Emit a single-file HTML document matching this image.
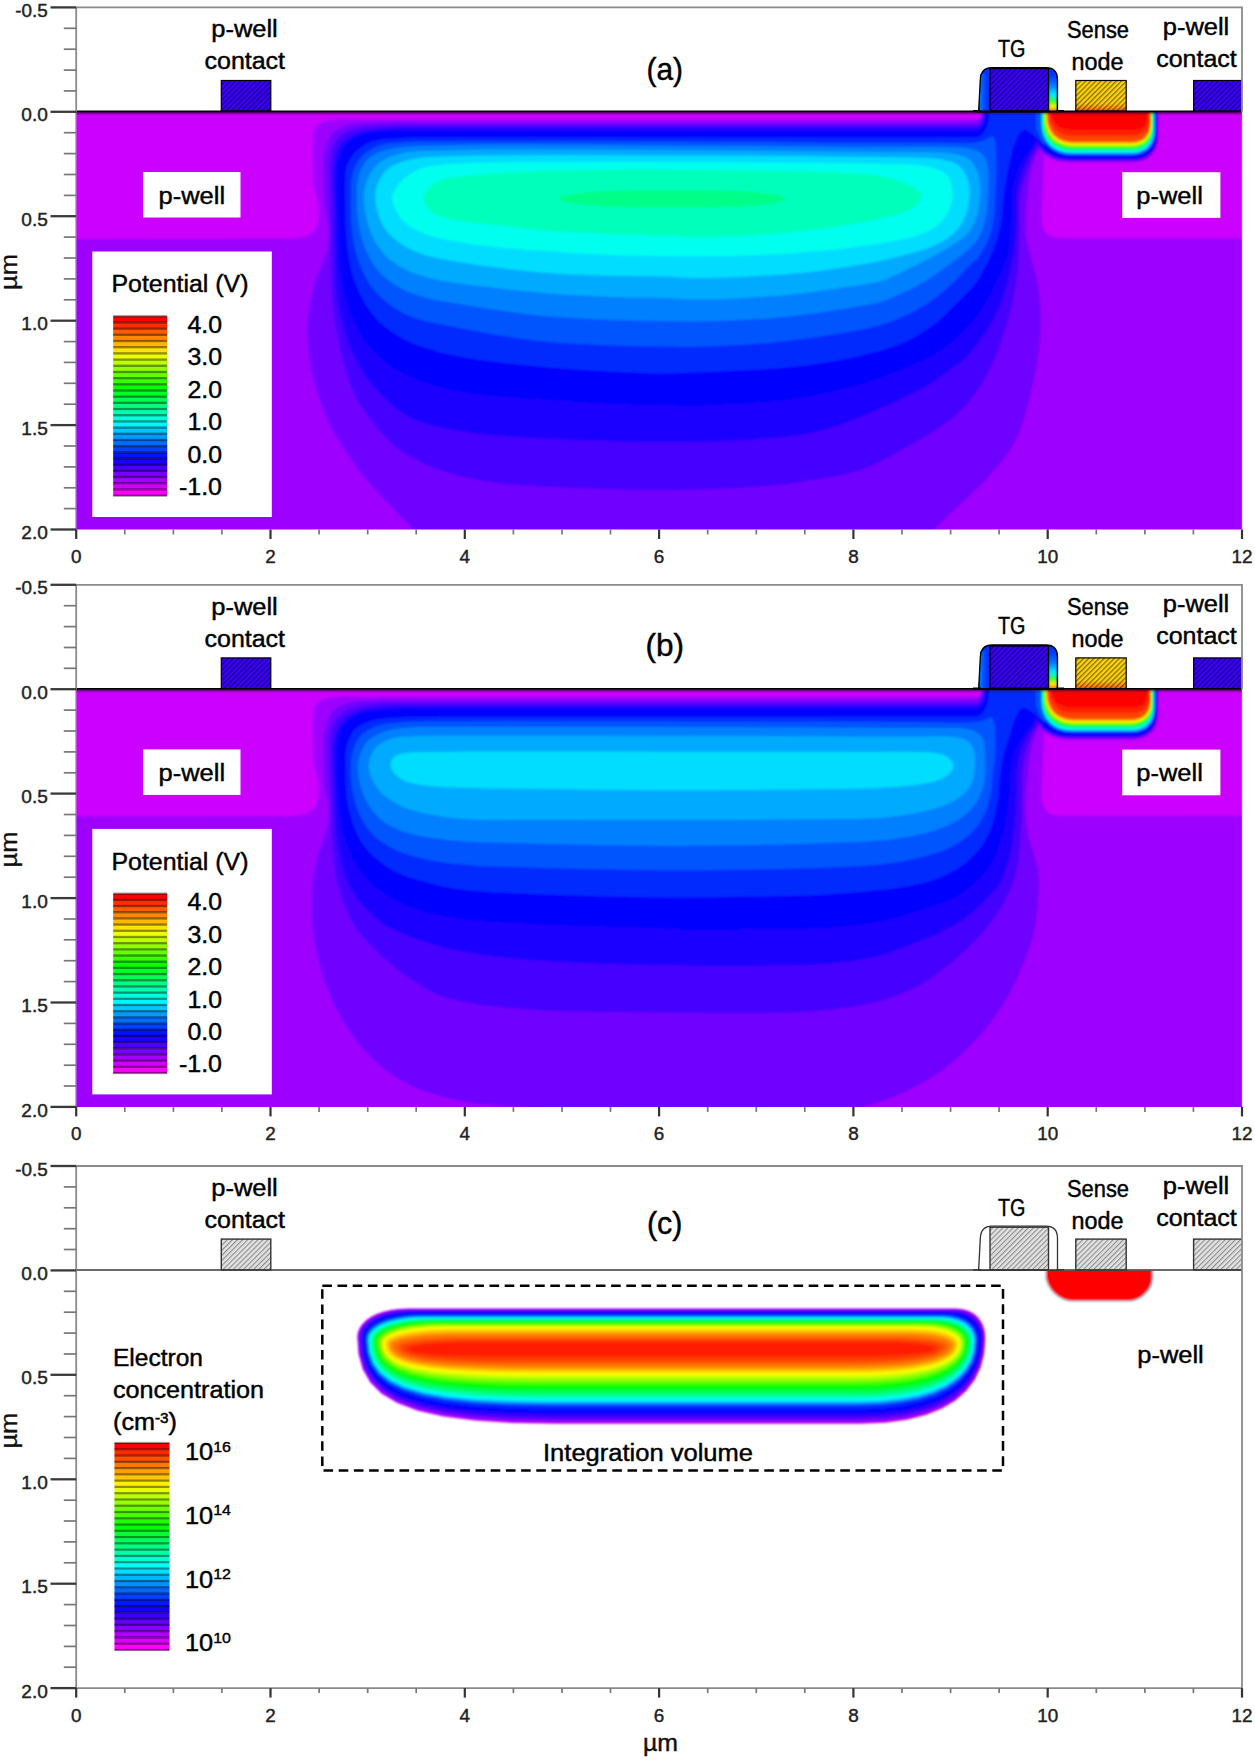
<!DOCTYPE html>
<html><head><meta charset="utf-8"><title>Figure</title>
<style>html,body{margin:0;padding:0;background:#fff}svg{display:block}</style></head>
<body>
<svg width="1255" height="1761" viewBox="0 0 1255 1761" font-family="Liberation Sans, sans-serif"><defs>
<pattern id="h1" width="3.6" height="3.6" patternUnits="userSpaceOnUse" patternTransform="rotate(-45)"><rect width="3.6" height="1.25" fill="#000" fill-opacity="0.5"/></pattern>
<pattern id="h2" width="3.6" height="3.6" patternUnits="userSpaceOnUse" patternTransform="rotate(-45)"><rect width="3.6" height="1.1" fill="#555" fill-opacity="0.62"/></pattern>
<filter id="bl" x="-2%" y="-2%" width="104%" height="104%"><feGaussianBlur stdDeviation="1.0"/></filter>
<clipPath id="cpa"><rect x="76.2" y="111.8" width="1165.8" height="417.7"/></clipPath><clipPath id="cpa2"><rect x="76.2" y="0" width="1165.8" height="529.5"/></clipPath>
<clipPath id="cpb"><rect x="76.2" y="689.2" width="1165.8" height="417.7"/></clipPath><clipPath id="cpb2"><rect x="76.2" y="577" width="1165.8" height="529.9"/></clipPath>
<clipPath id="cpc"><rect x="76.2" y="1270.4" width="1165.8" height="418"/></clipPath><clipPath id="cpc2"><rect x="76.2" y="1160" width="1165.8" height="529"/></clipPath>
</defs>
<g clip-path="url(#cpa)"><g filter="url(#bl)">
<rect x="50" y="103.8" width="1220" height="450" fill="#9D00FF"/>
<path d="M50.0,103.8L990.0,103.8L990.0,119.3L340.0,119.3L326.0,121.0L317.0,125.0L313.5,131.0L313.0,150.0L313.5,185.0L314.2,188.0L315.0,191.1L315.7,194.2L316.4,197.2L317.0,200.0L317.4,202.1L317.8,204.1L318.1,206.0L318.4,207.9L318.5,210.0L318.6,212.7L318.6,215.6L318.4,218.6L318.1,221.5L317.5,224.0L316.9,225.8L316.1,227.6L315.2,229.2L314.2,230.7L313.0,232.0L311.5,233.3L309.8,234.4L308.0,235.4L306.0,236.3L304.0,237.0L301.4,237.6L298.7,237.9L295.8,238.1L292.9,238.3L290.0,238.5L50.0,239.0Z" fill="#CC00FF" />
<path d="M1270.0,103.8L1270.0,238.5L1062.0,238.0L1059.5,237.7L1057.0,237.5L1054.4,237.3L1052.1,236.8L1050.0,236.0L1048.4,235.0L1046.9,233.7L1045.6,232.3L1044.5,230.7L1043.5,229.0L1042.6,226.7L1042.1,224.0L1041.8,221.2L1041.6,218.2L1041.5,215.0L1041.4,210.5L1041.6,205.5L1041.9,200.3L1042.2,195.1L1042.5,190.0L1042.7,184.9L1042.9,179.7L1043.1,174.5L1043.3,169.6L1043.5,165.0L1043.6,161.8L1043.7,158.7L1043.8,155.8L1043.9,152.9L1044.0,150.0L1040.0,103.8Z" fill="#CC00FF" />
<path d="M440.0,122.5L429.4,122.5L418.4,122.4L407.5,122.3L396.8,122.3L386.9,122.4L378.0,122.6L372.6,122.8L367.6,122.9L362.9,123.0L358.5,123.3L354.2,123.9L350.2,124.7L347.0,125.6L343.9,126.6L341.0,127.7L338.3,129.0L335.7,130.6L333.5,132.5L331.5,134.8L329.8,137.5L328.3,140.4L327.0,143.5L325.9,146.7L325.0,150.0L324.3,153.8L323.9,157.8L323.8,162.0L323.9,166.3L324.0,170.6L324.0,175.0L324.0,180.0L324.1,185.2L324.2,190.5L324.4,195.8L324.6,201.0L325.0,206.0L325.5,210.2L326.2,214.3L326.9,218.3L327.6,222.3L328.2,226.2L328.5,230.0L328.6,233.5L328.5,236.9L328.3,240.3L328.0,243.6L327.6,246.9L327.0,250.0L326.4,252.7L325.6,255.3L324.7,257.9L323.8,260.3L322.9,262.7L322.0,265.0L321.3,266.7L320.5,268.3L319.8,269.8L319.0,271.4L318.2,273.1L317.5,275.0L316.4,278.5L315.2,282.5L314.0,286.8L312.9,291.2L311.9,295.7L311.0,300.0L310.2,304.1L309.4,308.3L308.8,312.5L308.2,316.6L307.8,320.8L307.5,325.0L307.4,329.2L307.5,333.3L307.6,337.5L307.9,341.7L308.3,345.8L308.7,350.0L309.1,354.2L309.6,358.4L310.2,362.5L310.9,366.7L311.6,370.9L312.5,375.0L313.5,379.2L314.6,383.4L315.9,387.5L317.2,391.7L318.6,395.9L320.0,400.0L321.5,404.2L323.0,408.4L324.6,412.6L326.3,416.8L328.1,420.9L330.0,425.0L332.2,429.2L334.6,433.4L337.1,437.6L339.7,441.7L342.3,445.9L345.0,450.0L347.7,454.2L350.5,458.4L353.4,462.6L356.3,466.8L359.3,470.9L362.5,475.0L366.0,479.2L369.6,483.4L373.3,487.5L377.1,491.6L381.0,495.8L385.0,500.0L389.4,504.7L394.1,509.5L398.8,514.4L403.5,519.1L408.1,523.7L412.5,528.0L415.5,531.3L417.9,534.6L420.2,537.7L423.0,540.7L426.7,543.4L432.0,546.0L482.5,554.6L568.9,559.8L673.3,561.5L777.7,559.7L864.3,554.6L915.0,546.0L920.4,543.4L924.2,540.7L927.0,537.7L929.4,534.6L931.9,531.3L935.0,528.0L939.7,523.7L944.7,519.1L949.8,514.3L955.0,509.5L960.1,504.7L965.0,500.0L969.4,495.8L973.7,491.6L977.9,487.5L982.1,483.4L986.1,479.2L990.0,475.0L993.6,470.9L997.2,466.8L1000.7,462.7L1004.0,458.5L1007.1,454.3L1010.0,450.0L1012.4,446.0L1014.6,442.0L1016.6,438.0L1018.5,433.9L1020.3,429.6L1022.0,425.0L1024.0,419.2L1025.8,413.0L1027.5,406.5L1029.1,400.0L1030.6,393.4L1032.0,387.0L1033.4,380.8L1034.7,374.7L1036.0,368.5L1037.2,362.4L1038.2,356.2L1039.0,350.0L1039.6,343.6L1040.1,337.1L1040.4,330.6L1040.6,324.1L1040.6,317.9L1040.5,312.0L1040.3,307.5L1040.0,303.3L1039.7,299.2L1039.2,295.1L1038.7,291.1L1038.0,287.0L1037.2,282.8L1036.2,278.5L1035.2,274.3L1034.1,270.1L1033.0,266.0L1032.0,262.0L1031.1,258.5L1030.2,255.1L1029.3,251.8L1028.4,248.5L1027.6,245.2L1027.0,242.0L1026.6,239.1L1026.2,236.4L1025.9,233.6L1025.7,230.9L1025.6,228.0L1025.5,225.0L1025.5,221.1L1025.7,217.0L1025.9,212.8L1026.3,208.5L1026.6,204.2L1027.0,200.0L1027.4,195.8L1027.8,191.5L1028.2,187.2L1028.7,183.0L1029.3,178.9L1030.0,175.0L1030.7,171.8L1031.5,168.6L1032.3,165.5L1033.2,162.5L1034.1,159.7L1035.0,157.0L1035.8,155.0L1036.7,153.2L1037.6,151.5L1038.5,149.7L1039.3,147.9L1040.0,146.0L1040.7,143.5L1041.3,141.0L1041.8,138.3L1042.3,135.5L1042.7,132.8L1043.0,130.0L1043.3,127.0L1043.5,124.0L1043.6,121.0L1043.7,117.9L1043.9,114.8L1044.0,111.8L1044.0,103.8L982.0,103.8L982.0,111.8L981.8,114.8L981.1,117.4L980.1,119.6L978.7,121.2L977.0,122.2L975.0,122.5L440.0,122.5Z" fill="#7000FF" />
<path d="M1031.5,103.8L1031.5,125.5L1032.1,133.7L1034.1,141.0L1037.2,147.3L1041.4,152.6L1046.7,156.8L1053.0,159.9L1060.3,161.9L1068.5,162.5L1132.5,162.5L1138.2,162.0L1143.4,160.7L1147.8,158.5L1151.5,155.5L1154.5,151.8L1156.7,147.4L1158.0,142.2L1158.5,136.5L1158.5,103.8Z" fill="#9D00FF" />
<path d="M1032.0,103.8L1032.0,124.5L1032.6,132.6L1034.5,139.9L1037.6,146.2L1041.8,151.5L1047.1,155.7L1053.4,158.8L1060.7,160.7L1068.8,161.3L1132.4,161.3L1138.0,160.9L1143.1,159.5L1147.4,157.4L1151.1,154.5L1154.0,150.8L1156.1,146.5L1157.5,141.4L1157.9,135.8L1157.9,103.8Z" fill="#7000FF" />
<path d="M440.0,125.3L429.4,125.3L418.3,125.3L407.3,125.2L396.7,125.3L386.8,125.5L378.0,126.0L372.9,126.4L368.2,126.8L363.8,127.3L359.6,127.9L355.7,128.8L352.0,130.0L349.1,131.2L346.2,132.6L343.6,134.1L341.1,135.8L338.9,137.8L337.0,140.0L335.3,142.7L333.9,145.9L332.7,149.2L331.9,152.8L331.1,156.4L330.5,160.0L330.0,164.0L329.8,168.2L329.9,172.4L330.0,176.7L330.1,180.9L330.2,185.0L330.2,188.5L330.3,191.8L330.4,195.0L330.4,198.3L330.5,201.9L330.6,206.0L330.7,213.8L330.7,222.9L330.8,232.7L330.8,242.8L330.9,252.7L331.1,262.0L331.3,269.9L331.4,277.6L331.6,285.3L331.9,292.7L332.2,299.8L332.8,306.6L333.4,311.7L334.1,316.6L334.8,321.2L335.6,325.8L336.5,330.2L337.3,334.5L338.0,338.1L338.7,341.5L339.4,344.9L340.1,348.2L340.9,351.6L341.7,355.0L342.6,358.8L343.6,362.6L344.5,366.5L345.6,370.4L346.7,374.2L348.0,378.0L349.3,381.7L350.7,385.4L352.2,389.1L353.8,392.7L355.6,396.3L357.5,400.0L359.9,404.2L362.6,408.4L365.5,412.6L368.5,416.8L371.7,420.9L375.0,425.0L378.7,429.4L382.5,433.7L386.5,438.0L390.7,442.2L395.2,446.2L400.0,450.0L405.8,453.9L412.1,457.6L418.7,461.1L425.6,464.3L432.7,467.2L440.0,470.0L448.4,472.8L457.2,475.2L466.3,477.4L475.6,479.3L485.2,481.0L495.0,482.5L506.7,484.0L518.8,485.0L531.3,485.8L544.0,486.4L557.0,486.9L570.0,487.5L584.5,488.1L599.4,488.7L614.5,489.2L629.7,489.5L644.9,489.8L660.0,489.8L675.3,489.7L691.0,489.4L706.7,489.0L722.0,488.5L736.5,487.8L750.0,487.0L759.1,486.4L767.6,485.7L775.7,485.0L783.6,484.2L791.6,483.2L800.0,482.0L809.8,480.6L819.9,479.0L830.2,477.3L840.4,475.3L850.4,472.9L860.0,470.0L868.8,466.6L877.4,462.7L885.9,458.5L894.1,454.0L902.1,449.5L910.0,445.0L917.2,441.0L924.3,436.8L931.4,432.7L938.1,428.5L944.3,424.2L950.0,420.0L953.9,416.7L957.5,413.5L960.9,410.2L964.0,406.9L967.0,403.5L970.0,400.0L972.8,396.5L975.5,392.9L978.0,389.3L980.4,385.5L982.8,381.8L985.0,378.0L987.1,374.3L989.0,370.4L990.9,366.6L992.7,362.7L994.4,358.8L996.0,355.0L997.5,351.4L998.8,347.7L1000.1,344.1L1001.4,340.4L1002.6,336.8L1003.8,333.1L1005.0,329.4L1006.2,325.7L1007.4,322.0L1008.5,318.3L1009.5,314.5L1010.5,310.8L1011.4,307.1L1012.2,303.3L1013.0,299.5L1013.7,295.8L1014.4,292.1L1015.0,288.5L1015.6,285.3L1016.1,282.2L1016.6,279.2L1017.0,276.1L1017.4,273.1L1017.8,270.0L1018.1,266.9L1018.3,263.7L1018.5,260.6L1018.6,257.4L1018.8,254.2L1018.9,250.8L1019.1,246.7L1019.2,242.6L1019.3,238.3L1019.4,233.9L1019.5,229.5L1019.6,225.0L1019.6,220.0L1019.5,214.8L1019.4,209.5L1019.4,204.3L1019.6,199.4L1020.0,195.0L1020.5,192.2L1021.1,189.5L1021.8,187.0L1022.5,184.7L1023.3,182.3L1024.0,180.0L1024.6,177.9L1025.3,175.9L1025.9,173.9L1026.6,171.9L1027.3,170.0L1028.0,168.0L1028.8,166.0L1029.6,164.0L1030.4,161.9L1031.2,159.9L1032.1,158.0L1033.0,156.0L1034.0,154.2L1035.1,152.4L1036.2,150.6L1037.3,148.8L1038.2,147.0L1039.0,145.0L1039.6,142.7L1040.1,140.3L1040.4,137.8L1040.6,135.2L1040.8,132.6L1041.0,130.0L1041.2,127.1L1041.4,124.1L1041.6,121.0L1041.7,117.9L1041.8,114.9L1042.0,111.8L1042.0,103.8L983.0,103.8L983.0,111.8L982.8,115.6L982.1,118.9L981.1,121.6L979.7,123.6L978.0,124.9L976.0,125.3L440.0,125.3Z" fill="#4400FF" />
<path d="M1032.5,103.8L1032.5,123.6L1033.1,131.7L1035.0,138.9L1038.1,145.2L1042.3,150.4L1047.5,154.6L1053.8,157.7L1061.0,159.6L1069.1,160.2L1132.3,160.2L1137.8,159.8L1142.7,158.5L1147.0,156.4L1150.6,153.5L1153.5,149.9L1155.6,145.6L1156.9,140.7L1157.3,135.2L1157.3,103.8Z" fill="#4400FF" />
<path d="M440.0,128.0L430.6,128.1L421.0,128.1L411.4,128.1L402.0,128.2L393.1,128.4L385.0,129.0L379.5,129.5L374.2,130.0L369.2,130.6L364.5,131.4L360.1,132.5L356.0,134.0L352.8,135.5L349.7,137.2L346.9,139.1L344.3,141.2L342.0,143.5L340.0,146.0L338.4,148.7L337.2,151.8L336.3,155.0L335.6,158.3L335.0,161.7L334.5,165.0L334.1,168.3L333.9,171.6L333.9,174.9L333.9,178.3L334.0,181.6L334.0,185.0L334.0,188.4L334.1,191.7L334.2,195.0L334.3,198.4L334.4,202.0L334.5,206.0L334.6,212.5L334.6,219.7L334.7,227.4L334.7,235.3L334.8,243.1L335.0,250.8L335.2,258.4L335.4,266.1L335.7,273.8L336.1,281.3L336.6,288.6L337.3,295.4L338.0,300.4L338.8,305.2L339.6,309.8L340.6,314.3L341.7,318.8L342.8,323.3L344.1,328.0L345.4,332.8L346.9,337.6L348.4,342.3L350.0,346.8L351.8,351.2L353.5,354.9L355.2,358.5L357.0,362.0L358.9,365.4L360.9,368.7L363.0,372.0L365.2,375.3L367.4,378.4L369.8,381.6L372.3,384.7L375.0,387.8L378.0,391.0L382.3,395.5L387.1,400.2L392.2,404.9L397.7,409.5L403.6,413.8L410.0,417.5L418.5,421.2L427.7,424.2L437.5,426.7L447.9,428.8L458.8,430.7L470.0,432.5L485.2,434.5L501.6,436.0L518.7,437.1L536.1,438.0L553.3,438.7L570.0,439.5L585.2,440.2L600.2,440.8L615.0,441.3L629.8,441.7L644.8,441.9L660.0,442.0L676.7,441.9L693.9,441.7L711.3,441.4L728.4,440.8L744.8,440.0L760.0,439.0L770.9,438.1L781.2,437.2L791.1,436.1L800.8,434.8L810.3,433.2L820.0,431.0L830.2,428.1L840.5,424.6L850.9,420.7L860.8,416.7L870.1,412.8L878.5,409.3L883.6,407.1L888.2,405.1L892.5,403.1L896.7,401.1L900.8,399.1L905.0,397.0L909.2,394.9L913.4,392.8L917.5,390.7L921.6,388.5L925.6,386.3L929.5,384.0L933.1,381.8L936.6,379.5L940.0,377.2L943.4,374.8L946.7,372.4L950.0,370.0L953.2,367.6L956.3,365.2L959.5,362.7L962.5,360.2L965.4,357.6L968.1,355.0L970.4,352.6L972.6,350.1L974.6,347.6L976.6,345.1L978.5,342.5L980.4,339.8L982.4,336.9L984.3,334.0L986.2,331.0L988.1,328.0L989.9,324.9L991.6,321.9L993.2,319.0L994.8,316.1L996.3,313.2L997.8,310.2L999.2,307.2L1000.5,304.1L1001.8,300.7L1003.0,297.2L1004.1,293.7L1005.2,290.1L1006.2,286.5L1007.2,282.9L1008.1,279.4L1009.0,276.0L1009.8,272.5L1010.6,269.0L1011.3,265.5L1012.0,262.0L1012.7,258.3L1013.4,254.6L1014.0,250.9L1014.6,247.2L1015.1,243.4L1015.5,239.6L1015.9,235.5L1016.1,231.4L1016.3,227.2L1016.5,223.1L1016.6,219.0L1016.7,215.0L1016.8,211.5L1016.7,208.1L1016.7,204.7L1016.7,201.4L1016.8,198.1L1017.0,195.0L1017.3,192.3L1017.8,189.8L1018.2,187.2L1018.8,184.8L1019.4,182.4L1020.0,180.0L1020.6,177.9L1021.2,175.9L1021.9,173.9L1022.6,171.9L1023.3,170.0L1024.0,168.0L1024.8,166.0L1025.5,164.0L1026.3,161.9L1027.2,159.9L1028.0,157.9L1029.0,156.0L1030.1,154.1L1031.3,152.4L1032.6,150.6L1033.9,148.8L1035.0,147.0L1036.0,145.0L1036.8,142.7L1037.4,140.3L1037.9,137.8L1038.3,135.2L1038.7,132.6L1039.0,130.0L1039.3,127.1L1039.5,124.1L1039.6,121.0L1039.8,117.9L1039.9,114.9L1040.0,111.8L1040.0,103.8L984.0,103.8L984.0,111.8L983.7,116.4L983.0,120.3L981.8,123.5L980.2,126.0L978.3,127.5L976.0,128.0L440.0,128.0Z" fill="#1A00FF" />
<path d="M1033.0,103.8L1033.0,122.9L1033.6,130.9L1035.5,138.1L1038.6,144.3L1042.7,149.5L1047.9,153.6L1054.1,156.7L1061.3,158.6L1069.3,159.2L1132.2,159.2L1137.6,158.8L1142.4,157.5L1146.6,155.5L1150.1,152.6L1153.0,149.1L1155.0,144.9L1156.3,140.1L1156.7,134.7L1156.7,103.8Z" fill="#1A00FF" />
<path d="M440.0,130.9L431.3,130.9L422.4,130.9L413.5,130.9L404.8,130.9L396.6,131.0L389.0,131.4L383.8,131.7L378.8,132.0L374.0,132.4L369.5,132.9L365.3,133.7L361.4,134.8L358.5,135.9L355.9,137.1L353.4,138.5L351.0,140.1L348.9,141.8L346.9,143.7L345.1,145.8L343.6,148.0L342.2,150.5L341.0,153.0L339.9,155.6L339.0,158.2L338.3,160.8L337.8,163.5L337.5,166.3L337.3,169.1L337.1,172.0L337.0,175.0L336.9,178.8L336.9,182.7L336.9,186.8L337.1,191.1L337.2,195.4L337.3,200.0L337.4,206.1L337.5,212.5L337.7,219.3L337.8,226.1L338.1,232.9L338.4,239.6L338.8,246.2L339.2,252.9L339.6,259.6L340.2,266.2L340.8,272.6L341.7,278.7L342.6,283.7L343.5,288.4L344.5,293.0L345.7,297.5L346.9,302.1L348.4,306.6L350.1,311.4L351.9,316.2L353.8,321.0L356.0,325.7L358.2,330.2L360.7,334.5L363.1,338.3L365.7,341.9L368.4,345.3L371.3,348.7L374.3,351.9L377.4,355.0L380.8,358.1L384.3,361.2L388.0,364.1L391.9,366.9L395.9,369.5L400.0,372.0L404.7,374.4L409.6,376.6L414.7,378.7L419.8,380.6L425.0,382.3L430.0,384.0L434.5,385.4L439.0,386.7L443.4,387.9L447.9,389.0L452.6,390.0L457.5,391.0L464.0,392.1L470.9,393.2L478.1,394.1L485.4,395.0L492.8,395.8L500.0,396.5L507.2,397.1L514.4,397.7L521.6,398.2L528.9,398.6L536.3,399.0L544.0,399.5L552.9,400.1L562.1,400.7L571.5,401.3L580.9,401.9L590.5,402.5L600.0,403.0L610.0,403.4L620.3,403.9L630.6,404.2L640.8,404.5L650.7,404.8L660.0,405.0L667.0,405.2L673.6,405.3L680.0,405.4L686.4,405.5L693.0,405.5L700.0,405.4L709.4,405.1L719.5,404.6L729.9,404.1L740.3,403.4L750.5,402.7L760.0,402.0L767.5,401.4L774.7,400.9L781.6,400.3L788.5,399.6L795.2,398.8L802.0,397.8L808.5,396.7L814.8,395.4L821.1,394.1L827.4,392.6L833.7,391.1L840.0,389.5L846.5,387.9L853.1,386.2L859.7,384.4L866.2,382.5L872.5,380.6L878.5,378.7L883.2,377.0L887.7,375.3L892.1,373.5L896.3,371.7L900.6,369.9L905.0,368.0L909.8,366.0L914.8,363.8L919.8,361.7L924.7,359.5L929.3,357.2L933.5,355.0L936.4,353.3L939.2,351.6L941.7,349.9L944.2,348.1L946.6,346.2L949.2,344.2L952.2,341.7L955.3,339.0L958.3,336.2L961.3,333.3L964.2,330.4L967.0,327.5L969.5,324.8L971.8,322.0L974.1,319.3L976.3,316.5L978.4,313.6L980.4,310.8L982.2,308.1L984.0,305.3L985.7,302.5L987.3,299.7L988.9,296.8L990.4,294.0L991.8,291.3L993.2,288.5L994.5,285.8L995.7,283.0L997.0,280.2L998.3,277.3L999.8,274.1L1001.4,270.8L1003.0,267.4L1004.5,264.0L1005.9,260.5L1007.0,257.0L1007.9,253.3L1008.7,249.5L1009.2,245.7L1009.7,241.8L1010.1,237.9L1010.5,234.0L1010.8,230.0L1011.1,225.9L1011.2,221.8L1011.4,217.8L1011.5,213.8L1011.6,210.0L1011.7,206.8L1011.7,203.7L1011.6,200.7L1011.7,197.7L1011.8,194.8L1012.0,192.0L1012.3,189.5L1012.8,187.1L1013.3,184.8L1013.8,182.5L1014.4,180.2L1015.0,178.0L1015.6,176.1L1016.2,174.2L1016.8,172.4L1017.5,170.6L1018.2,168.8L1019.0,167.0L1019.8,165.1L1020.7,163.3L1021.7,161.4L1022.7,159.6L1023.7,157.8L1024.8,156.0L1026.1,154.2L1027.5,152.4L1029.0,150.7L1030.5,148.9L1031.9,147.0L1033.0,145.0L1034.0,142.7L1034.8,140.3L1035.5,137.8L1036.1,135.3L1036.6,132.6L1037.0,130.0L1037.4,127.1L1037.6,124.1L1037.7,121.0L1037.8,117.9L1037.9,114.9L1038.0,111.8L1038.0,103.8L985.0,103.8L985.0,111.8L984.7,117.2L983.9,121.8L982.5,125.6L980.7,128.5L978.5,130.3L976.0,130.9L440.0,130.9Z" fill="#0000FF" />
<path d="M1033.5,103.8L1033.5,122.2L1034.1,130.2L1036.0,137.2L1039.0,143.4L1043.1,148.6L1048.3,152.7L1054.5,155.7L1061.5,157.6L1069.5,158.2L1132.0,158.2L1137.3,157.8L1142.0,156.5L1146.1,154.5L1149.6,151.8L1152.3,148.3L1154.3,144.2L1155.6,139.5L1156.0,134.2L1156.0,103.8Z" fill="#0000FF" />
<path d="M440.0,137.6L433.3,137.6L426.5,137.6L419.8,137.6L413.1,137.6L406.6,137.8L400.4,138.1L395.4,138.4L390.4,138.7L385.6,139.0L381.0,139.6L376.6,140.4L372.5,141.5L369.3,142.7L366.2,144.1L363.3,145.7L360.6,147.5L358.1,149.4L355.8,151.5L353.9,153.6L352.1,155.8L350.5,158.2L349.1,160.7L347.9,163.3L346.9,166.0L346.1,169.1L345.6,172.5L345.3,175.9L345.2,179.4L345.1,182.8L345.0,186.0L344.9,188.4L344.9,190.6L344.9,192.8L345.0,195.0L345.0,197.3L345.1,200.0L345.2,204.8L345.3,210.2L345.4,216.1L345.5,222.1L345.8,228.2L346.2,234.0L346.7,239.7L347.2,245.4L347.9,251.1L348.7,256.7L349.6,262.2L350.7,267.5L351.8,272.0L353.1,276.4L354.5,280.7L356.0,284.9L357.7,289.1L359.6,293.2L361.7,297.5L364.0,301.7L366.4,305.9L369.1,310.0L372.0,313.9L375.2,317.7L379.1,321.7L383.5,325.5L388.1,329.2L393.0,332.7L398.0,336.0L403.1,338.9L408.4,341.5L413.9,343.9L419.6,346.0L425.4,347.9L431.1,349.6L436.6,351.2L441.4,352.5L446.1,353.7L450.7,354.7L455.4,355.7L460.1,356.6L465.0,357.5L470.6,358.5L476.2,359.4L482.0,360.2L487.9,361.0L493.9,361.7L500.0,362.5L507.0,363.3L514.1,364.1L521.3,364.9L528.7,365.6L536.3,366.3L544.0,367.0L552.9,367.8L562.1,368.5L571.5,369.2L580.9,369.8L590.5,370.4L600.0,371.0L610.0,371.5L620.3,372.1L630.6,372.6L640.8,373.0L650.7,373.3L660.0,373.4L667.0,373.4L673.6,373.3L680.0,373.1L686.4,372.8L693.0,372.6L700.0,372.3L709.4,371.9L719.5,371.5L729.9,371.1L740.3,370.6L750.5,370.1L760.0,369.5L767.5,369.0L774.6,368.5L781.6,368.0L788.4,367.4L795.2,366.8L802.0,366.0L808.4,365.2L814.8,364.3L821.1,363.3L827.4,362.3L833.6,361.2L840.0,360.0L846.8,358.7L853.7,357.2L860.7,355.7L867.5,354.1L874.0,352.5L880.0,350.9L884.1,349.7L888.0,348.5L891.6,347.3L895.2,346.0L898.7,344.6L902.3,343.1L906.1,341.3L909.9,339.4L913.7,337.4L917.4,335.3L921.1,333.1L924.6,330.9L927.8,328.8L930.9,326.7L933.9,324.5L936.8,322.2L939.7,319.9L942.5,317.5L945.2,315.0L947.8,312.5L950.4,309.9L953.0,307.3L955.5,304.6L958.1,301.9L960.9,299.1L963.8,296.3L966.7,293.5L969.6,290.5L972.3,287.4L975.0,284.0L978.0,279.7L980.9,275.0L983.6,270.1L986.3,265.0L988.8,259.9L991.0,255.0L992.9,250.5L994.6,245.9L996.2,241.4L997.7,236.9L998.9,232.4L1000.0,228.0L1000.8,224.0L1001.3,220.1L1001.7,216.2L1002.0,212.3L1002.3,208.6L1002.7,205.0L1003.0,202.2L1003.3,199.4L1003.6,196.7L1003.8,194.1L1004.2,191.6L1004.5,189.0L1004.9,186.6L1005.3,184.3L1005.7,182.0L1006.1,179.7L1006.6,177.3L1007.0,175.0L1007.5,172.5L1007.9,170.0L1008.4,167.5L1008.9,165.0L1009.4,162.5L1010.0,160.0L1010.6,157.6L1011.2,155.2L1011.8,152.9L1012.5,150.5L1013.2,148.2L1014.0,146.0L1014.7,143.9L1015.5,141.8L1016.3,139.8L1017.1,137.8L1018.0,136.0L1019.0,134.5L1019.8,133.5L1020.5,132.5L1021.4,131.6L1022.2,130.9L1023.1,130.3L1024.0,130.0L1024.9,130.0L1025.9,130.3L1027.0,130.7L1028.0,131.3L1029.0,131.9L1030.0,132.5L1031.0,133.2L1032.0,134.0L1033.0,134.8L1033.9,135.7L1034.9,136.6L1036.0,137.5L1037.3,138.6L1038.6,140.0L1040.1,141.4L1041.4,142.5L1042.8,143.3L1044.0,143.5L1045.2,143.0L1046.3,142.0L1047.4,140.5L1048.4,138.8L1049.2,136.9L1050.0,135.0L1050.8,131.9L1051.3,128.2L1051.5,124.2L1051.6,120.0L1051.8,115.8L1052.0,111.8L1052.0,103.8L989.0,103.8L989.0,111.8L988.5,119.1L987.2,125.4L985.1,130.5L982.4,134.4L979.0,136.8L975.0,137.6L440.0,137.6Z" fill="#002AFF" />
<path d="M433.6,141.5L428.5,141.5L424.1,141.5L420.1,141.6L416.0,141.7L411.5,142.0L405.9,142.3L400.1,142.6L394.1,143.0L388.3,143.6L382.9,144.6L378.0,146.0L374.5,147.5L371.1,149.2L368.0,151.2L365.1,153.4L362.5,155.7L360.2,158.2L358.3,160.7L356.8,163.3L355.4,166.1L354.2,169.0L353.3,172.0L352.4,175.0L351.7,178.1L351.3,181.3L351.0,184.5L350.9,187.9L350.8,191.3L350.7,195.0L350.6,200.1L350.6,205.6L350.7,211.4L350.9,217.2L351.3,223.0L351.8,228.5L352.4,233.5L353.1,238.5L353.9,243.4L354.9,248.2L356.1,252.9L357.4,257.5L358.8,261.8L360.4,266.1L362.2,270.2L364.1,274.3L366.2,278.2L368.5,282.0L371.0,285.7L373.7,289.2L376.6,292.7L379.6,296.0L382.9,299.1L386.4,302.1L390.4,305.1L394.6,308.0L399.1,310.7L403.8,313.2L408.9,315.5L414.2,317.7L421.8,320.2L430.2,322.3L439.1,324.1L448.1,325.8L456.9,327.4L465.0,328.9L471.2,330.2L477.0,331.3L482.6,332.4L488.3,333.5L494.0,334.5L500.0,335.5L507.0,336.6L514.1,337.7L521.3,338.8L528.7,339.8L536.3,340.7L544.0,341.5L552.9,342.3L562.1,343.0L571.4,343.6L580.9,344.1L590.5,344.6L600.0,345.0L610.0,345.4L620.3,345.7L630.6,346.0L640.8,346.3L650.7,346.4L660.0,346.6L667.0,346.7L673.6,346.8L680.0,346.9L686.4,347.0L693.0,346.9L700.0,346.8L709.4,346.5L719.5,346.1L729.9,345.5L740.4,344.9L750.5,344.2L760.0,343.5L767.5,342.9L774.6,342.2L781.6,341.4L788.4,340.7L795.2,339.8L802.0,339.0L808.4,338.2L814.8,337.3L821.1,336.5L827.3,335.6L833.6,334.6L840.0,333.5L846.8,332.3L853.7,331.1L860.7,329.8L867.5,328.4L874.0,326.9L880.0,325.3L884.1,324.0L888.0,322.7L891.6,321.4L895.2,320.0L898.7,318.5L902.3,316.9L906.1,315.2L909.9,313.3L913.7,311.4L917.5,309.3L921.1,307.3L924.6,305.2L927.6,303.3L930.5,301.3L933.4,299.2L936.1,297.2L938.8,295.1L941.4,293.0L943.8,291.0L946.1,289.1L948.4,287.1L950.6,285.1L952.8,283.1L955.0,281.0L957.1,278.9L959.1,276.7L961.0,274.6L963.0,272.4L965.0,270.2L967.0,268.0L969.2,265.8L971.5,263.7L973.7,261.6L976.0,259.5L978.1,257.3L980.0,255.0L981.6,252.7L983.1,250.3L984.5,247.8L985.7,245.3L986.9,242.7L988.0,240.0L989.2,236.9L990.2,233.7L991.2,230.4L992.1,227.0L992.8,223.5L993.5,220.0L994.1,216.0L994.5,211.9L994.8,207.7L995.1,203.5L995.3,199.2L995.5,195.0L995.7,190.8L995.9,186.5L996.1,182.2L996.2,178.0L996.3,173.9L996.3,170.0L996.3,166.9L996.3,163.8L996.3,160.9L996.2,158.0L996.1,155.2L996.0,152.6L995.9,150.6L995.8,148.5L995.7,146.6L995.6,144.8L995.3,143.1L995.0,141.5L994.7,140.4L994.4,139.4L994.1,138.4L993.7,137.5L993.3,136.8L992.7,136.4L991.9,136.3L991.1,136.6L990.1,137.0L989.1,137.6L988.0,138.2L987.0,138.7L986.0,139.2L984.9,139.7L983.9,140.2L982.8,140.6L981.6,141.1L980.4,141.5L978.8,141.9L977.0,142.3L975.2,142.6L973.3,142.9L971.2,143.1L969.0,143.3L965.1,143.5L960.7,143.4L956.0,143.3L950.9,143.1L945.6,142.9L940.0,142.8L931.6,142.7L922.8,142.7L913.4,142.7L903.2,142.7L892.1,142.6L880.0,142.6L856.0,142.5L828.4,142.4L798.1,142.2L766.0,142.1L733.0,141.9L700.0,141.8L656.4,141.7L607.2,141.5L556.6,141.4L509.1,141.4L468.8,141.4L440.0,141.5Z" fill="#0055FF" />
<path d="M428.9,145.8L419.2,146.1L410.5,146.5L402.7,147.0L395.6,147.9L389.0,149.3L384.9,150.4L381.2,151.6L377.7,152.9L374.6,154.4L371.7,156.1L369.0,158.2L366.7,160.5L364.7,163.1L363.0,165.9L361.4,168.9L360.1,171.9L359.0,175.0L358.1,178.1L357.6,181.3L357.2,184.6L357.0,188.0L356.9,191.4L356.8,195.0L356.8,199.4L356.8,204.0L357.0,208.8L357.4,213.5L357.9,218.3L358.5,222.9L359.3,227.3L360.1,231.7L361.2,236.0L362.3,240.3L363.7,244.5L365.2,248.5L366.8,252.3L368.6,256.0L370.5,259.6L372.6,263.1L374.9,266.5L377.4,269.7L380.2,272.9L383.3,275.9L386.6,278.8L390.1,281.6L393.7,284.1L397.5,286.5L401.7,288.8L406.1,290.9L410.7,292.8L415.4,294.5L420.3,296.1L425.4,297.6L431.6,299.2L438.1,300.5L444.9,301.7L451.7,302.8L458.4,303.8L465.0,304.9L470.9,305.9L476.7,306.9L482.4,307.8L488.1,308.7L494.0,309.6L500.0,310.5L507.0,311.5L514.1,312.5L521.3,313.4L528.7,314.4L536.3,315.2L544.0,316.0L552.9,316.8L562.1,317.5L571.4,318.1L580.9,318.6L590.5,319.1L600.0,319.5L610.0,319.9L620.3,320.2L630.6,320.5L640.8,320.7L650.7,320.8L660.0,321.0L667.0,321.1L673.6,321.2L680.0,321.3L686.4,321.4L693.0,321.4L700.0,321.3L709.4,321.1L719.5,320.9L729.9,320.5L740.3,320.1L750.5,319.6L760.0,319.0L767.5,318.5L774.6,317.9L781.6,317.2L788.4,316.5L795.2,315.8L802.0,315.0L808.4,314.2L814.8,313.4L821.1,312.5L827.3,311.5L833.6,310.5L840.0,309.5L846.8,308.4L853.7,307.3L860.7,306.1L867.6,304.8L874.0,303.5L880.0,301.9L884.1,300.6L888.0,299.2L891.6,297.8L895.2,296.2L898.7,294.6L902.3,293.0L906.1,291.2L909.9,289.4L913.7,287.5L917.5,285.5L921.1,283.5L924.6,281.5L927.6,279.6L930.5,277.7L933.4,275.7L936.1,273.8L938.8,271.9L941.4,270.0L943.6,268.5L945.7,267.0L947.8,265.5L949.9,264.1L951.9,262.6L954.0,261.0L956.3,259.3L958.6,257.5L961.0,255.7L963.3,253.9L965.5,252.0L967.7,250.0L969.8,248.0L971.8,246.0L973.8,243.9L975.7,241.7L977.4,239.4L979.0,237.0L980.5,234.1L981.7,231.0L982.8,227.8L983.8,224.5L984.7,221.2L985.4,218.0L986.0,215.0L986.4,212.0L986.8,208.9L987.0,205.9L987.3,202.9L987.5,200.0L987.7,197.3L988.0,194.6L988.2,192.0L988.4,189.4L988.5,186.7L988.5,183.9L988.5,180.6L988.4,177.1L988.3,173.5L988.1,170.0L987.7,166.7L987.0,163.8L986.4,161.8L985.7,159.9L984.8,158.1L983.9,156.5L982.8,155.0L981.5,153.7L979.9,152.5L978.0,151.5L975.9,150.6L973.7,149.9L971.4,149.3L969.0,148.7L965.9,148.1L962.6,147.7L959.2,147.4L955.5,147.3L951.4,147.2L947.0,147.0L938.3,146.8L928.6,146.7L917.8,146.8L906.1,146.9L893.5,147.0L880.0,147.0L855.4,146.9L827.7,146.7L797.5,146.4L765.7,146.2L732.9,146.0L700.0,145.8L657.1,145.5L609.4,145.1L560.4,144.7L513.5,144.5L472.3,144.7L440.0,145.4Z" fill="#0080FF" />
<path d="M431.2,150.7L423.8,151.0L417.2,151.3L411.4,151.7L405.9,152.5L400.4,153.7L396.1,154.9L392.0,156.2L388.0,157.8L384.4,159.5L381.0,161.5L378.0,163.8L375.6,166.2L373.4,168.8L371.4,171.7L369.7,174.7L368.3,177.6L367.0,180.5L366.1,182.9L365.4,185.2L364.9,187.5L364.5,189.9L364.2,192.4L364.0,195.0L363.9,198.4L364.1,202.1L364.4,205.9L364.9,209.7L365.5,213.6L366.3,217.3L367.2,221.1L368.2,224.9L369.4,228.7L370.8,232.5L372.3,236.1L374.0,239.6L375.8,242.9L377.8,246.0L380.0,249.1L382.3,252.1L384.8,254.9L387.5,257.5L390.6,260.1L393.9,262.6L397.4,264.9L401.0,267.0L404.8,269.0L408.7,270.9L413.0,272.8L417.6,274.5L422.3,276.0L427.1,277.4L431.8,278.6L436.6,279.8L441.3,280.8L445.9,281.6L450.6,282.3L455.3,282.9L460.1,283.5L465.0,284.2L470.6,285.0L476.2,285.7L482.0,286.4L487.9,287.1L493.9,287.8L500.0,288.5L507.0,289.3L514.1,290.1L521.3,290.9L528.7,291.6L536.3,292.3L544.0,293.0L552.9,293.7L562.1,294.4L571.4,295.0L580.9,295.5L590.5,296.1L600.0,296.5L610.0,296.9L620.3,297.1L630.6,297.4L640.8,297.5L650.7,297.7L660.0,298.0L667.0,298.3L673.6,298.6L680.0,299.0L686.4,299.3L693.0,299.5L700.0,299.6L709.4,299.5L719.5,299.2L729.9,298.7L740.3,298.2L750.5,297.6L760.0,297.0L767.5,296.5L774.6,295.9L781.6,295.4L788.4,294.7L795.2,294.0L802.0,293.3L808.4,292.5L814.8,291.7L821.1,290.8L827.3,289.9L833.6,289.0L840.0,288.0L846.8,287.0L853.7,286.1L860.7,285.1L867.6,284.0L874.1,282.7L880.0,281.2L884.2,279.8L888.0,278.4L891.6,276.8L895.2,275.1L898.7,273.4L902.3,271.7L906.0,269.9L909.8,268.1L913.5,266.3L917.3,264.4L921.0,262.5L924.6,260.6L928.1,258.8L931.6,256.9L935.1,255.1L938.5,253.2L941.8,251.3L945.0,249.5L947.7,247.9L950.3,246.4L952.9,244.9L955.3,243.3L957.7,241.7L960.0,240.0L962.1,238.3L964.1,236.6L966.0,234.9L967.8,233.0L969.5,231.1L971.0,229.0L972.4,226.6L973.7,224.0L974.8,221.3L975.8,218.5L976.7,215.7L977.5,213.0L978.2,210.3L978.7,207.6L979.1,204.8L979.5,202.1L979.8,199.5L980.0,197.0L980.2,195.1L980.3,193.3L980.4,191.5L980.4,189.7L980.3,187.9L980.2,186.0L979.9,183.5L979.6,180.9L979.2,178.2L978.6,175.5L977.9,172.9L977.0,170.5L976.0,168.4L974.9,166.3L973.7,164.3L972.3,162.5L970.8,160.8L969.0,159.3L966.8,157.9L964.3,156.7L961.6,155.8L958.7,155.0L955.6,154.3L952.5,153.7L948.4,153.1L944.0,152.6L939.4,152.4L934.7,152.2L929.7,152.1L924.6,152.0L918.1,151.9L911.6,151.8L904.8,151.9L897.5,152.0L889.3,152.0L880.0,152.0L857.4,151.8L830.2,151.5L799.6,151.2L766.9,150.8L733.3,150.5L700.0,150.3L656.8,150.0L608.4,149.7L558.7,149.5L511.5,149.4L470.7,149.7L440.0,150.4Z" fill="#00AAFF" />
<path d="M433.5,156.8L428.2,157.1L423.7,157.4L419.6,157.8L415.7,158.4L411.5,159.3L407.4,160.3L403.4,161.4L399.4,162.7L395.6,164.2L392.1,165.9L389.0,168.0L386.5,170.2L384.2,172.8L382.1,175.5L380.3,178.4L378.8,181.3L377.5,184.0L376.7,186.2L376.1,188.3L375.7,190.5L375.4,192.6L375.3,194.8L375.2,197.0L375.2,199.4L375.4,201.8L375.7,204.2L376.1,206.7L376.7,209.2L377.4,211.7L378.4,214.8L379.6,218.1L381.0,221.4L382.6,224.7L384.4,227.8L386.4,230.7L388.7,233.5L391.2,236.1L394.0,238.6L396.9,240.9L399.9,243.1L403.0,245.2L406.4,247.2L409.8,249.1L413.4,250.8L417.2,252.3L421.2,253.8L425.4,255.2L431.3,256.9L437.8,258.3L444.6,259.6L451.5,260.8L458.4,261.9L465.0,263.0L470.9,264.0L476.7,264.9L482.4,265.7L488.1,266.5L494.0,267.2L500.0,268.0L507.0,268.9L514.1,269.7L521.3,270.5L528.7,271.3L536.3,272.0L544.0,272.7L552.9,273.3L562.1,273.9L571.4,274.4L580.9,274.8L590.5,275.2L600.0,275.5L610.0,275.8L620.3,275.9L630.6,276.1L640.8,276.2L650.7,276.3L660.0,276.5L667.0,276.7L673.6,277.1L680.0,277.4L686.4,277.7L693.0,277.9L700.0,278.0L709.4,277.9L719.5,277.7L729.9,277.4L740.3,277.0L750.5,276.5L760.0,276.0L767.5,275.6L774.6,275.1L781.6,274.7L788.4,274.1L795.2,273.6L802.0,272.9L808.4,272.2L814.8,271.5L821.1,270.7L827.3,269.8L833.6,268.9L840.0,268.0L846.7,267.0L853.6,265.8L860.5,264.7L867.3,263.5L873.9,262.2L880.0,261.0L884.5,260.0L888.8,259.1L892.9,258.1L896.9,257.1L900.9,256.1L905.0,255.0L909.2,253.9L913.4,252.7L917.7,251.5L921.8,250.2L925.8,248.9L929.5,247.5L932.4,246.4L935.1,245.2L937.7,244.0L940.2,242.8L942.6,241.5L945.0,240.0L947.4,238.4L949.7,236.8L951.9,235.0L954.1,233.1L956.1,231.1L958.0,229.0L959.8,226.6L961.4,224.1L962.9,221.4L964.3,218.6L965.5,215.8L966.5,213.0L967.3,210.3L968.0,207.6L968.5,204.9L968.9,202.1L969.2,199.5L969.4,197.0L969.5,195.1L969.5,193.2L969.5,191.4L969.4,189.6L969.2,187.8L969.0,186.0L968.7,184.1L968.4,182.3L967.9,180.4L967.4,178.5L966.8,176.7L966.0,175.0L965.0,173.2L963.9,171.4L962.7,169.6L961.3,167.9L959.7,166.4L958.0,165.0L955.7,163.6L953.1,162.5L950.3,161.5L947.3,160.7L944.2,159.9L941.0,159.3L936.9,158.7L932.5,158.3L927.9,158.0L923.1,157.9L918.3,157.8L913.5,157.6L908.4,157.4L903.6,157.3L898.6,157.2L893.3,157.2L887.2,157.1L880.0,157.0L858.7,156.7L831.8,156.4L801.0,156.1L767.7,155.8L733.6,155.6L700.0,155.5L656.4,155.4L607.2,155.2L556.6,155.1L509.1,155.2L468.8,155.7L440.0,156.5Z" fill="#00DDFF" />
<path d="M463.3,163.3L457.6,163.5L452.7,163.8L448.3,164.1L444.2,164.5L440.0,165.0L436.8,165.4L433.8,165.7L431.0,166.1L428.2,166.5L425.5,167.2L422.7,168.0L419.8,169.1L416.8,170.4L413.9,171.9L411.1,173.5L408.5,175.2L406.0,177.0L403.9,178.8L401.9,180.8L400.0,182.9L398.3,185.0L396.8,187.0L395.5,189.0L394.6,190.4L393.9,191.7L393.2,193.0L392.6,194.3L392.2,195.6L392.0,197.0L392.0,198.5L392.2,199.9L392.5,201.5L393.0,203.0L393.5,204.6L394.2,206.2L395.2,208.5L396.4,211.0L397.8,213.6L399.3,216.1L401.1,218.5L403.0,220.7L405.4,222.9L408.0,225.0L410.9,226.9L413.8,228.7L416.8,230.3L419.8,231.8L422.5,233.0L425.1,234.1L427.8,235.0L430.6,235.8L433.5,236.6L436.6,237.4L440.8,238.5L445.4,239.4L450.1,240.4L455.0,241.3L460.0,242.2L465.0,243.0L470.6,243.9L476.2,244.7L482.0,245.4L487.9,246.2L493.9,246.8L500.0,247.5L507.0,248.2L514.1,248.8L521.3,249.4L528.7,249.9L536.3,250.5L544.0,251.0L552.9,251.6L562.1,252.3L571.5,252.9L580.9,253.5L590.5,254.0L600.0,254.5L610.0,254.9L620.3,255.2L630.6,255.5L640.8,255.7L650.7,255.8L660.0,256.0L667.0,256.1L673.6,256.2L680.0,256.3L686.4,256.3L693.0,256.3L700.0,256.3L709.4,256.2L719.5,256.1L729.9,255.9L740.3,255.6L750.5,255.3L760.0,255.0L767.5,254.7L774.6,254.3L781.6,253.9L788.4,253.5L795.2,253.0L802.0,252.5L808.4,252.0L814.8,251.5L821.1,250.9L827.3,250.3L833.6,249.7L840.0,249.0L846.8,248.2L853.9,247.3L861.0,246.3L867.9,245.3L874.3,244.4L880.0,243.5L883.2,243.0L886.0,242.5L888.7,242.1L891.2,241.6L893.9,241.1L896.7,240.5L900.3,239.8L904.0,239.0L907.8,238.2L911.7,237.3L915.4,236.2L919.0,235.0L922.4,233.7L925.8,232.3L929.1,230.8L932.3,229.1L935.3,227.2L938.0,225.1L940.3,222.9L942.5,220.4L944.5,217.7L946.3,215.0L947.9,212.2L949.2,209.5L950.2,207.1L951.0,204.7L951.7,202.2L952.2,199.8L952.5,197.4L952.7,195.0L952.7,192.9L952.6,190.8L952.3,188.8L952.0,186.7L951.5,184.8L951.0,183.0L950.5,181.5L950.1,180.1L949.5,178.7L948.9,177.4L948.1,176.2L947.0,175.0L945.0,173.4L942.5,171.8L939.7,170.4L936.5,169.1L933.3,168.0L930.0,167.0L925.8,166.1L921.1,165.4L916.3,165.0L911.4,164.7L906.6,164.5L902.0,164.3L898.4,164.1L895.3,164.0L892.2,163.9L888.8,163.9L884.9,163.9L880.0,163.8L860.3,163.5L833.7,163.1L802.2,162.8L768.1,162.4L733.3,162.2L700.0,162.0L660.8,161.9L617.4,161.8L573.3,161.9L531.7,162.1L496.2,162.4L470.0,163.0Z" fill="#00FFEE" />
<path d="M497.0,173.1L491.3,173.5L485.8,173.9L480.5,174.3L475.3,174.9L470.0,175.5L464.7,176.1L459.3,176.7L454.0,177.3L448.8,178.1L444.1,179.1L440.0,180.5L437.5,181.6L435.2,182.9L433.1,184.3L431.2,185.8L429.5,187.4L428.0,189.0L426.8,190.4L425.7,191.9L424.7,193.4L423.9,195.0L423.4,196.6L423.2,198.3L423.5,200.5L424.4,202.9L425.7,205.3L427.3,207.7L429.1,209.8L431.0,211.7L433.3,213.3L435.9,214.6L438.8,215.8L441.8,216.7L444.8,217.6L447.7,218.4L450.5,219.2L453.2,219.8L455.9,220.3L458.7,220.8L461.7,221.3L465.0,221.8L470.5,222.6L476.5,223.3L483.0,223.9L489.7,224.6L496.4,225.3L503.0,226.0L509.7,226.8L516.3,227.6L523.0,228.4L529.8,229.2L536.8,229.9L544.0,230.6L552.6,231.2L561.5,231.8L570.7,232.3L579.9,232.7L589.3,233.1L598.7,233.5L608.9,233.9L619.4,234.3L629.9,234.7L640.4,235.0L650.5,235.4L660.0,235.7L667.1,236.0L673.7,236.3L680.0,236.5L686.4,236.8L693.0,236.9L700.0,237.0L709.4,236.9L719.5,236.7L729.9,236.5L740.3,236.1L750.5,235.6L760.0,235.0L767.4,234.5L774.5,233.8L781.3,233.1L788.1,232.4L794.9,231.6L802.0,230.8L810.0,229.9L818.2,228.9L826.5,227.9L834.7,226.8L842.6,225.7L850.0,224.5L855.5,223.6L860.7,222.6L865.7,221.6L870.6,220.6L875.3,219.5L880.0,218.5L884.0,217.6L887.9,216.8L891.7,216.0L895.4,215.2L898.9,214.2L902.3,213.0L905.1,211.9L907.8,210.7L910.4,209.5L912.9,208.1L915.0,206.6L916.8,205.0L918.1,203.5L919.3,201.8L920.3,200.1L921.0,198.3L921.4,196.6L921.3,195.0L920.7,193.4L919.6,191.9L918.1,190.5L916.2,189.1L914.2,187.8L912.0,186.5L907.9,184.4L903.0,182.4L897.6,180.6L891.8,178.8L885.8,177.3L880.0,176.0L873.7,174.9L867.4,174.1L860.8,173.6L854.1,173.2L847.2,172.9L840.0,172.5L830.9,172.1L821.5,171.8L811.7,171.5L801.6,171.3L791.0,171.2L780.0,171.0L764.9,170.7L748.9,170.5L732.2,170.2L714.9,170.0L697.5,169.9L680.0,169.8L660.1,169.8L639.2,169.8L617.9,169.8L597.1,170.0L577.6,170.2L560.0,170.5L549.1,170.8L538.9,171.1L529.2,171.4L520.1,171.8L511.4,172.2L503.0,172.7Z" fill="#00FFBB" />
<path d="M559.0,198.5L559.6,197.5L561.2,196.6L563.8,195.7L567.5,194.9L572.1,194.1L577.6,193.3L584.0,192.6L591.3,192.0L599.3,191.5L608.1,191.0L617.6,190.7L627.8,190.4L638.6,190.3L650.0,190.2L700.0,190.2L710.7,190.3L720.9,190.4L730.5,190.7L739.4,191.1L747.6,191.6L755.2,192.1L762.0,192.8L768.0,193.5L773.2,194.3L777.5,195.1L781.0,196.0L783.5,197.0L785.0,198.0L785.5,199.0L785.0,200.0L783.5,200.9L781.0,201.8L777.5,202.6L773.2,203.4L768.0,204.2L762.0,204.9L755.2,205.5L747.6,206.0L739.4,206.5L730.5,206.8L720.9,207.1L710.7,207.2L700.0,207.3L650.0,207.3L638.6,207.2L627.8,207.1L617.6,206.8L608.1,206.4L599.3,205.9L591.3,205.4L584.0,204.7L577.6,204.0L572.1,203.2L567.5,202.4L563.8,201.5L561.2,200.5L559.6,199.5L559.0,198.5Z" fill="#00FF88" />
<path d="M1036.0,103.8L1036.0,128.0L1040.0,138.0L1045.0,146.0L1048.0,103.8Z" fill="#0055FF" />
<path d="M1040.5,103.8L1040.5,124.2L1041.0,131.1L1042.6,137.2L1045.2,142.5L1048.8,146.9L1053.2,150.5L1058.5,153.1L1064.6,154.7L1071.5,155.2L1131.5,155.2L1136.7,154.8L1141.3,153.6L1145.3,151.6L1148.7,148.9L1151.4,145.5L1153.4,141.5L1154.6,136.9L1155.0,131.7L1155.0,103.8Z" fill="#0060FF" />
<path d="M1041.2,103.8L1041.2,123.1L1041.7,129.8L1043.3,135.8L1045.9,141.1L1049.4,145.4L1053.7,148.9L1059.0,151.5L1065.0,153.1L1071.7,153.6L1131.3,153.6L1136.4,153.2L1140.9,152.0L1144.8,150.1L1148.1,147.4L1150.8,144.1L1152.7,140.2L1153.9,135.7L1154.3,130.6L1154.3,103.8Z" fill="#00BBFF" />
<path d="M1041.9,103.8L1041.9,122.4L1042.4,129.0L1044.0,134.9L1046.5,140.1L1049.9,144.4L1054.2,147.8L1059.4,150.3L1065.3,151.9L1071.9,152.4L1131.1,152.4L1136.1,152.0L1140.5,150.8L1144.3,149.0L1147.6,146.4L1150.2,143.1L1152.0,139.3L1153.2,134.9L1153.6,129.9L1153.6,103.8Z" fill="#00FFDD" />
<path d="M1042.7,103.8L1042.7,120.5L1043.2,127.0L1044.7,132.8L1047.2,137.9L1050.6,142.1L1054.8,145.5L1059.9,148.0L1065.7,149.5L1072.2,150.0L1130.9,150.0L1135.8,149.6L1140.1,148.5L1143.9,146.6L1147.0,144.1L1149.5,141.0L1151.4,137.2L1152.5,132.9L1152.9,128.0L1152.9,103.8Z" fill="#00FF66" />
<path d="M1043.5,103.8L1043.5,119.3L1044.0,125.7L1045.5,131.4L1047.9,136.4L1051.3,140.5L1055.4,143.9L1060.4,146.3L1066.1,147.8L1072.5,148.3L1130.8,148.3L1135.6,147.9L1139.8,146.8L1143.5,145.0L1146.5,142.5L1149.0,139.5L1150.8,135.8L1151.9,131.6L1152.3,126.8L1152.3,103.8Z" fill="#33FF00" />
<path d="M1044.7,103.8L1044.7,118.1L1045.2,124.4L1046.7,130.0L1049.1,134.9L1052.3,139.0L1056.4,142.2L1061.3,144.6L1066.9,146.1L1073.2,146.6L1130.6,146.6L1135.2,146.2L1139.4,145.1L1143.0,143.4L1146.0,141.0L1148.4,138.0L1150.1,134.4L1151.2,130.2L1151.6,125.6L1151.6,103.8Z" fill="#AAFF00" />
<path d="M1045.7,103.8L1045.7,117.0L1046.2,123.2L1047.6,128.7L1050.0,133.5L1053.2,137.5L1057.2,140.7L1062.0,143.1L1067.5,144.5L1073.7,145.0L1130.5,145.0L1135.0,144.6L1139.1,143.6L1142.6,141.9L1145.5,139.5L1147.9,136.6L1149.6,133.1L1150.6,129.0L1151.0,124.5L1151.0,103.8Z" fill="#FFEE00" />
<path d="M1046.4,103.8L1046.4,116.1L1046.9,122.2L1048.3,127.6L1050.6,132.3L1053.8,136.2L1057.7,139.4L1062.4,141.7L1067.8,143.1L1073.9,143.6L1130.7,143.6L1135.1,143.2L1139.1,142.2L1142.5,140.5L1145.4,138.2L1147.6,135.4L1149.3,132.0L1150.3,128.0L1150.7,123.6L1150.7,103.8Z" fill="#FFAA00" />
<path d="M1047.0,103.8L1047.0,115.4L1047.5,121.4L1048.9,126.7L1051.1,131.3L1054.2,135.2L1058.1,138.3L1062.7,140.5L1068.0,141.9L1074.0,142.4L1131.0,142.4L1135.3,142.1L1139.1,141.1L1142.5,139.4L1145.3,137.2L1147.5,134.4L1149.2,131.0L1150.2,127.2L1150.5,122.9L1150.5,103.8Z" fill="#FF7700" />
<path d="M1047.5,103.8L1047.5,115.3L1048.0,121.0L1049.3,126.2L1051.5,130.6L1054.5,134.3L1058.2,137.3L1062.6,139.5L1067.8,140.8L1073.5,141.3L1131.2,141.3L1135.4,141.0L1139.1,140.0L1142.4,138.4L1145.1,136.2L1147.3,133.5L1148.9,130.2L1149.9,126.5L1150.2,122.3L1150.2,103.8Z" fill="#FF4400" />
<path d="M1049.0,103.8L1049.0,111.7L1049.4,117.0L1050.7,121.7L1052.7,125.8L1055.4,129.3L1058.9,132.0L1063.0,134.0L1067.7,135.3L1073.0,135.7L1132.0,135.7L1135.8,135.4L1139.1,134.5L1142.0,133.1L1144.5,131.2L1146.4,128.7L1147.8,125.8L1148.7,122.5L1149.0,118.7L1149.0,103.8Z" fill="#FF2200" />
<path d="M1051.0,103.8L1051.0,110.0L1051.4,114.4L1052.4,118.4L1054.1,121.8L1056.3,124.7L1059.2,126.9L1062.6,128.6L1066.6,129.6L1071.0,130.0L1133.5,130.0L1136.6,129.8L1139.3,129.0L1141.7,127.9L1143.8,126.3L1145.4,124.2L1146.5,121.8L1147.3,119.1L1147.5,116.0L1147.5,103.8Z" fill="#FF0000" />
<rect x="50" y="110.6" width="1220" height="3.2" fill="#2a0030" fill-opacity="0.8"/>
</g></g>
<rect x="221.3" y="80.5" width="49.5" height="30.7" fill="#3A00FF"/>
<rect x="221.3" y="80.5" width="49.5" height="30.7" fill="url(#h1)" stroke="#000" stroke-width="1.2"/>
<g clip-path="url(#cpa2)">
<rect x="1193.6" y="80.5" width="56.4" height="30.7" fill="#3A00FF"/>
<rect x="1193.6" y="80.5" width="56.4" height="30.7" fill="url(#h1)" stroke="#000" stroke-width="1.2"/>
</g>
<linearGradient id="gya" x1="0" x2="0" y1="0" y2="1"><stop offset="0" stop-color="#FFD800"/><stop offset="0.75" stop-color="#FFD000"/><stop offset="0.9" stop-color="#FF9000"/><stop offset="1" stop-color="#FF5000"/></linearGradient>
<rect x="1075.8" y="80.5" width="50.4" height="30.7" fill="url(#gya)"/>
<rect x="1075.8" y="80.5" width="50.4" height="30.7" fill="url(#h1)" stroke="#000" stroke-width="1.2"/>
<linearGradient id="gl0" x1="0" x2="1" y1="0" y2="0"><stop offset="0" stop-color="#0077FF"/><stop offset="0.5" stop-color="#0044FF"/><stop offset="1" stop-color="#0022FF"/></linearGradient>
<linearGradient id="gr0" x1="0" x2="0" y1="0" y2="1"><stop offset="0" stop-color="#0033FF"/><stop offset="0.3" stop-color="#0077FF"/><stop offset="0.55" stop-color="#00EEFF"/><stop offset="0.72" stop-color="#33FF33"/><stop offset="0.86" stop-color="#FFEE00"/><stop offset="1" stop-color="#FF6600"/></linearGradient>
<path d="M978.6,111.8 L980.3,80.0 Q980.8,67.6 992,67.6 L1046,67.6 Q1057.5,67.6 1057.5,80.0 L1057.5,111.8 Z" fill="#0033FF"/>
<rect x="980" y="74.0" width="10" height="37.8" fill="url(#gl0)"/>
<g filter="url(#bl)"><rect x="1048.5" y="74.0" width="8.5" height="37.8" fill="url(#gr0)"/></g>
<path d="M978.6,111.8 L980.3,80.0 Q980.8,67.6 992,67.6 L1046,67.6 Q1057.5,67.6 1057.5,80.0 L1057.5,111.8 Z" fill="none" stroke="#000" stroke-width="1.3"/>
<path d="M973,111.2 L981,111.2 M1056,111.2 L1064,111.2" stroke="#000" stroke-width="2.2"/>
<rect x="990.0" y="68.6" width="58.5" height="42.2" fill="#3A00FF"/>
<rect x="990.0" y="68.6" width="58.5" height="42.2" fill="url(#h1)" stroke="#000" stroke-width="1.2"/>
<line x1="76.2" y1="111.4" x2="1242.0" y2="111.4" stroke="#000" stroke-width="1.8"/>
<path d="M76.2,7.4 L1242.0,7.4 L1242.0,111.8" fill="none" stroke="#8a8a8a" stroke-width="1.8"/>
<line x1="76.2" y1="7.4" x2="76.2" y2="111.8" stroke="#8a8a8a" stroke-width="1.8"/>
<line x1="1242.3" y1="111.8" x2="1242.3" y2="529.5" stroke="#c8d8c8" stroke-width="0.9"/>
<line x1="75.8" y1="111.8" x2="75.8" y2="529.5" stroke="#8a8a8a" stroke-width="0.9"/>
<line x1="50.5" y1="7.4" x2="76.2" y2="7.4" stroke="#3a3a3a" stroke-width="2.3"/>
<text x="47.8" y="17.0" font-size="18.0" text-anchor="end" fill="#222" textLength="32.5" lengthAdjust="spacingAndGlyphs" stroke="#222" stroke-width="0.40" >-0.5</text>
<line x1="63.8" y1="28.3" x2="76.2" y2="28.3" stroke="#777" stroke-width="1.7"/>
<line x1="63.8" y1="49.2" x2="76.2" y2="49.2" stroke="#777" stroke-width="1.7"/>
<line x1="63.8" y1="70.1" x2="76.2" y2="70.1" stroke="#777" stroke-width="1.7"/>
<line x1="63.8" y1="90.9" x2="76.2" y2="90.9" stroke="#777" stroke-width="1.7"/>
<line x1="50.5" y1="111.8" x2="76.2" y2="111.8" stroke="#3a3a3a" stroke-width="2.3"/>
<text x="47.8" y="121.4" font-size="18.0" text-anchor="end" fill="#222" textLength="26.5" lengthAdjust="spacingAndGlyphs" stroke="#222" stroke-width="0.40" >0.0</text>
<line x1="63.8" y1="132.7" x2="76.2" y2="132.7" stroke="#777" stroke-width="1.7"/>
<line x1="63.8" y1="153.6" x2="76.2" y2="153.6" stroke="#777" stroke-width="1.7"/>
<line x1="63.8" y1="174.5" x2="76.2" y2="174.5" stroke="#777" stroke-width="1.7"/>
<line x1="63.8" y1="195.4" x2="76.2" y2="195.4" stroke="#777" stroke-width="1.7"/>
<line x1="50.5" y1="216.2" x2="76.2" y2="216.2" stroke="#3a3a3a" stroke-width="2.3"/>
<text x="47.8" y="225.8" font-size="18.0" text-anchor="end" fill="#222" textLength="26.5" lengthAdjust="spacingAndGlyphs" stroke="#222" stroke-width="0.40" >0.5</text>
<line x1="63.8" y1="237.1" x2="76.2" y2="237.1" stroke="#777" stroke-width="1.7"/>
<line x1="63.8" y1="258.0" x2="76.2" y2="258.0" stroke="#777" stroke-width="1.7"/>
<line x1="63.8" y1="278.9" x2="76.2" y2="278.9" stroke="#777" stroke-width="1.7"/>
<line x1="63.8" y1="299.8" x2="76.2" y2="299.8" stroke="#777" stroke-width="1.7"/>
<line x1="50.5" y1="320.7" x2="76.2" y2="320.7" stroke="#3a3a3a" stroke-width="2.3"/>
<text x="47.8" y="330.3" font-size="18.0" text-anchor="end" fill="#222" textLength="26.5" lengthAdjust="spacingAndGlyphs" stroke="#222" stroke-width="0.40" >1.0</text>
<line x1="63.8" y1="341.6" x2="76.2" y2="341.6" stroke="#777" stroke-width="1.7"/>
<line x1="63.8" y1="362.4" x2="76.2" y2="362.4" stroke="#777" stroke-width="1.7"/>
<line x1="63.8" y1="383.3" x2="76.2" y2="383.3" stroke="#777" stroke-width="1.7"/>
<line x1="63.8" y1="404.2" x2="76.2" y2="404.2" stroke="#777" stroke-width="1.7"/>
<line x1="50.5" y1="425.1" x2="76.2" y2="425.1" stroke="#3a3a3a" stroke-width="2.3"/>
<text x="47.8" y="434.7" font-size="18.0" text-anchor="end" fill="#222" textLength="26.5" lengthAdjust="spacingAndGlyphs" stroke="#222" stroke-width="0.40" >1.5</text>
<line x1="63.8" y1="446.0" x2="76.2" y2="446.0" stroke="#777" stroke-width="1.7"/>
<line x1="63.8" y1="466.9" x2="76.2" y2="466.9" stroke="#777" stroke-width="1.7"/>
<line x1="63.8" y1="487.8" x2="76.2" y2="487.8" stroke="#777" stroke-width="1.7"/>
<line x1="63.8" y1="508.6" x2="76.2" y2="508.6" stroke="#777" stroke-width="1.7"/>
<line x1="50.5" y1="529.5" x2="76.2" y2="529.5" stroke="#3a3a3a" stroke-width="2.3"/>
<text x="47.8" y="539.1" font-size="18.0" text-anchor="end" fill="#222" textLength="26.5" lengthAdjust="spacingAndGlyphs" stroke="#222" stroke-width="0.40" >2.0</text>
<line x1="76.2" y1="529.5" x2="76.2" y2="539.0" stroke="#333" stroke-width="2.2"/>
<text x="76.2" y="563.0" font-size="18.0" text-anchor="middle" fill="#222" textLength="10.5" lengthAdjust="spacingAndGlyphs" stroke="#222" stroke-width="0.40" >0</text>
<line x1="124.8" y1="529.5" x2="124.8" y2="534.5" stroke="#777" stroke-width="1.7"/>
<line x1="173.4" y1="529.5" x2="173.4" y2="534.5" stroke="#777" stroke-width="1.7"/>
<line x1="221.9" y1="529.5" x2="221.9" y2="534.5" stroke="#777" stroke-width="1.7"/>
<line x1="270.5" y1="529.5" x2="270.5" y2="539.0" stroke="#333" stroke-width="2.2"/>
<text x="270.5" y="563.0" font-size="18.0" text-anchor="middle" fill="#222" textLength="10.5" lengthAdjust="spacingAndGlyphs" stroke="#222" stroke-width="0.40" >2</text>
<line x1="319.1" y1="529.5" x2="319.1" y2="534.5" stroke="#777" stroke-width="1.7"/>
<line x1="367.7" y1="529.5" x2="367.7" y2="534.5" stroke="#777" stroke-width="1.7"/>
<line x1="416.2" y1="529.5" x2="416.2" y2="534.5" stroke="#777" stroke-width="1.7"/>
<line x1="464.8" y1="529.5" x2="464.8" y2="539.0" stroke="#333" stroke-width="2.2"/>
<text x="464.8" y="563.0" font-size="18.0" text-anchor="middle" fill="#222" textLength="10.5" lengthAdjust="spacingAndGlyphs" stroke="#222" stroke-width="0.40" >4</text>
<line x1="513.4" y1="529.5" x2="513.4" y2="534.5" stroke="#777" stroke-width="1.7"/>
<line x1="562.0" y1="529.5" x2="562.0" y2="534.5" stroke="#777" stroke-width="1.7"/>
<line x1="610.5" y1="529.5" x2="610.5" y2="534.5" stroke="#777" stroke-width="1.7"/>
<line x1="659.1" y1="529.5" x2="659.1" y2="539.0" stroke="#333" stroke-width="2.2"/>
<text x="659.1" y="563.0" font-size="18.0" text-anchor="middle" fill="#222" textLength="10.5" lengthAdjust="spacingAndGlyphs" stroke="#222" stroke-width="0.40" >6</text>
<line x1="707.7" y1="529.5" x2="707.7" y2="534.5" stroke="#777" stroke-width="1.7"/>
<line x1="756.3" y1="529.5" x2="756.3" y2="534.5" stroke="#777" stroke-width="1.7"/>
<line x1="804.8" y1="529.5" x2="804.8" y2="534.5" stroke="#777" stroke-width="1.7"/>
<line x1="853.4" y1="529.5" x2="853.4" y2="539.0" stroke="#333" stroke-width="2.2"/>
<text x="853.4" y="563.0" font-size="18.0" text-anchor="middle" fill="#222" textLength="10.5" lengthAdjust="spacingAndGlyphs" stroke="#222" stroke-width="0.40" >8</text>
<line x1="902.0" y1="529.5" x2="902.0" y2="534.5" stroke="#777" stroke-width="1.7"/>
<line x1="950.6" y1="529.5" x2="950.6" y2="534.5" stroke="#777" stroke-width="1.7"/>
<line x1="999.1" y1="529.5" x2="999.1" y2="534.5" stroke="#777" stroke-width="1.7"/>
<line x1="1047.7" y1="529.5" x2="1047.7" y2="539.0" stroke="#333" stroke-width="2.2"/>
<text x="1047.7" y="563.0" font-size="18.0" text-anchor="middle" fill="#222" textLength="21.0" lengthAdjust="spacingAndGlyphs" stroke="#222" stroke-width="0.40" >10</text>
<line x1="1096.3" y1="529.5" x2="1096.3" y2="534.5" stroke="#777" stroke-width="1.7"/>
<line x1="1144.9" y1="529.5" x2="1144.9" y2="534.5" stroke="#777" stroke-width="1.7"/>
<line x1="1193.4" y1="529.5" x2="1193.4" y2="534.5" stroke="#777" stroke-width="1.7"/>
<line x1="1242.0" y1="529.5" x2="1242.0" y2="539.0" stroke="#333" stroke-width="2.2"/>
<text x="1242.0" y="563.0" font-size="18.0" text-anchor="middle" fill="#222" textLength="21.0" lengthAdjust="spacingAndGlyphs" stroke="#222" stroke-width="0.40" >12</text>
<text transform="translate(17.2,272.0) rotate(-90)" font-size="23.5" text-anchor="middle" textLength="36" lengthAdjust="spacingAndGlyphs" fill="#111" stroke="#111" stroke-width="0.3">µm</text>
<text x="244.5" y="37.2" font-size="23.0" text-anchor="middle" fill="#000" textLength="66.5" lengthAdjust="spacingAndGlyphs" stroke="#000" stroke-width="0.42" >p-well</text>
<text x="244.8" y="69.2" font-size="23.0" text-anchor="middle" fill="#000" textLength="80.5" lengthAdjust="spacingAndGlyphs" stroke="#000" stroke-width="0.42" >contact</text>
<text x="664.7" y="80.0" font-size="30.5" text-anchor="middle" fill="#000" textLength="36.5" lengthAdjust="spacingAndGlyphs" stroke="#000" stroke-width="0.42" >(a)</text>
<text x="1011.7" y="57.0" font-size="23.0" text-anchor="middle" fill="#000" textLength="27.5" lengthAdjust="spacingAndGlyphs" stroke="#000" stroke-width="0.42" >TG</text>
<text x="1098.0" y="37.6" font-size="23.0" text-anchor="middle" fill="#000" textLength="62.0" lengthAdjust="spacingAndGlyphs" stroke="#000" stroke-width="0.42" >Sense</text>
<text x="1097.5" y="69.8" font-size="23.0" text-anchor="middle" fill="#000" textLength="52.0" lengthAdjust="spacingAndGlyphs" stroke="#000" stroke-width="0.42" >node</text>
<text x="1196.0" y="34.5" font-size="23.0" text-anchor="middle" fill="#000" textLength="66.5" lengthAdjust="spacingAndGlyphs" stroke="#000" stroke-width="0.42" >p-well</text>
<text x="1196.5" y="66.5" font-size="23.0" text-anchor="middle" fill="#000" textLength="80.5" lengthAdjust="spacingAndGlyphs" stroke="#000" stroke-width="0.42" >contact</text>
<rect x="143" y="172.0" width="97.5" height="45.5" fill="#fff"/>
<text x="191.8" y="203.8" font-size="23.0" text-anchor="middle" fill="#000" textLength="66.5" lengthAdjust="spacingAndGlyphs" stroke="#000" stroke-width="0.42" >p-well</text>
<rect x="1122.2" y="172.2" width="98.2" height="45.7" fill="#fff"/>
<text x="1169.6" y="203.6" font-size="23.0" text-anchor="middle" fill="#000" textLength="66.5" lengthAdjust="spacingAndGlyphs" stroke="#000" stroke-width="0.42" >p-well</text>
<rect x="92.3" y="251.5" width="179.5" height="265.5" fill="#fff"/>
<text x="180.0" y="292.3" font-size="23.0" text-anchor="middle" fill="#000" textLength="137.0" lengthAdjust="spacingAndGlyphs" stroke="#000" stroke-width="0.42" >Potential (V)</text>
<rect x="113.2" y="316.30" width="54" height="6.48" fill="hsl(0.0,100%,50%)"/>
<rect x="113.2" y="322.48" width="54" height="6.48" fill="hsl(10.7,100%,50%)"/>
<rect x="113.2" y="328.67" width="54" height="6.48" fill="hsl(21.4,100%,50%)"/>
<rect x="113.2" y="334.85" width="54" height="6.48" fill="hsl(32.1,100%,50%)"/>
<rect x="113.2" y="341.03" width="54" height="6.48" fill="hsl(42.9,100%,50%)"/>
<rect x="113.2" y="347.21" width="54" height="6.48" fill="hsl(53.6,100%,50%)"/>
<rect x="113.2" y="353.40" width="54" height="6.48" fill="hsl(64.3,100%,50%)"/>
<rect x="113.2" y="359.58" width="54" height="6.48" fill="hsl(75.0,100%,50%)"/>
<rect x="113.2" y="365.76" width="54" height="6.48" fill="hsl(85.7,100%,50%)"/>
<rect x="113.2" y="371.94" width="54" height="6.48" fill="hsl(96.4,100%,50%)"/>
<rect x="113.2" y="378.13" width="54" height="6.48" fill="hsl(107.1,100%,50%)"/>
<rect x="113.2" y="384.31" width="54" height="6.48" fill="hsl(117.9,100%,50%)"/>
<rect x="113.2" y="390.49" width="54" height="6.48" fill="hsl(128.6,100%,50%)"/>
<rect x="113.2" y="396.68" width="54" height="6.48" fill="hsl(139.3,100%,50%)"/>
<rect x="113.2" y="402.86" width="54" height="6.48" fill="hsl(150.0,100%,50%)"/>
<rect x="113.2" y="409.04" width="54" height="6.48" fill="hsl(160.7,100%,50%)"/>
<rect x="113.2" y="415.22" width="54" height="6.48" fill="hsl(171.4,100%,50%)"/>
<rect x="113.2" y="421.41" width="54" height="6.48" fill="hsl(182.1,100%,50%)"/>
<rect x="113.2" y="427.59" width="54" height="6.48" fill="hsl(192.9,100%,50%)"/>
<rect x="113.2" y="433.77" width="54" height="6.48" fill="hsl(203.6,100%,50%)"/>
<rect x="113.2" y="439.96" width="54" height="6.48" fill="hsl(214.3,100%,50%)"/>
<rect x="113.2" y="446.14" width="54" height="6.48" fill="hsl(225.0,100%,50%)"/>
<rect x="113.2" y="452.32" width="54" height="6.48" fill="hsl(235.7,100%,50%)"/>
<rect x="113.2" y="458.50" width="54" height="6.48" fill="hsl(246.4,100%,50%)"/>
<rect x="113.2" y="464.69" width="54" height="6.48" fill="hsl(257.1,100%,50%)"/>
<rect x="113.2" y="470.87" width="54" height="6.48" fill="hsl(267.9,100%,50%)"/>
<rect x="113.2" y="477.05" width="54" height="6.48" fill="hsl(278.6,100%,50%)"/>
<rect x="113.2" y="483.23" width="54" height="6.48" fill="hsl(289.3,100%,50%)"/>
<rect x="113.2" y="489.42" width="54" height="6.48" fill="hsl(300.0,100%,50%)"/>
<rect x="113.2" y="315.15" width="54" height="2.3" fill="#000" fill-opacity="0.42"/>
<rect x="113.2" y="321.33" width="54" height="2.3" fill="#000" fill-opacity="0.42"/>
<rect x="113.2" y="327.52" width="54" height="2.3" fill="#000" fill-opacity="0.42"/>
<rect x="113.2" y="333.70" width="54" height="2.3" fill="#000" fill-opacity="0.42"/>
<rect x="113.2" y="339.88" width="54" height="2.3" fill="#000" fill-opacity="0.42"/>
<rect x="113.2" y="346.06" width="54" height="2.3" fill="#000" fill-opacity="0.42"/>
<rect x="113.2" y="352.25" width="54" height="2.3" fill="#000" fill-opacity="0.42"/>
<rect x="113.2" y="358.43" width="54" height="2.3" fill="#000" fill-opacity="0.42"/>
<rect x="113.2" y="364.61" width="54" height="2.3" fill="#000" fill-opacity="0.42"/>
<rect x="113.2" y="370.79" width="54" height="2.3" fill="#000" fill-opacity="0.42"/>
<rect x="113.2" y="376.98" width="54" height="2.3" fill="#000" fill-opacity="0.42"/>
<rect x="113.2" y="383.16" width="54" height="2.3" fill="#000" fill-opacity="0.42"/>
<rect x="113.2" y="389.34" width="54" height="2.3" fill="#000" fill-opacity="0.42"/>
<rect x="113.2" y="395.53" width="54" height="2.3" fill="#000" fill-opacity="0.42"/>
<rect x="113.2" y="401.71" width="54" height="2.3" fill="#000" fill-opacity="0.42"/>
<rect x="113.2" y="407.89" width="54" height="2.3" fill="#000" fill-opacity="0.42"/>
<rect x="113.2" y="414.07" width="54" height="2.3" fill="#000" fill-opacity="0.42"/>
<rect x="113.2" y="420.26" width="54" height="2.3" fill="#000" fill-opacity="0.42"/>
<rect x="113.2" y="426.44" width="54" height="2.3" fill="#000" fill-opacity="0.42"/>
<rect x="113.2" y="432.62" width="54" height="2.3" fill="#000" fill-opacity="0.42"/>
<rect x="113.2" y="438.81" width="54" height="2.3" fill="#000" fill-opacity="0.42"/>
<rect x="113.2" y="444.99" width="54" height="2.3" fill="#000" fill-opacity="0.42"/>
<rect x="113.2" y="451.17" width="54" height="2.3" fill="#000" fill-opacity="0.42"/>
<rect x="113.2" y="457.35" width="54" height="2.3" fill="#000" fill-opacity="0.42"/>
<rect x="113.2" y="463.54" width="54" height="2.3" fill="#000" fill-opacity="0.42"/>
<rect x="113.2" y="469.72" width="54" height="2.3" fill="#000" fill-opacity="0.42"/>
<rect x="113.2" y="475.90" width="54" height="2.3" fill="#000" fill-opacity="0.42"/>
<rect x="113.2" y="482.08" width="54" height="2.3" fill="#000" fill-opacity="0.42"/>
<rect x="113.2" y="488.27" width="54" height="2.3" fill="#000" fill-opacity="0.42"/>
<rect x="113.2" y="494.45" width="54" height="2.3" fill="#000" fill-opacity="0.42"/>
<text x="222.0" y="333.0" font-size="23.0" text-anchor="end" fill="#000" textLength="34.5" lengthAdjust="spacingAndGlyphs" stroke="#000" stroke-width="0.42" >4.0</text>
<text x="222.0" y="365.4" font-size="23.0" text-anchor="end" fill="#000" textLength="34.5" lengthAdjust="spacingAndGlyphs" stroke="#000" stroke-width="0.42" >3.0</text>
<text x="222.0" y="397.8" font-size="23.0" text-anchor="end" fill="#000" textLength="34.5" lengthAdjust="spacingAndGlyphs" stroke="#000" stroke-width="0.42" >2.0</text>
<text x="222.0" y="430.2" font-size="23.0" text-anchor="end" fill="#000" textLength="34.5" lengthAdjust="spacingAndGlyphs" stroke="#000" stroke-width="0.42" >1.0</text>
<text x="222.0" y="462.6" font-size="23.0" text-anchor="end" fill="#000" textLength="34.5" lengthAdjust="spacingAndGlyphs" stroke="#000" stroke-width="0.42" >0.0</text>
<text x="222.0" y="495.0" font-size="23.0" text-anchor="end" fill="#000" textLength="43.0" lengthAdjust="spacingAndGlyphs" stroke="#000" stroke-width="0.42" >-1.0</text>
<g clip-path="url(#cpb)"><g filter="url(#bl)">
<rect x="50" y="681.2" width="1220" height="450" fill="#9D00FF"/>
<path d="M50.0,681.2L990.0,681.2L990.0,696.7L340.0,696.7L326.0,698.4L317.0,702.4L313.5,708.4L313.0,727.4L313.5,762.4L314.2,765.4L315.0,768.5L315.7,771.6L316.4,774.6L317.0,777.4L317.4,779.5L317.8,781.5L318.1,783.4L318.4,785.3L318.5,787.4L318.6,790.1L318.6,793.0L318.4,796.0L318.1,798.9L317.5,801.4L316.9,803.2L316.1,805.0L315.2,806.6L314.2,808.1L313.0,809.4L311.5,810.7L309.8,811.8L308.0,812.8L306.0,813.7L304.0,814.4L301.4,815.0L298.7,815.3L295.8,815.5L292.9,815.7L290.0,815.9L50.0,816.4Z" fill="#CC00FF" />
<path d="M1270.0,681.2L1270.0,815.9L1062.0,815.4L1059.5,815.1L1057.0,814.9L1054.4,814.7L1052.1,814.2L1050.0,813.4L1048.4,812.4L1046.9,811.1L1045.6,809.7L1044.5,808.1L1043.5,806.4L1042.6,804.1L1042.1,801.4L1041.8,798.6L1041.6,795.6L1041.5,792.4L1041.4,787.9L1041.6,782.9L1041.9,777.7L1042.2,772.5L1042.5,767.4L1042.7,762.3L1042.9,757.1L1043.1,751.9L1043.3,747.0L1043.5,742.4L1043.6,739.2L1043.7,736.1L1043.8,733.2L1043.9,730.3L1044.0,727.4L1040.0,681.2Z" fill="#CC00FF" />
<path d="M440.0,700.1L429.4,700.1L418.4,700.0L407.5,699.9L396.8,699.9L386.9,700.0L378.0,700.2L372.6,700.4L367.6,700.5L362.9,700.7L358.5,701.0L354.2,701.5L350.2,702.4L347.0,703.3L343.9,704.3L341.0,705.4L338.2,706.8L335.7,708.4L333.5,710.4L331.4,712.9L329.7,715.8L328.2,719.0L326.9,722.5L325.9,725.9L325.0,729.4L324.3,733.0L324.0,736.7L323.9,740.5L323.9,744.4L324.0,748.4L324.0,752.4L323.9,757.2L323.9,762.2L323.9,767.3L324.0,772.5L324.2,777.5L324.5,782.4L325.0,786.7L325.8,791.0L326.7,795.2L327.5,799.4L328.1,803.4L328.5,807.4L328.6,810.9L328.5,814.3L328.3,817.7L328.0,821.0L327.5,824.3L327.0,827.4L326.4,830.1L325.7,832.6L325.0,835.1L324.1,837.6L323.3,840.0L322.5,842.4L321.8,844.6L321.0,846.7L320.2,848.7L319.4,850.8L318.7,853.0L318.0,855.4L317.1,858.7L316.3,862.2L315.5,865.9L314.7,869.7L314.1,873.5L313.5,877.4L313.0,881.7L312.6,886.2L312.4,890.8L312.2,895.4L312.1,899.9L312.0,904.4L312.0,908.6L312.0,912.8L312.1,916.9L312.3,921.0L312.6,925.2L313.0,929.4L313.6,934.0L314.2,938.6L315.0,943.3L315.9,948.0L316.9,952.7L318.0,957.4L319.2,962.4L320.6,967.4L322.0,972.5L323.6,977.5L325.2,982.5L327.0,987.4L328.9,992.2L330.9,996.9L333.0,1001.6L335.2,1006.3L337.5,1010.8L340.0,1015.4L342.7,1020.0L345.5,1024.6L348.4,1029.2L351.4,1033.7L354.6,1038.1L358.0,1042.4L361.6,1046.8L365.3,1051.1L369.1,1055.4L373.1,1059.6L377.4,1063.6L382.0,1067.4L387.6,1071.6L393.5,1075.6L399.8,1079.4L406.3,1083.0L413.1,1086.4L420.0,1089.4L427.7,1092.3L435.6,1094.8L443.9,1097.1L452.3,1099.0L461.0,1100.8L470.0,1102.4L481.0,1104.0L492.6,1105.2L504.5,1106.2L516.6,1107.0L528.5,1107.7L540.0,1108.4L549.9,1109.1L559.0,1109.6L568.1,1110.1L577.6,1110.6L588.0,1111.0L600.0,1111.4L628.3,1112.1L663.7,1112.8L702.2,1113.4L740.3,1113.8L774.2,1113.8L800.0,1113.4L808.5,1113.1L815.8,1112.7L822.3,1112.3L828.2,1111.7L834.0,1111.1L840.0,1110.4L845.2,1109.7L850.2,1109.1L855.1,1108.3L859.9,1107.4L864.9,1106.3L870.0,1105.0L876.5,1103.0L883.2,1100.7L890.0,1098.1L896.9,1095.4L903.6,1092.4L910.0,1089.4L915.7,1086.5L921.3,1083.6L926.7,1080.5L932.1,1077.3L937.4,1073.8L942.7,1070.0L948.7,1065.3L954.8,1060.3L960.8,1054.9L966.7,1049.3L972.4,1043.6L977.8,1037.8L982.7,1032.2L987.4,1026.5L991.8,1020.6L996.1,1014.7L1000.2,1008.7L1004.0,1002.7L1007.4,997.0L1010.6,991.2L1013.6,985.3L1016.4,979.4L1019.0,973.5L1021.6,967.6L1024.0,961.8L1026.3,956.0L1028.5,950.2L1030.5,944.4L1032.3,938.5L1033.8,932.6L1035.0,926.7L1036.0,920.5L1036.7,914.4L1037.3,908.3L1037.8,902.7L1038.2,897.5L1038.5,894.2L1038.7,891.2L1039.0,888.4L1039.1,885.6L1039.1,882.8L1039.0,880.0L1038.7,877.1L1038.4,874.2L1037.9,871.3L1037.3,868.4L1036.7,865.4L1036.0,862.4L1035.1,859.0L1034.1,855.5L1033.0,852.0L1032.0,848.5L1030.9,845.0L1030.0,841.7L1029.3,838.9L1028.6,836.2L1028.0,833.5L1027.4,830.9L1026.8,828.2L1026.4,825.4L1026.0,822.3L1025.7,819.1L1025.5,815.9L1025.3,812.6L1025.2,809.3L1025.2,805.9L1025.3,802.1L1025.5,798.3L1025.8,794.4L1026.2,790.4L1026.6,786.4L1027.0,782.4L1027.4,777.9L1027.8,773.2L1028.2,768.5L1028.7,763.9L1029.3,759.3L1030.0,755.0L1030.7,751.4L1031.4,747.9L1032.3,744.4L1033.1,741.1L1034.1,738.0L1035.0,735.0L1035.8,732.9L1036.7,731.0L1037.6,729.1L1038.5,727.3L1039.3,725.4L1040.0,723.4L1040.7,720.9L1041.3,718.3L1041.8,715.7L1042.3,712.9L1042.6,710.2L1043.0,707.4L1043.3,704.4L1043.5,701.4L1043.6,698.4L1043.7,695.3L1043.9,692.2L1044.0,689.2L1044.0,681.2L982.0,681.2L982.0,689.2L981.8,692.3L981.1,694.9L980.1,697.1L978.7,698.7L977.0,699.7L975.0,700.1L440.0,700.1Z" fill="#7000FF" />
<path d="M1031.5,681.2L1031.5,702.9L1032.1,711.1L1034.1,718.4L1037.2,724.7L1041.4,730.0L1046.7,734.2L1053.0,737.3L1060.3,739.3L1068.5,739.9L1132.5,739.9L1138.2,739.4L1143.4,738.1L1147.8,735.9L1151.5,732.9L1154.5,729.2L1156.7,724.8L1158.0,719.6L1158.5,713.9L1158.5,681.2Z" fill="#9D00FF" />
<path d="M1032.0,681.2L1032.0,701.9L1032.6,710.0L1034.5,717.3L1037.6,723.6L1041.8,728.9L1047.1,733.1L1053.4,736.2L1060.7,738.1L1068.8,738.7L1132.4,738.7L1138.0,738.3L1143.1,736.9L1147.4,734.8L1151.1,731.9L1154.0,728.2L1156.1,723.9L1157.5,718.8L1157.9,713.2L1157.9,681.2Z" fill="#7000FF" />
<path d="M440.0,703.4L429.4,703.4L418.3,703.4L407.3,703.3L396.7,703.3L386.8,703.6L378.0,704.1L372.9,704.5L368.2,705.0L363.8,705.5L359.6,706.2L355.7,707.2L352.0,708.4L349.1,709.6L346.3,711.0L343.6,712.6L341.2,714.3L339.0,716.2L337.0,718.4L335.2,721.0L333.8,724.0L332.5,727.2L331.5,730.5L330.7,733.9L330.0,737.4L329.5,741.4L329.2,745.5L329.2,749.8L329.3,754.1L329.5,758.3L329.6,762.4L329.7,765.8L329.8,768.9L330.0,772.1L330.2,775.2L330.3,778.6L330.5,782.4L330.7,788.7L330.8,795.6L331.0,803.0L331.2,810.7L331.4,818.3L331.7,825.8L332.0,833.3L332.4,840.9L332.8,848.5L333.3,856.0L334.0,863.4L335.0,870.4L336.1,876.4L337.4,882.2L338.8,887.8L340.4,893.3L342.1,898.7L344.0,903.9L345.8,908.5L347.8,913.0L349.8,917.3L352.1,921.6L354.6,925.8L357.4,930.0L361.1,934.9L365.4,939.9L369.9,944.7L374.7,949.5L379.5,954.1L384.2,958.4L388.4,962.1L392.6,965.6L396.9,969.0L401.2,972.2L405.5,975.3L410.0,978.4L414.5,981.4L419.0,984.4L423.6,987.3L428.3,990.1L433.2,992.6L438.4,994.9L444.6,997.1L451.2,999.0L457.9,1000.5L465.0,1001.9L472.4,1003.2L480.0,1004.4L489.9,1005.8L500.3,1007.0L511.1,1008.1L522.3,1008.9L534.2,1009.7L546.7,1010.4L565.3,1011.2L585.7,1011.6L607.2,1011.9L628.9,1012.1L650.1,1012.2L670.0,1012.4L686.0,1012.6L701.7,1012.8L717.0,1012.9L731.9,1013.0L746.2,1013.0L760.0,1012.9L770.8,1012.7L781.1,1012.5L791.0,1012.3L800.8,1011.9L810.4,1011.4L820.0,1010.6L829.1,1009.7L838.0,1008.7L846.9,1007.6L855.6,1006.2L864.2,1004.6L872.6,1002.7L880.3,1000.7L887.9,998.4L895.3,995.9L902.5,993.2L909.6,990.2L916.4,986.9L922.7,983.4L928.8,979.6L934.7,975.5L940.5,971.2L946.0,966.8L951.5,962.4L956.6,958.1L961.6,953.7L966.5,949.2L971.2,944.6L975.7,940.0L980.0,935.4L983.8,931.1L987.4,926.8L990.9,922.4L994.2,918.0L997.2,913.6L1000.0,909.4L1002.0,906.0L1003.9,902.7L1005.6,899.5L1007.1,896.2L1008.6,892.9L1010.0,889.4L1011.5,885.7L1012.9,881.9L1014.2,878.0L1015.3,874.0L1016.4,869.9L1017.4,865.6L1018.4,860.1L1019.1,854.2L1019.7,848.1L1020.2,841.9L1020.6,835.8L1021.0,829.8L1021.3,824.3L1021.5,818.8L1021.7,813.3L1021.8,807.9L1021.9,802.6L1022.0,797.4L1022.1,792.7L1022.0,788.0L1022.0,783.4L1022.0,778.8L1022.2,774.4L1022.5,770.0L1023.0,766.0L1023.6,762.1L1024.3,758.2L1025.1,754.4L1026.0,750.8L1027.0,747.4L1027.9,744.8L1028.8,742.4L1029.8,740.0L1030.9,737.8L1031.9,735.6L1033.0,733.4L1034.0,731.5L1035.1,729.7L1036.2,728.0L1037.3,726.2L1038.2,724.4L1039.0,722.4L1039.6,720.1L1040.1,717.7L1040.4,715.2L1040.6,712.6L1040.8,710.0L1041.0,707.4L1041.2,704.5L1041.4,701.5L1041.6,698.4L1041.7,695.3L1041.8,692.3L1042.0,689.2L1042.0,681.2L983.0,681.2L983.0,689.2L982.8,693.2L982.1,696.7L981.1,699.5L979.7,701.6L978.0,702.9L976.0,703.4L440.0,703.4Z" fill="#4400FF" />
<path d="M1032.5,681.2L1032.5,701.0L1033.1,709.1L1035.0,716.3L1038.1,722.6L1042.3,727.8L1047.5,732.0L1053.8,735.1L1061.0,737.0L1069.1,737.6L1132.3,737.6L1137.8,737.2L1142.7,735.9L1147.0,733.8L1150.6,730.9L1153.5,727.3L1155.6,723.0L1156.9,718.1L1157.3,712.6L1157.3,681.2Z" fill="#4400FF" />
<path d="M440.0,706.2L430.6,706.3L421.0,706.3L411.4,706.3L402.0,706.3L393.1,706.6L385.0,707.2L379.5,707.7L374.2,708.3L369.2,708.9L364.5,709.8L360.1,710.9L356.0,712.4L352.8,713.9L349.8,715.6L346.9,717.6L344.3,719.7L342.0,721.9L340.0,724.4L338.4,727.0L337.1,729.9L336.1,732.9L335.2,736.1L334.6,739.2L334.0,742.4L333.6,745.6L333.4,749.0L333.3,752.3L333.4,755.7L333.4,759.0L333.5,762.4L333.6,765.7L333.7,768.9L333.8,772.1L334.0,775.4L334.2,778.8L334.3,782.4L334.4,787.3L334.5,792.5L334.5,798.0L334.6,803.5L334.7,809.1L335.0,814.6L335.3,820.2L335.7,825.7L336.2,831.3L336.8,836.9L337.5,842.5L338.4,848.1L339.5,853.8L340.7,859.6L342.0,865.4L343.5,871.1L345.3,876.5L347.3,881.6L349.3,885.7L351.5,889.6L353.8,893.4L356.3,896.9L359.0,900.4L361.8,903.9L364.9,907.5L368.2,911.1L371.7,914.6L375.3,917.9L379.1,921.0L383.0,923.9L387.2,926.5L391.5,928.7L396.1,930.8L400.7,932.7L405.4,934.6L410.0,936.4L414.6,938.2L419.1,939.9L423.7,941.6L428.4,943.2L433.3,944.7L438.4,946.1L444.7,947.7L451.3,949.2L458.0,950.6L465.1,952.0L472.4,953.2L480.0,954.4L490.0,955.8L500.3,957.0L511.1,958.2L522.4,959.2L534.2,960.1L546.7,961.0L565.3,962.1L585.7,962.9L607.2,963.7L628.9,964.2L650.1,964.7L670.0,965.1L686.0,965.3L701.7,965.5L717.0,965.6L731.9,965.6L746.2,965.5L760.0,965.4L770.8,965.3L781.1,965.3L791.0,965.2L800.8,965.0L810.4,964.7L820.0,964.1L829.0,963.4L838.0,962.6L846.9,961.7L855.6,960.5L864.2,959.1L872.6,957.4L880.4,955.4L888.1,953.0L895.7,950.3L903.0,947.6L910.0,944.9L916.4,942.4L920.8,940.7L924.8,939.1L928.7,937.6L932.4,936.0L936.1,934.3L940.0,932.4L944.4,930.2L948.8,927.9L953.2,925.5L957.6,922.9L961.9,920.2L966.0,917.4L970.0,914.3L973.9,911.1L977.7,907.6L981.4,904.1L984.8,900.7L988.0,897.4L990.3,894.9L992.5,892.6L994.5,890.3L996.4,887.9L998.3,885.3L1000.0,882.4L1002.1,878.3L1004.0,873.8L1005.8,869.0L1007.5,864.0L1009.0,858.8L1010.3,853.7L1011.5,847.9L1012.5,841.9L1013.3,835.7L1013.9,829.5L1014.5,823.5L1015.0,817.8L1015.4,813.3L1015.7,809.0L1016.0,804.7L1016.2,800.6L1016.3,796.5L1016.5,792.4L1016.6,788.6L1016.6,784.8L1016.5,781.1L1016.5,777.4L1016.7,773.7L1017.0,770.0L1017.5,766.2L1018.2,762.2L1019.0,758.3L1019.9,754.5L1020.9,750.8L1022.0,747.4L1023.0,744.8L1024.1,742.4L1025.3,740.0L1026.5,737.8L1027.8,735.6L1029.0,733.4L1030.2,731.5L1031.4,729.7L1032.7,728.0L1033.9,726.2L1035.1,724.4L1036.0,722.4L1036.8,720.1L1037.4,717.7L1037.9,715.2L1038.3,712.6L1038.7,710.0L1039.0,707.4L1039.3,704.5L1039.5,701.5L1039.6,698.4L1039.8,695.3L1039.9,692.3L1040.0,689.2L1040.0,681.2L984.0,681.2L984.0,689.2L983.7,694.0L983.0,698.1L981.8,701.5L980.2,704.1L978.3,705.6L976.0,706.2L440.0,706.2Z" fill="#1A00FF" />
<path d="M1033.0,681.2L1033.0,700.3L1033.6,708.3L1035.5,715.5L1038.6,721.7L1042.7,726.9L1047.9,731.0L1054.1,734.1L1061.3,736.0L1069.3,736.6L1132.2,736.6L1137.6,736.2L1142.4,734.9L1146.6,732.9L1150.1,730.0L1153.0,726.5L1155.0,722.3L1156.3,717.5L1156.7,712.1L1156.7,681.2Z" fill="#1A00FF" />
<path d="M440.0,709.0L431.4,709.1L422.5,709.2L413.6,709.3L405.0,709.4L396.8,709.7L389.2,710.1L384.0,710.4L379.0,710.7L374.2,711.0L369.7,711.5L365.4,712.3L361.4,713.4L358.3,714.6L355.4,715.9L352.6,717.3L350.1,719.0L347.8,720.9L345.7,722.9L344.0,725.1L342.5,727.5L341.3,730.2L340.2,732.9L339.3,735.7L338.5,738.5L337.8,741.5L337.4,744.6L337.1,747.8L337.0,751.0L336.9,754.2L336.8,757.4L336.7,760.7L336.7,763.9L336.8,767.2L336.9,770.5L337.1,773.9L337.2,777.4L337.3,781.5L337.4,785.8L337.6,790.1L337.8,794.5L338.0,799.0L338.4,803.4L338.9,808.0L339.4,812.7L340.1,817.4L340.8,822.1L341.7,826.8L342.8,831.4L344.1,836.1L345.5,840.9L347.0,845.7L348.8,850.3L350.7,854.9L352.9,859.2L355.2,863.3L357.8,867.2L360.5,871.0L363.4,874.7L366.4,878.2L369.6,881.6L372.9,884.8L376.4,887.8L380.0,890.6L383.8,893.3L387.8,895.8L392.0,898.3L397.0,900.9L402.4,903.4L407.9,905.7L413.7,907.9L419.5,909.9L425.4,911.7L431.6,913.4L437.7,914.9L444.0,916.2L450.6,917.3L457.5,918.4L465.0,919.4L476.7,920.7L489.4,921.6L502.9,922.4L517.1,923.1L531.8,923.7L546.7,924.4L567.0,925.2L589.8,925.9L613.3,926.6L635.7,927.2L655.2,927.8L670.0,928.4L674.2,928.7L677.5,928.9L680.3,929.2L683.1,929.4L686.2,929.6L690.0,929.8L699.3,929.9L710.4,929.8L722.7,929.6L735.5,929.4L748.2,929.1L760.0,928.9L770.3,928.8L780.5,928.7L790.5,928.7L800.5,928.6L810.3,928.3L820.0,927.9L829.0,927.4L838.0,926.8L846.9,926.1L855.6,925.3L864.2,924.2L872.6,922.9L880.2,921.4L887.7,919.7L895.0,917.8L902.2,915.7L909.3,913.6L916.4,911.4L923.2,909.3L930.1,907.1L936.9,904.9L943.4,902.6L949.5,900.1L955.0,897.4L958.7,895.3L962.1,893.0L965.3,890.7L968.3,888.4L971.1,885.9L974.0,883.4L976.7,881.0L979.4,878.5L982.0,876.0L984.4,873.4L986.8,870.5L989.0,867.4L991.4,863.3L993.7,858.9L995.7,854.3L997.6,849.4L999.4,844.4L1001.0,839.4L1002.6,833.9L1004.0,828.1L1005.2,822.3L1006.3,816.4L1007.2,810.7L1008.0,805.4L1008.5,801.2L1009.0,797.2L1009.3,793.2L1009.6,789.4L1009.8,785.8L1010.0,782.4L1010.1,780.1L1010.1,778.1L1010.1,776.1L1010.2,774.2L1010.3,772.2L1010.5,770.0L1010.9,766.8L1011.5,763.4L1012.1,759.8L1012.9,756.2L1013.8,752.7L1015.0,749.4L1016.3,746.5L1017.9,743.7L1019.6,741.0L1021.4,738.4L1023.1,735.8L1024.8,733.4L1026.2,731.5L1027.7,729.7L1029.2,727.9L1030.6,726.2L1031.9,724.4L1033.0,722.4L1034.0,720.1L1034.8,717.7L1035.5,715.2L1036.1,712.7L1036.6,710.0L1037.0,707.4L1037.4,704.5L1037.6,701.5L1037.7,698.4L1037.8,695.3L1037.9,692.3L1038.0,689.2L1038.0,681.2L985.0,681.2L985.0,689.2L984.7,694.8L983.9,699.6L982.5,703.6L980.7,706.5L978.5,708.4L976.0,709.0L440.0,709.0Z" fill="#0000FF" />
<path d="M1033.5,681.2L1033.5,699.6L1034.1,707.6L1036.0,714.6L1039.0,720.8L1043.1,726.0L1048.3,730.1L1054.5,733.1L1061.5,735.0L1069.5,735.6L1132.0,735.6L1137.3,735.2L1142.0,733.9L1146.1,731.9L1149.6,729.2L1152.3,725.7L1154.3,721.6L1155.6,716.9L1156.0,711.6L1156.0,681.2Z" fill="#0000FF" />
<path d="M440.0,716.8L433.3,716.9L426.6,716.9L419.8,716.9L413.1,716.9L406.6,717.1L400.4,717.4L395.2,717.7L390.1,718.0L385.0,718.4L380.2,718.9L375.7,719.6L371.4,720.7L368.2,721.8L365.1,723.0L362.1,724.3L359.4,725.9L356.9,727.6L354.7,729.6L352.8,731.8L351.2,734.2L349.9,736.8L348.7,739.6L347.7,742.4L346.8,745.2L346.1,748.1L345.7,751.1L345.5,754.1L345.3,757.2L345.3,760.2L345.2,763.1L345.2,765.5L345.2,767.9L345.3,770.2L345.4,772.5L345.5,774.9L345.6,777.4L345.7,780.6L345.8,783.9L345.9,787.3L346.1,790.8L346.4,794.3L346.8,797.9L347.5,802.1L348.3,806.3L349.2,810.7L350.3,815.1L351.5,819.4L352.9,823.5L354.4,827.4L356.0,831.4L357.7,835.2L359.6,838.9L361.7,842.5L364.0,845.9L366.4,849.0L369.0,852.0L371.7,854.9L374.6,857.6L377.7,860.1L380.8,862.6L384.1,865.0L387.6,867.2L391.2,869.3L395.0,871.2L398.9,873.1L403.0,874.9L408.2,876.9L413.7,878.8L419.4,880.5L425.3,882.1L431.0,883.6L436.6,884.9L441.3,886.0L445.7,886.9L450.0,887.7L454.5,888.5L459.4,889.2L465.0,889.9L476.0,891.0L488.5,891.9L502.1,892.7L516.6,893.4L531.6,894.0L546.7,894.6L567.0,895.3L589.8,895.9L613.3,896.5L635.7,896.9L655.2,897.2L670.0,897.4L674.2,897.4L677.5,897.5L680.3,897.5L683.1,897.5L686.2,897.4L690.0,897.4L699.3,897.3L710.4,897.2L722.7,897.0L735.5,896.8L748.2,896.6L760.0,896.4L770.3,896.2L780.3,896.1L790.3,895.9L800.2,895.7L810.1,895.3L820.0,894.9L830.2,894.3L840.8,893.6L851.3,892.8L861.5,891.9L871.2,891.0L880.0,890.1L885.6,889.5L890.8,888.9L895.6,888.3L900.4,887.6L905.1,886.8L909.9,885.9L915.0,884.8L920.1,883.7L925.2,882.4L930.2,881.0L935.1,879.4L939.8,877.6L944.1,875.8L948.3,873.8L952.4,871.6L956.3,869.4L960.1,866.9L963.7,864.4L966.9,861.9L969.9,859.3L972.7,856.6L975.5,853.7L978.0,850.8L980.4,847.7L982.6,844.6L984.6,841.4L986.4,838.1L988.2,834.6L989.7,831.1L991.2,827.4L992.7,823.1L993.9,818.5L995.1,813.8L996.1,809.1L996.9,804.4L997.7,799.9L998.3,796.0L998.7,792.1L999.0,788.2L999.3,784.5L999.6,780.9L1000.0,777.4L1000.3,774.7L1000.6,772.1L1000.9,769.6L1001.2,767.2L1001.6,764.8L1002.0,762.4L1002.4,760.2L1002.9,758.0L1003.4,755.8L1003.9,753.6L1004.4,751.5L1005.0,749.4L1005.6,747.4L1006.3,745.4L1006.9,743.4L1007.6,741.4L1008.3,739.4L1009.0,737.4L1009.7,735.3L1010.3,733.1L1010.9,730.9L1011.6,728.7L1012.3,726.5L1013.0,724.4L1013.7,722.4L1014.5,720.3L1015.3,718.2L1016.2,716.3L1017.0,714.5L1018.0,712.9L1018.8,711.8L1019.5,710.7L1020.3,709.7L1021.2,708.9L1022.1,708.3L1023.0,707.9L1023.9,707.8L1024.9,708.0L1025.9,708.4L1027.0,708.8L1028.0,709.4L1029.0,709.9L1030.2,710.6L1031.3,711.3L1032.5,712.2L1033.6,713.1L1034.8,714.0L1036.0,714.9L1037.3,716.0L1038.7,717.4L1040.1,718.7L1041.5,719.9L1042.8,720.7L1044.0,720.9L1045.2,720.4L1046.3,719.4L1047.4,717.9L1048.4,716.2L1049.2,714.3L1050.0,712.4L1050.8,709.3L1051.3,705.6L1051.5,701.6L1051.6,697.4L1051.8,693.2L1052.0,689.2L1052.0,681.2L989.0,681.2L989.0,689.2L988.5,697.0L987.2,703.7L985.1,709.2L982.4,713.3L979.0,715.9L975.0,716.8L440.0,716.8Z" fill="#002AFF" />
<path d="M433.6,721.3L428.5,721.3L424.2,721.3L420.2,721.4L416.1,721.5L411.6,721.8L406.0,722.1L400.2,722.4L394.2,722.9L388.4,723.5L382.9,724.4L378.0,725.7L374.5,727.0L371.2,728.5L368.0,730.2L365.1,732.0L362.5,734.1L360.2,736.3L358.4,738.6L356.8,741.0L355.5,743.6L354.3,746.3L353.3,749.1L352.5,751.9L351.8,754.8L351.3,757.7L351.0,760.7L350.9,763.7L350.8,766.8L350.8,770.0L350.9,773.6L351.0,777.3L351.3,781.0L351.7,784.8L352.2,788.6L352.9,792.3L353.7,796.1L354.6,799.9L355.6,803.7L356.8,807.4L358.1,811.1L359.6,814.6L361.2,818.0L363.0,821.3L365.0,824.6L367.1,827.7L369.4,830.8L371.9,833.6L374.7,836.4L377.8,839.0L381.0,841.5L384.5,843.8L388.1,846.0L392.0,848.1L396.9,850.4L402.2,852.5L407.8,854.4L413.6,856.2L419.5,857.8L425.4,859.2L431.6,860.5L437.8,861.6L444.0,862.6L450.6,863.4L457.5,864.1L465.0,864.8L476.7,865.7L489.4,866.3L503.0,866.8L517.1,867.2L531.8,867.5L546.7,867.9L565.8,868.4L585.8,868.9L606.6,869.4L627.8,869.8L649.0,870.1L670.0,870.2L691.6,870.2L713.7,870.0L735.9,869.8L757.7,869.4L778.7,869.0L798.4,868.4L813.4,867.9L828.0,867.5L842.1,867.0L855.5,866.3L868.2,865.5L880.0,864.4L887.9,863.5L895.3,862.5L902.3,861.4L909.0,860.1L915.4,858.8L921.8,857.2L927.2,855.7L932.5,854.2L937.6,852.5L942.5,850.7L947.2,848.7L951.7,846.5L955.5,844.4L959.2,842.2L962.7,839.9L966.0,837.5L969.1,834.9L972.0,832.2L974.4,829.7L976.7,827.0L978.7,824.3L980.6,821.4L982.4,818.5L984.0,815.4L985.5,812.1L986.8,808.5L987.9,804.9L988.9,801.2L989.8,797.6L990.6,793.9L991.2,790.3L991.7,786.6L992.1,782.9L992.4,779.3L992.6,775.8L993.0,772.4L993.4,769.8L993.7,767.2L994.1,764.8L994.4,762.4L994.8,759.9L995.0,757.4L995.2,754.7L995.4,751.9L995.5,749.2L995.5,746.4L995.5,743.6L995.5,740.8L995.4,737.9L995.4,734.9L995.2,731.9L995.0,729.0L994.7,726.3L994.3,724.0L994.0,722.6L993.6,721.2L993.2,719.9L992.8,718.8L992.2,717.9L991.6,717.4L991.0,717.3L990.3,717.5L989.5,717.8L988.7,718.2L987.9,718.6L987.1,719.0L986.1,719.4L985.0,719.8L984.0,720.2L982.8,720.6L981.6,721.0L980.4,721.3L978.8,721.6L977.0,721.8L975.2,722.0L973.3,722.2L971.3,722.3L969.2,722.4L966.1,722.5L962.8,722.5L959.3,722.5L955.6,722.5L951.5,722.4L947.0,722.4L938.3,722.3L928.5,722.2L917.8,722.1L906.1,722.0L893.5,721.9L880.0,721.8L855.4,721.7L827.7,721.6L797.5,721.5L765.7,721.5L732.9,721.4L700.0,721.4L656.4,721.3L607.2,721.2L556.6,721.2L509.0,721.1L468.7,721.2L440.0,721.3Z" fill="#0055FF" />
<path d="M433.6,726.8L428.3,726.9L423.9,726.9L419.8,727.0L415.9,727.1L411.6,727.4L407.3,727.7L403.1,728.0L398.9,728.4L394.8,728.9L390.8,729.7L387.0,730.7L383.5,731.9L380.0,733.3L376.6,734.9L373.4,736.6L370.5,738.6L368.0,740.8L366.0,743.0L364.3,745.6L362.8,748.2L361.5,751.0L360.4,753.7L359.5,756.4L358.9,758.7L358.4,760.9L358.2,763.1L358.0,765.4L358.0,767.7L358.0,770.0L358.1,772.7L358.4,775.4L358.8,778.2L359.3,781.0L359.9,783.8L360.7,786.7L361.8,790.0L363.0,793.5L364.4,797.0L366.0,800.4L367.7,803.7L369.6,806.8L371.5,809.5L373.5,812.1L375.7,814.6L378.0,817.0L380.4,819.2L383.0,821.3L386.0,823.4L389.2,825.2L392.5,827.0L396.0,828.6L399.5,830.0L403.0,831.4L406.5,832.6L410.1,833.7L413.7,834.6L417.4,835.4L421.3,836.1L425.4,836.9L431.2,837.9L437.2,838.7L443.6,839.5L450.3,840.2L457.4,840.8L465.0,841.4L476.7,842.1L489.4,842.6L503.0,843.0L517.1,843.3L531.8,843.6L546.7,843.9L565.8,844.3L585.8,844.8L606.6,845.2L627.8,845.6L649.0,845.8L670.0,845.9L691.6,845.8L713.7,845.6L735.9,845.3L757.7,844.9L778.6,844.4L798.4,843.9L813.5,843.5L828.5,843.0L842.9,842.6L856.5,842.0L868.9,841.3L880.0,840.5L885.8,839.9L891.1,839.4L895.9,838.8L900.5,838.1L905.1,837.3L909.9,836.4L915.0,835.4L920.1,834.2L925.2,833.0L930.3,831.7L935.2,830.2L939.8,828.6L943.7,827.1L947.5,825.5L951.2,823.7L954.8,821.9L958.1,819.9L961.3,817.8L964.1,815.7L966.7,813.4L969.2,811.0L971.5,808.6L973.7,806.0L975.6,803.4L977.2,801.0L978.6,798.4L979.9,795.8L981.0,793.2L981.9,790.5L982.8,787.9L983.5,785.3L984.0,782.7L984.4,780.0L984.8,777.3L985.0,774.8L985.2,772.4L985.3,770.6L985.4,768.9L985.4,767.3L985.4,765.7L985.3,764.1L985.3,762.4L985.3,760.7L985.3,759.0L985.2,757.2L985.2,755.5L985.1,753.7L984.9,751.9L984.7,749.7L984.5,747.3L984.3,744.9L983.9,742.6L983.4,740.4L982.6,738.5L981.8,737.1L980.8,735.9L979.8,734.7L978.6,733.7L977.4,732.8L976.0,731.9L974.3,731.0L972.5,730.3L970.5,729.8L968.4,729.3L966.1,728.9L963.7,728.5L959.8,728.1L955.6,727.9L951.1,727.8L946.2,727.9L941.1,727.9L935.8,727.9L928.0,727.8L919.8,727.8L911.1,727.9L901.7,727.9L891.4,727.9L880.0,727.9L856.3,727.8L828.8,727.7L798.5,727.6L766.2,727.4L733.1,727.3L700.0,727.2L656.4,727.1L607.2,726.9L556.6,726.8L509.0,726.7L468.7,726.7L440.0,726.8Z" fill="#0080FF" />
<path d="M433.6,735.8L428.2,735.9L423.7,735.9L419.6,736.0L415.7,736.1L411.6,736.3L408.0,736.5L404.5,736.6L401.1,736.8L397.8,737.2L394.6,737.7L391.5,738.5L388.6,739.5L385.7,740.8L382.9,742.2L380.3,743.8L377.9,745.5L375.9,747.4L374.3,749.3L373.0,751.4L371.8,753.7L370.9,756.0L370.1,758.3L369.5,760.4L369.2,762.0L368.9,763.6L368.9,765.2L368.9,766.8L369.0,768.4L369.2,770.0L369.5,771.8L370.0,773.7L370.6,775.6L371.3,777.4L372.1,779.3L373.0,781.2L374.2,783.4L375.7,785.7L377.2,788.0L379.0,790.3L380.9,792.4L383.0,794.5L385.8,796.8L388.9,799.1L392.3,801.2L395.8,803.3L399.4,805.1L403.0,806.8L406.5,808.3L410.0,809.5L413.6,810.6L417.3,811.6L421.2,812.6L425.4,813.5L431.2,814.7L437.2,815.8L443.6,816.8L450.3,817.7L457.4,818.5L465.0,819.1L476.7,819.7L489.4,820.0L503.0,820.0L517.1,819.8L531.8,819.7L546.7,819.7L565.8,819.8L585.8,819.9L606.6,820.0L627.8,820.1L649.0,820.1L670.0,820.1L691.6,820.1L713.7,820.0L735.8,819.9L757.7,819.8L778.6,819.6L798.4,819.4L813.5,819.3L828.2,819.2L842.4,819.1L855.9,818.9L868.5,818.5L880.0,817.8L886.9,817.2L893.2,816.6L899.1,815.9L904.8,815.0L910.3,814.1L915.9,813.0L921.2,811.9L926.4,810.7L931.5,809.4L936.5,808.0L941.3,806.4L945.7,804.7L949.1,803.2L952.5,801.5L955.6,799.8L958.6,797.9L961.3,796.0L963.7,793.9L965.5,792.1L967.1,790.2L968.6,788.2L969.9,786.2L971.0,784.1L972.0,782.0L972.7,780.1L973.3,778.1L973.8,776.1L974.1,774.1L974.4,772.0L974.6,770.0L974.8,767.9L975.0,765.8L975.0,763.6L975.0,761.5L975.0,759.4L974.8,757.4L974.6,755.6L974.4,753.9L974.1,752.1L973.7,750.5L973.2,748.9L972.6,747.4L971.9,746.1L971.2,744.9L970.3,743.7L969.3,742.7L968.2,741.7L967.0,740.8L965.1,739.8L963.0,739.0L960.6,738.3L958.0,737.8L955.3,737.3L952.5,736.9L948.5,736.5L944.1,736.3L939.5,736.3L934.7,736.3L929.7,736.4L924.6,736.4L918.1,736.4L911.6,736.4L904.8,736.4L897.5,736.4L889.3,736.4L880.0,736.4L857.4,736.4L830.2,736.3L799.6,736.2L766.9,736.1L733.3,736.1L700.0,736.0L656.4,735.9L607.2,735.8L556.6,735.7L509.0,735.7L468.7,735.7L440.0,735.8Z" fill="#00AAFF" />
<path d="M432.3,752.0L425.6,752.0L419.8,752.0L414.8,752.2L410.2,752.5L406.0,753.0L403.7,753.4L401.5,753.8L399.6,754.2L397.8,754.8L396.2,755.5L394.8,756.4L393.8,757.3L392.8,758.4L392.0,759.6L391.4,760.9L390.9,762.1L390.6,763.4L390.5,764.6L390.6,765.9L390.9,767.1L391.3,768.4L391.8,769.7L392.5,770.9L393.7,772.5L395.1,774.2L396.8,775.8L398.7,777.3L400.8,778.7L403.0,780.0L406.1,781.4L409.5,782.5L413.2,783.4L417.1,784.2L421.2,784.9L425.4,785.6L431.2,786.3L437.2,786.8L443.6,787.1L450.3,787.4L457.4,787.6L465.0,787.8L476.7,788.1L489.4,788.4L503.0,788.6L517.1,788.7L531.8,788.8L546.7,789.0L565.8,789.3L585.8,789.5L606.6,789.8L627.8,790.0L649.0,790.2L670.0,790.3L691.6,790.3L713.7,790.2L735.8,790.1L757.7,789.9L778.6,789.6L798.4,789.4L813.4,789.2L828.2,789.1L842.4,788.9L855.9,788.7L868.5,788.4L880.0,787.9L886.9,787.5L893.3,787.2L899.3,786.7L905.0,786.2L910.5,785.6L915.9,784.9L920.3,784.2L924.6,783.5L928.8,782.7L932.8,781.9L936.5,780.8L939.8,779.6L942.0,778.6L944.1,777.5L946.0,776.3L947.7,775.1L949.2,773.8L950.5,772.4L951.4,771.3L952.2,770.2L952.8,769.0L953.3,767.8L953.6,766.6L953.6,765.4L953.2,763.9L952.4,762.2L951.3,760.6L949.9,759.0L948.5,757.6L947.0,756.4L945.4,755.5L943.8,754.7L941.9,754.2L940.0,753.8L938.0,753.4L935.8,753.0L932.6,752.6L929.1,752.3L925.4,752.1L921.6,752.0L917.6,752.0L913.5,751.9L908.6,751.8L903.8,751.8L898.8,751.8L893.4,751.8L887.2,751.9L880.0,751.9L858.7,751.9L831.8,751.8L801.0,751.8L767.7,751.8L733.6,751.7L700.0,751.7L656.6,751.7L607.8,751.6L557.7,751.5L510.4,751.5L469.8,751.6L440.0,751.9Z" fill="#00DDFF" />
<path d="M1036.0,681.2L1036.0,705.4L1040.0,715.4L1045.0,723.4L1048.0,681.2Z" fill="#0055FF" />
<path d="M1040.5,681.2L1040.5,701.6L1041.0,708.5L1042.6,714.6L1045.2,719.9L1048.8,724.3L1053.2,727.9L1058.5,730.5L1064.6,732.1L1071.5,732.6L1131.5,732.6L1136.7,732.2L1141.3,731.0L1145.3,729.0L1148.7,726.3L1151.4,722.9L1153.4,718.9L1154.6,714.3L1155.0,709.1L1155.0,681.2Z" fill="#0060FF" />
<path d="M1041.2,681.2L1041.2,700.5L1041.7,707.2L1043.3,713.2L1045.9,718.5L1049.4,722.8L1053.7,726.3L1059.0,728.9L1065.0,730.5L1071.7,731.0L1131.3,731.0L1136.4,730.6L1140.9,729.4L1144.8,727.5L1148.1,724.8L1150.8,721.5L1152.7,717.6L1153.9,713.1L1154.3,708.0L1154.3,681.2Z" fill="#00BBFF" />
<path d="M1041.9,681.2L1041.9,699.8L1042.4,706.4L1044.0,712.3L1046.5,717.5L1049.9,721.8L1054.2,725.2L1059.4,727.7L1065.3,729.3L1071.9,729.8L1131.1,729.8L1136.1,729.4L1140.5,728.2L1144.3,726.4L1147.6,723.8L1150.2,720.5L1152.0,716.7L1153.2,712.3L1153.6,707.3L1153.6,681.2Z" fill="#00FFDD" />
<path d="M1042.7,681.2L1042.7,697.9L1043.2,704.4L1044.7,710.2L1047.2,715.3L1050.6,719.5L1054.8,722.9L1059.9,725.4L1065.7,726.9L1072.2,727.4L1130.9,727.4L1135.8,727.0L1140.1,725.9L1143.9,724.0L1147.0,721.5L1149.5,718.4L1151.4,714.6L1152.5,710.3L1152.9,705.4L1152.9,681.2Z" fill="#00FF66" />
<path d="M1043.5,681.2L1043.5,696.7L1044.0,703.1L1045.5,708.8L1047.9,713.8L1051.3,717.9L1055.4,721.3L1060.4,723.7L1066.1,725.2L1072.5,725.7L1130.8,725.7L1135.6,725.3L1139.8,724.2L1143.5,722.4L1146.5,719.9L1149.0,716.9L1150.8,713.2L1151.9,709.0L1152.3,704.2L1152.3,681.2Z" fill="#33FF00" />
<path d="M1044.7,681.2L1044.7,695.5L1045.2,701.8L1046.7,707.4L1049.1,712.3L1052.3,716.4L1056.4,719.6L1061.3,722.0L1066.9,723.5L1073.2,724.0L1130.6,724.0L1135.2,723.6L1139.4,722.5L1143.0,720.8L1146.0,718.4L1148.4,715.4L1150.1,711.8L1151.2,707.6L1151.6,703.0L1151.6,681.2Z" fill="#AAFF00" />
<path d="M1045.7,681.2L1045.7,694.4L1046.2,700.6L1047.6,706.1L1050.0,710.9L1053.2,714.9L1057.2,718.1L1062.0,720.5L1067.5,721.9L1073.7,722.4L1130.5,722.4L1135.0,722.0L1139.1,721.0L1142.6,719.3L1145.5,716.9L1147.9,714.0L1149.6,710.5L1150.6,706.4L1151.0,701.9L1151.0,681.2Z" fill="#FFEE00" />
<path d="M1046.4,681.2L1046.4,693.5L1046.9,699.6L1048.3,705.0L1050.6,709.7L1053.8,713.6L1057.7,716.8L1062.4,719.1L1067.8,720.5L1073.9,721.0L1130.7,721.0L1135.1,720.6L1139.1,719.6L1142.5,717.9L1145.4,715.6L1147.6,712.8L1149.3,709.4L1150.3,705.4L1150.7,701.0L1150.7,681.2Z" fill="#FFAA00" />
<path d="M1047.0,681.2L1047.0,692.8L1047.5,698.8L1048.9,704.1L1051.1,708.7L1054.2,712.6L1058.1,715.7L1062.7,717.9L1068.0,719.3L1074.0,719.8L1131.0,719.8L1135.3,719.5L1139.1,718.5L1142.5,716.8L1145.3,714.6L1147.5,711.8L1149.2,708.4L1150.2,704.6L1150.5,700.3L1150.5,681.2Z" fill="#FF7700" />
<path d="M1047.5,681.2L1047.5,692.7L1048.0,698.4L1049.3,703.6L1051.5,708.0L1054.5,711.7L1058.2,714.7L1062.6,716.9L1067.8,718.2L1073.5,718.7L1131.2,718.7L1135.4,718.4L1139.1,717.4L1142.4,715.8L1145.1,713.6L1147.3,710.9L1148.9,707.6L1149.9,703.9L1150.2,699.7L1150.2,681.2Z" fill="#FF4400" />
<path d="M1049.0,681.2L1049.0,689.1L1049.4,694.4L1050.7,699.1L1052.7,703.2L1055.4,706.7L1058.9,709.4L1063.0,711.4L1067.7,712.7L1073.0,713.1L1132.0,713.1L1135.8,712.8L1139.1,711.9L1142.0,710.5L1144.5,708.6L1146.4,706.1L1147.8,703.2L1148.7,699.9L1149.0,696.1L1149.0,681.2Z" fill="#FF2200" />
<path d="M1051.0,681.2L1051.0,687.4L1051.4,691.8L1052.4,695.8L1054.1,699.2L1056.3,702.0L1059.2,704.3L1062.6,706.0L1066.6,707.0L1071.0,707.4L1133.5,707.4L1136.6,707.2L1139.3,706.4L1141.7,705.3L1143.8,703.7L1145.4,701.6L1146.5,699.2L1147.3,696.5L1147.5,693.4L1147.5,681.2Z" fill="#FF0000" />
<rect x="50" y="688.0" width="1220" height="3.2" fill="#2a0030" fill-opacity="0.8"/>
</g></g>
<rect x="221.3" y="657.9" width="49.5" height="30.7" fill="#3A00FF"/>
<rect x="221.3" y="657.9" width="49.5" height="30.7" fill="url(#h1)" stroke="#000" stroke-width="1.2"/>
<g clip-path="url(#cpb2)">
<rect x="1193.6" y="657.9" width="56.4" height="30.7" fill="#3A00FF"/>
<rect x="1193.6" y="657.9" width="56.4" height="30.7" fill="url(#h1)" stroke="#000" stroke-width="1.2"/>
</g>
<linearGradient id="gyb" x1="0" x2="0" y1="0" y2="1"><stop offset="0" stop-color="#FFD800"/><stop offset="0.75" stop-color="#FFD000"/><stop offset="0.9" stop-color="#FF9000"/><stop offset="1" stop-color="#FF5000"/></linearGradient>
<rect x="1075.8" y="657.9" width="50.4" height="30.7" fill="url(#gyb)"/>
<rect x="1075.8" y="657.9" width="50.4" height="30.7" fill="url(#h1)" stroke="#000" stroke-width="1.2"/>
<linearGradient id="gl577" x1="0" x2="1" y1="0" y2="0"><stop offset="0" stop-color="#0077FF"/><stop offset="0.5" stop-color="#0044FF"/><stop offset="1" stop-color="#0022FF"/></linearGradient>
<linearGradient id="gr577" x1="0" x2="0" y1="0" y2="1"><stop offset="0" stop-color="#0033FF"/><stop offset="0.3" stop-color="#0077FF"/><stop offset="0.55" stop-color="#00EEFF"/><stop offset="0.72" stop-color="#33FF33"/><stop offset="0.86" stop-color="#FFEE00"/><stop offset="1" stop-color="#FF6600"/></linearGradient>
<path d="M978.6,689.2 L980.3,657.4 Q980.8,645.0 992,645.0 L1046,645.0 Q1057.5,645.0 1057.5,657.4 L1057.5,689.2 Z" fill="#0033FF"/>
<rect x="980" y="651.4" width="10" height="37.8" fill="url(#gl577)"/>
<g filter="url(#bl)"><rect x="1048.5" y="651.4" width="8.5" height="37.8" fill="url(#gr577)"/></g>
<path d="M978.6,689.2 L980.3,657.4 Q980.8,645.0 992,645.0 L1046,645.0 Q1057.5,645.0 1057.5,657.4 L1057.5,689.2 Z" fill="none" stroke="#000" stroke-width="1.3"/>
<path d="M973,688.6 L981,688.6 M1056,688.6 L1064,688.6" stroke="#000" stroke-width="2.2"/>
<rect x="990.0" y="646.0" width="58.5" height="42.2" fill="#3A00FF"/>
<rect x="990.0" y="646.0" width="58.5" height="42.2" fill="url(#h1)" stroke="#000" stroke-width="1.2"/>
<line x1="76.2" y1="688.8" x2="1242.0" y2="688.8" stroke="#000" stroke-width="1.8"/>
<path d="M76.2,584.8 L1242.0,584.8 L1242.0,689.2" fill="none" stroke="#8a8a8a" stroke-width="1.8"/>
<line x1="76.2" y1="584.8" x2="76.2" y2="689.2" stroke="#8a8a8a" stroke-width="1.8"/>
<line x1="1242.3" y1="689.2" x2="1242.3" y2="1106.9" stroke="#c8d8c8" stroke-width="0.9"/>
<line x1="75.8" y1="689.2" x2="75.8" y2="1106.9" stroke="#8a8a8a" stroke-width="0.9"/>
<line x1="50.5" y1="584.8" x2="76.2" y2="584.8" stroke="#3a3a3a" stroke-width="2.3"/>
<text x="47.8" y="594.4" font-size="18.0" text-anchor="end" fill="#222" textLength="32.5" lengthAdjust="spacingAndGlyphs" stroke="#222" stroke-width="0.40" >-0.5</text>
<line x1="63.8" y1="605.7" x2="76.2" y2="605.7" stroke="#777" stroke-width="1.7"/>
<line x1="63.8" y1="626.6" x2="76.2" y2="626.6" stroke="#777" stroke-width="1.7"/>
<line x1="63.8" y1="647.5" x2="76.2" y2="647.5" stroke="#777" stroke-width="1.7"/>
<line x1="63.8" y1="668.3" x2="76.2" y2="668.3" stroke="#777" stroke-width="1.7"/>
<line x1="50.5" y1="689.2" x2="76.2" y2="689.2" stroke="#3a3a3a" stroke-width="2.3"/>
<text x="47.8" y="698.8" font-size="18.0" text-anchor="end" fill="#222" textLength="26.5" lengthAdjust="spacingAndGlyphs" stroke="#222" stroke-width="0.40" >0.0</text>
<line x1="63.8" y1="710.1" x2="76.2" y2="710.1" stroke="#777" stroke-width="1.7"/>
<line x1="63.8" y1="731.0" x2="76.2" y2="731.0" stroke="#777" stroke-width="1.7"/>
<line x1="63.8" y1="751.9" x2="76.2" y2="751.9" stroke="#777" stroke-width="1.7"/>
<line x1="63.8" y1="772.8" x2="76.2" y2="772.8" stroke="#777" stroke-width="1.7"/>
<line x1="50.5" y1="793.6" x2="76.2" y2="793.6" stroke="#3a3a3a" stroke-width="2.3"/>
<text x="47.8" y="803.2" font-size="18.0" text-anchor="end" fill="#222" textLength="26.5" lengthAdjust="spacingAndGlyphs" stroke="#222" stroke-width="0.40" >0.5</text>
<line x1="63.8" y1="814.5" x2="76.2" y2="814.5" stroke="#777" stroke-width="1.7"/>
<line x1="63.8" y1="835.4" x2="76.2" y2="835.4" stroke="#777" stroke-width="1.7"/>
<line x1="63.8" y1="856.3" x2="76.2" y2="856.3" stroke="#777" stroke-width="1.7"/>
<line x1="63.8" y1="877.2" x2="76.2" y2="877.2" stroke="#777" stroke-width="1.7"/>
<line x1="50.5" y1="898.1" x2="76.2" y2="898.1" stroke="#3a3a3a" stroke-width="2.3"/>
<text x="47.8" y="907.7" font-size="18.0" text-anchor="end" fill="#222" textLength="26.5" lengthAdjust="spacingAndGlyphs" stroke="#222" stroke-width="0.40" >1.0</text>
<line x1="63.8" y1="919.0" x2="76.2" y2="919.0" stroke="#777" stroke-width="1.7"/>
<line x1="63.8" y1="939.8" x2="76.2" y2="939.8" stroke="#777" stroke-width="1.7"/>
<line x1="63.8" y1="960.7" x2="76.2" y2="960.7" stroke="#777" stroke-width="1.7"/>
<line x1="63.8" y1="981.6" x2="76.2" y2="981.6" stroke="#777" stroke-width="1.7"/>
<line x1="50.5" y1="1002.5" x2="76.2" y2="1002.5" stroke="#3a3a3a" stroke-width="2.3"/>
<text x="47.8" y="1012.1" font-size="18.0" text-anchor="end" fill="#222" textLength="26.5" lengthAdjust="spacingAndGlyphs" stroke="#222" stroke-width="0.40" >1.5</text>
<line x1="63.8" y1="1023.4" x2="76.2" y2="1023.4" stroke="#777" stroke-width="1.7"/>
<line x1="63.8" y1="1044.3" x2="76.2" y2="1044.3" stroke="#777" stroke-width="1.7"/>
<line x1="63.8" y1="1065.2" x2="76.2" y2="1065.2" stroke="#777" stroke-width="1.7"/>
<line x1="63.8" y1="1086.0" x2="76.2" y2="1086.0" stroke="#777" stroke-width="1.7"/>
<line x1="50.5" y1="1106.9" x2="76.2" y2="1106.9" stroke="#3a3a3a" stroke-width="2.3"/>
<text x="47.8" y="1116.5" font-size="18.0" text-anchor="end" fill="#222" textLength="26.5" lengthAdjust="spacingAndGlyphs" stroke="#222" stroke-width="0.40" >2.0</text>
<line x1="76.2" y1="1106.9" x2="76.2" y2="1116.4" stroke="#333" stroke-width="2.2"/>
<text x="76.2" y="1140.4" font-size="18.0" text-anchor="middle" fill="#222" textLength="10.5" lengthAdjust="spacingAndGlyphs" stroke="#222" stroke-width="0.40" >0</text>
<line x1="124.8" y1="1106.9" x2="124.8" y2="1111.9" stroke="#777" stroke-width="1.7"/>
<line x1="173.4" y1="1106.9" x2="173.4" y2="1111.9" stroke="#777" stroke-width="1.7"/>
<line x1="221.9" y1="1106.9" x2="221.9" y2="1111.9" stroke="#777" stroke-width="1.7"/>
<line x1="270.5" y1="1106.9" x2="270.5" y2="1116.4" stroke="#333" stroke-width="2.2"/>
<text x="270.5" y="1140.4" font-size="18.0" text-anchor="middle" fill="#222" textLength="10.5" lengthAdjust="spacingAndGlyphs" stroke="#222" stroke-width="0.40" >2</text>
<line x1="319.1" y1="1106.9" x2="319.1" y2="1111.9" stroke="#777" stroke-width="1.7"/>
<line x1="367.7" y1="1106.9" x2="367.7" y2="1111.9" stroke="#777" stroke-width="1.7"/>
<line x1="416.2" y1="1106.9" x2="416.2" y2="1111.9" stroke="#777" stroke-width="1.7"/>
<line x1="464.8" y1="1106.9" x2="464.8" y2="1116.4" stroke="#333" stroke-width="2.2"/>
<text x="464.8" y="1140.4" font-size="18.0" text-anchor="middle" fill="#222" textLength="10.5" lengthAdjust="spacingAndGlyphs" stroke="#222" stroke-width="0.40" >4</text>
<line x1="513.4" y1="1106.9" x2="513.4" y2="1111.9" stroke="#777" stroke-width="1.7"/>
<line x1="562.0" y1="1106.9" x2="562.0" y2="1111.9" stroke="#777" stroke-width="1.7"/>
<line x1="610.5" y1="1106.9" x2="610.5" y2="1111.9" stroke="#777" stroke-width="1.7"/>
<line x1="659.1" y1="1106.9" x2="659.1" y2="1116.4" stroke="#333" stroke-width="2.2"/>
<text x="659.1" y="1140.4" font-size="18.0" text-anchor="middle" fill="#222" textLength="10.5" lengthAdjust="spacingAndGlyphs" stroke="#222" stroke-width="0.40" >6</text>
<line x1="707.7" y1="1106.9" x2="707.7" y2="1111.9" stroke="#777" stroke-width="1.7"/>
<line x1="756.3" y1="1106.9" x2="756.3" y2="1111.9" stroke="#777" stroke-width="1.7"/>
<line x1="804.8" y1="1106.9" x2="804.8" y2="1111.9" stroke="#777" stroke-width="1.7"/>
<line x1="853.4" y1="1106.9" x2="853.4" y2="1116.4" stroke="#333" stroke-width="2.2"/>
<text x="853.4" y="1140.4" font-size="18.0" text-anchor="middle" fill="#222" textLength="10.5" lengthAdjust="spacingAndGlyphs" stroke="#222" stroke-width="0.40" >8</text>
<line x1="902.0" y1="1106.9" x2="902.0" y2="1111.9" stroke="#777" stroke-width="1.7"/>
<line x1="950.6" y1="1106.9" x2="950.6" y2="1111.9" stroke="#777" stroke-width="1.7"/>
<line x1="999.1" y1="1106.9" x2="999.1" y2="1111.9" stroke="#777" stroke-width="1.7"/>
<line x1="1047.7" y1="1106.9" x2="1047.7" y2="1116.4" stroke="#333" stroke-width="2.2"/>
<text x="1047.7" y="1140.4" font-size="18.0" text-anchor="middle" fill="#222" textLength="21.0" lengthAdjust="spacingAndGlyphs" stroke="#222" stroke-width="0.40" >10</text>
<line x1="1096.3" y1="1106.9" x2="1096.3" y2="1111.9" stroke="#777" stroke-width="1.7"/>
<line x1="1144.9" y1="1106.9" x2="1144.9" y2="1111.9" stroke="#777" stroke-width="1.7"/>
<line x1="1193.4" y1="1106.9" x2="1193.4" y2="1111.9" stroke="#777" stroke-width="1.7"/>
<line x1="1242.0" y1="1106.9" x2="1242.0" y2="1116.4" stroke="#333" stroke-width="2.2"/>
<text x="1242.0" y="1140.4" font-size="18.0" text-anchor="middle" fill="#222" textLength="21.0" lengthAdjust="spacingAndGlyphs" stroke="#222" stroke-width="0.40" >12</text>
<text transform="translate(17.2,849.4) rotate(-90)" font-size="23.5" text-anchor="middle" textLength="36" lengthAdjust="spacingAndGlyphs" fill="#111" stroke="#111" stroke-width="0.3">µm</text>
<text x="244.5" y="614.6" font-size="23.0" text-anchor="middle" fill="#000" textLength="66.5" lengthAdjust="spacingAndGlyphs" stroke="#000" stroke-width="0.42" >p-well</text>
<text x="244.8" y="646.6" font-size="23.0" text-anchor="middle" fill="#000" textLength="80.5" lengthAdjust="spacingAndGlyphs" stroke="#000" stroke-width="0.42" >contact</text>
<text x="664.7" y="655.9" font-size="30.5" text-anchor="middle" fill="#000" textLength="38.5" lengthAdjust="spacingAndGlyphs" stroke="#000" stroke-width="0.42" >(b)</text>
<text x="1011.7" y="634.4" font-size="23.0" text-anchor="middle" fill="#000" textLength="27.5" lengthAdjust="spacingAndGlyphs" stroke="#000" stroke-width="0.42" >TG</text>
<text x="1098.0" y="615.0" font-size="23.0" text-anchor="middle" fill="#000" textLength="62.0" lengthAdjust="spacingAndGlyphs" stroke="#000" stroke-width="0.42" >Sense</text>
<text x="1097.5" y="647.2" font-size="23.0" text-anchor="middle" fill="#000" textLength="52.0" lengthAdjust="spacingAndGlyphs" stroke="#000" stroke-width="0.42" >node</text>
<text x="1196.0" y="611.9" font-size="23.0" text-anchor="middle" fill="#000" textLength="66.5" lengthAdjust="spacingAndGlyphs" stroke="#000" stroke-width="0.42" >p-well</text>
<text x="1196.5" y="643.9" font-size="23.0" text-anchor="middle" fill="#000" textLength="80.5" lengthAdjust="spacingAndGlyphs" stroke="#000" stroke-width="0.42" >contact</text>
<rect x="143" y="749.4" width="97.5" height="45.5" fill="#fff"/>
<text x="191.8" y="781.2" font-size="23.0" text-anchor="middle" fill="#000" textLength="66.5" lengthAdjust="spacingAndGlyphs" stroke="#000" stroke-width="0.42" >p-well</text>
<rect x="1122.2" y="749.6" width="98.2" height="45.7" fill="#fff"/>
<text x="1169.6" y="781.0" font-size="23.0" text-anchor="middle" fill="#000" textLength="66.5" lengthAdjust="spacingAndGlyphs" stroke="#000" stroke-width="0.42" >p-well</text>
<rect x="92.3" y="828.9" width="179.5" height="265.5" fill="#fff"/>
<text x="180.0" y="869.7" font-size="23.0" text-anchor="middle" fill="#000" textLength="137.0" lengthAdjust="spacingAndGlyphs" stroke="#000" stroke-width="0.42" >Potential (V)</text>
<rect x="113.2" y="893.70" width="54" height="6.48" fill="hsl(0.0,100%,50%)"/>
<rect x="113.2" y="899.88" width="54" height="6.48" fill="hsl(10.7,100%,50%)"/>
<rect x="113.2" y="906.07" width="54" height="6.48" fill="hsl(21.4,100%,50%)"/>
<rect x="113.2" y="912.25" width="54" height="6.48" fill="hsl(32.1,100%,50%)"/>
<rect x="113.2" y="918.43" width="54" height="6.48" fill="hsl(42.9,100%,50%)"/>
<rect x="113.2" y="924.61" width="54" height="6.48" fill="hsl(53.6,100%,50%)"/>
<rect x="113.2" y="930.80" width="54" height="6.48" fill="hsl(64.3,100%,50%)"/>
<rect x="113.2" y="936.98" width="54" height="6.48" fill="hsl(75.0,100%,50%)"/>
<rect x="113.2" y="943.16" width="54" height="6.48" fill="hsl(85.7,100%,50%)"/>
<rect x="113.2" y="949.34" width="54" height="6.48" fill="hsl(96.4,100%,50%)"/>
<rect x="113.2" y="955.53" width="54" height="6.48" fill="hsl(107.1,100%,50%)"/>
<rect x="113.2" y="961.71" width="54" height="6.48" fill="hsl(117.9,100%,50%)"/>
<rect x="113.2" y="967.89" width="54" height="6.48" fill="hsl(128.6,100%,50%)"/>
<rect x="113.2" y="974.08" width="54" height="6.48" fill="hsl(139.3,100%,50%)"/>
<rect x="113.2" y="980.26" width="54" height="6.48" fill="hsl(150.0,100%,50%)"/>
<rect x="113.2" y="986.44" width="54" height="6.48" fill="hsl(160.7,100%,50%)"/>
<rect x="113.2" y="992.62" width="54" height="6.48" fill="hsl(171.4,100%,50%)"/>
<rect x="113.2" y="998.81" width="54" height="6.48" fill="hsl(182.1,100%,50%)"/>
<rect x="113.2" y="1004.99" width="54" height="6.48" fill="hsl(192.9,100%,50%)"/>
<rect x="113.2" y="1011.17" width="54" height="6.48" fill="hsl(203.6,100%,50%)"/>
<rect x="113.2" y="1017.36" width="54" height="6.48" fill="hsl(214.3,100%,50%)"/>
<rect x="113.2" y="1023.54" width="54" height="6.48" fill="hsl(225.0,100%,50%)"/>
<rect x="113.2" y="1029.72" width="54" height="6.48" fill="hsl(235.7,100%,50%)"/>
<rect x="113.2" y="1035.90" width="54" height="6.48" fill="hsl(246.4,100%,50%)"/>
<rect x="113.2" y="1042.09" width="54" height="6.48" fill="hsl(257.1,100%,50%)"/>
<rect x="113.2" y="1048.27" width="54" height="6.48" fill="hsl(267.9,100%,50%)"/>
<rect x="113.2" y="1054.45" width="54" height="6.48" fill="hsl(278.6,100%,50%)"/>
<rect x="113.2" y="1060.63" width="54" height="6.48" fill="hsl(289.3,100%,50%)"/>
<rect x="113.2" y="1066.82" width="54" height="6.48" fill="hsl(300.0,100%,50%)"/>
<rect x="113.2" y="892.55" width="54" height="2.3" fill="#000" fill-opacity="0.42"/>
<rect x="113.2" y="898.73" width="54" height="2.3" fill="#000" fill-opacity="0.42"/>
<rect x="113.2" y="904.92" width="54" height="2.3" fill="#000" fill-opacity="0.42"/>
<rect x="113.2" y="911.10" width="54" height="2.3" fill="#000" fill-opacity="0.42"/>
<rect x="113.2" y="917.28" width="54" height="2.3" fill="#000" fill-opacity="0.42"/>
<rect x="113.2" y="923.46" width="54" height="2.3" fill="#000" fill-opacity="0.42"/>
<rect x="113.2" y="929.65" width="54" height="2.3" fill="#000" fill-opacity="0.42"/>
<rect x="113.2" y="935.83" width="54" height="2.3" fill="#000" fill-opacity="0.42"/>
<rect x="113.2" y="942.01" width="54" height="2.3" fill="#000" fill-opacity="0.42"/>
<rect x="113.2" y="948.19" width="54" height="2.3" fill="#000" fill-opacity="0.42"/>
<rect x="113.2" y="954.38" width="54" height="2.3" fill="#000" fill-opacity="0.42"/>
<rect x="113.2" y="960.56" width="54" height="2.3" fill="#000" fill-opacity="0.42"/>
<rect x="113.2" y="966.74" width="54" height="2.3" fill="#000" fill-opacity="0.42"/>
<rect x="113.2" y="972.93" width="54" height="2.3" fill="#000" fill-opacity="0.42"/>
<rect x="113.2" y="979.11" width="54" height="2.3" fill="#000" fill-opacity="0.42"/>
<rect x="113.2" y="985.29" width="54" height="2.3" fill="#000" fill-opacity="0.42"/>
<rect x="113.2" y="991.47" width="54" height="2.3" fill="#000" fill-opacity="0.42"/>
<rect x="113.2" y="997.66" width="54" height="2.3" fill="#000" fill-opacity="0.42"/>
<rect x="113.2" y="1003.84" width="54" height="2.3" fill="#000" fill-opacity="0.42"/>
<rect x="113.2" y="1010.02" width="54" height="2.3" fill="#000" fill-opacity="0.42"/>
<rect x="113.2" y="1016.21" width="54" height="2.3" fill="#000" fill-opacity="0.42"/>
<rect x="113.2" y="1022.39" width="54" height="2.3" fill="#000" fill-opacity="0.42"/>
<rect x="113.2" y="1028.57" width="54" height="2.3" fill="#000" fill-opacity="0.42"/>
<rect x="113.2" y="1034.75" width="54" height="2.3" fill="#000" fill-opacity="0.42"/>
<rect x="113.2" y="1040.94" width="54" height="2.3" fill="#000" fill-opacity="0.42"/>
<rect x="113.2" y="1047.12" width="54" height="2.3" fill="#000" fill-opacity="0.42"/>
<rect x="113.2" y="1053.30" width="54" height="2.3" fill="#000" fill-opacity="0.42"/>
<rect x="113.2" y="1059.48" width="54" height="2.3" fill="#000" fill-opacity="0.42"/>
<rect x="113.2" y="1065.67" width="54" height="2.3" fill="#000" fill-opacity="0.42"/>
<rect x="113.2" y="1071.85" width="54" height="2.3" fill="#000" fill-opacity="0.42"/>
<text x="222.0" y="910.4" font-size="23.0" text-anchor="end" fill="#000" textLength="34.5" lengthAdjust="spacingAndGlyphs" stroke="#000" stroke-width="0.42" >4.0</text>
<text x="222.0" y="942.8" font-size="23.0" text-anchor="end" fill="#000" textLength="34.5" lengthAdjust="spacingAndGlyphs" stroke="#000" stroke-width="0.42" >3.0</text>
<text x="222.0" y="975.2" font-size="23.0" text-anchor="end" fill="#000" textLength="34.5" lengthAdjust="spacingAndGlyphs" stroke="#000" stroke-width="0.42" >2.0</text>
<text x="222.0" y="1007.6" font-size="23.0" text-anchor="end" fill="#000" textLength="34.5" lengthAdjust="spacingAndGlyphs" stroke="#000" stroke-width="0.42" >1.0</text>
<text x="222.0" y="1040.0" font-size="23.0" text-anchor="end" fill="#000" textLength="34.5" lengthAdjust="spacingAndGlyphs" stroke="#000" stroke-width="0.42" >0.0</text>
<text x="222.0" y="1072.4" font-size="23.0" text-anchor="end" fill="#000" textLength="43.0" lengthAdjust="spacingAndGlyphs" stroke="#000" stroke-width="0.42" >-1.0</text>
<g clip-path="url(#cpc)"><g filter="url(#bl)">
<path d="M357.3,1337.0L357.9,1332.3L359.6,1327.9L362.4,1323.9L366.3,1320.1L371.1,1316.8L376.7,1314.0L383.3,1311.7L390.6,1310.0L398.6,1309.0L407.3,1308.6L955.3,1308.6L961.0,1309.0L966.0,1310.0L970.5,1311.7L974.4,1314.0L977.7,1317.0L980.4,1320.4L982.6,1324.4L984.1,1328.8L985.0,1333.7L985.3,1339.0L984.2,1353.7L980.7,1367.3L974.8,1379.7L966.5,1390.8L955.6,1400.4L942.1,1408.5L925.9,1415.0L906.9,1419.8L885.1,1422.7L860.3,1423.7L557.3,1423.7L512.8,1422.9L475.1,1420.5L443.5,1416.4L417.8,1410.7L397.3,1403.1L381.6,1393.7L370.3,1382.5L362.7,1369.3L358.6,1354.2L357.3,1337.0Z" fill="hsl(285.0,100%,50%)" />
<path d="M357.7,1337.1L358.3,1332.5L360.1,1328.1L362.9,1324.1L366.7,1320.4L371.6,1317.1L377.3,1314.3L383.8,1312.0L391.2,1310.4L399.2,1309.3L408.0,1308.9L954.6,1308.9L960.3,1309.3L965.4,1310.3L969.9,1312.0L973.9,1314.3L977.2,1317.2L980.0,1320.7L982.1,1324.6L983.6,1329.0L984.5,1333.8L984.9,1339.1L983.7,1353.6L980.3,1367.1L974.4,1379.3L966.1,1390.3L955.2,1399.8L941.8,1407.8L925.6,1414.2L906.6,1418.9L884.9,1421.8L860.2,1422.8L557.0,1422.8L512.7,1422.0L475.0,1419.7L443.7,1415.6L418.0,1409.9L397.6,1402.5L382.0,1393.2L370.7,1382.1L363.2,1369.1L359.0,1354.1L357.7,1337.1Z" fill="hsl(280.7,100%,50%)" />
<path d="M358.2,1337.2L358.8,1332.6L360.5,1328.3L363.4,1324.3L367.2,1320.6L372.1,1317.4L377.8,1314.6L384.4,1312.4L391.8,1310.7L399.9,1309.6L408.6,1309.3L953.9,1309.3L959.6,1309.6L964.8,1310.7L969.4,1312.4L973.3,1314.6L976.7,1317.5L979.5,1320.9L981.6,1324.8L983.2,1329.2L984.1,1334.0L984.4,1339.2L983.3,1353.6L979.8,1366.8L974.0,1378.9L965.7,1389.7L954.9,1399.2L941.4,1407.1L925.3,1413.4L906.4,1418.1L884.7,1420.9L860.0,1421.9L556.6,1421.9L512.5,1421.2L475.0,1418.8L443.8,1414.8L418.2,1409.2L397.9,1401.8L382.3,1392.6L371.1,1381.7L363.6,1368.8L359.5,1354.0L358.2,1337.2Z" fill="hsl(276.3,100%,50%)" />
<path d="M358.6,1337.3L359.2,1332.8L361.0,1328.5L363.8,1324.5L367.7,1320.9L372.6,1317.7L378.3,1314.9L385.0,1312.7L392.4,1311.0L400.5,1310.0L409.3,1309.6L953.2,1309.6L959.0,1310.0L964.2,1311.0L968.8,1312.7L972.8,1314.9L976.2,1317.8L979.0,1321.1L981.2,1325.0L982.7,1329.3L983.6,1334.1L984.0,1339.3L982.8,1353.5L979.4,1366.6L973.6,1378.6L965.3,1389.2L954.5,1398.5L941.1,1406.4L925.0,1412.6L906.1,1417.2L884.5,1420.1L859.9,1421.0L556.3,1421.0L512.3,1420.3L475.0,1418.0L443.9,1414.0L418.4,1408.4L398.2,1401.1L382.7,1392.1L371.5,1381.2L364.0,1368.5L359.9,1353.9L358.6,1337.3Z" fill="hsl(272.0,100%,50%)" />
<path d="M359.1,1337.4L359.7,1332.9L361.5,1328.7L364.3,1324.7L368.2,1321.1L373.1,1317.9L378.9,1315.2L385.5,1313.0L393.0,1311.4L401.1,1310.3L410.0,1310.0L952.5,1310.0L958.3,1310.3L963.6,1311.3L968.2,1313.0L972.3,1315.2L975.7,1318.1L978.5,1321.4L980.7,1325.2L982.3,1329.5L983.2,1334.2L983.5,1339.3L982.4,1353.4L979.0,1366.4L973.2,1378.2L964.9,1388.7L954.1,1397.9L940.7,1405.7L924.7,1411.9L905.9,1416.4L884.3,1419.2L859.7,1420.1L556.0,1420.1L512.2,1419.4L475.0,1417.1L444.0,1413.2L418.6,1407.7L398.5,1400.5L383.0,1391.6L371.9,1380.8L364.5,1368.3L360.4,1353.8L359.1,1337.4Z" fill="hsl(267.6,100%,50%)" />
<path d="M359.5,1337.5L360.1,1333.1L361.9,1328.8L364.8,1324.9L368.7,1321.4L373.6,1318.2L379.4,1315.5L386.1,1313.3L393.5,1311.7L401.8,1310.7L410.6,1310.3L951.8,1310.3L957.7,1310.7L963.0,1311.7L967.6,1313.3L971.7,1315.5L975.2,1318.3L978.0,1321.6L980.2,1325.4L981.8,1329.7L982.8,1334.4L983.1,1339.4L981.9,1353.3L978.5,1366.1L972.7,1377.8L964.5,1388.2L953.7,1397.3L940.4,1405.0L924.4,1411.1L905.6,1415.6L884.1,1418.3L859.6,1419.3L555.6,1419.3L512.0,1418.5L475.0,1416.2L444.1,1412.4L418.8,1407.0L398.8,1399.8L383.4,1391.0L372.3,1380.4L364.9,1368.0L360.8,1353.7L359.5,1337.5Z" fill="hsl(263.3,100%,50%)" />
<path d="M360.0,1337.6L360.6,1333.2L362.4,1329.0L365.3,1325.1L369.2,1321.6L374.1,1318.5L379.9,1315.8L386.6,1313.6L394.1,1312.0L402.4,1311.0L411.3,1310.7L951.1,1310.7L957.0,1311.0L962.3,1312.0L967.1,1313.6L971.2,1315.8L974.7,1318.6L977.5,1321.9L979.7,1325.6L981.3,1329.9L982.3,1334.5L982.6,1339.5L981.5,1353.2L978.1,1365.9L972.3,1377.4L964.1,1387.7L953.4,1396.7L940.1,1404.2L924.1,1410.3L905.4,1414.7L883.9,1417.4L859.5,1418.4L555.3,1418.4L511.9,1417.6L475.0,1415.4L444.2,1411.6L419.1,1406.2L399.1,1399.2L383.7,1390.5L372.7,1380.0L365.3,1367.7L361.2,1353.6L360.0,1337.6Z" fill="hsl(258.9,100%,50%)" />
<path d="M360.5,1337.7L361.1,1333.3L362.9,1329.2L365.8,1325.4L369.7,1321.9L374.6,1318.8L380.5,1316.1L387.2,1314.0L394.8,1312.4L403.0,1311.4L412.0,1311.0L950.3,1311.0L956.3,1311.4L961.7,1312.4L966.5,1314.0L970.6,1316.1L974.1,1318.9L977.0,1322.1L979.2,1325.9L980.9,1330.0L981.8,1334.6L982.2,1339.6L981.0,1353.1L977.6,1365.6L971.9,1377.0L963.7,1387.2L953.0,1396.0L939.7,1403.5L923.8,1409.4L905.1,1413.8L883.6,1416.5L859.3,1417.4L555.0,1417.4L511.7,1416.7L475.0,1414.5L444.3,1410.7L419.3,1405.4L399.4,1398.5L384.1,1389.9L373.1,1379.5L365.8,1367.4L361.7,1353.5L360.5,1337.7Z" fill="hsl(254.6,100%,50%)" />
<path d="M361.2,1337.9L361.8,1333.6L363.6,1329.5L366.5,1325.7L370.5,1322.3L375.5,1319.2L381.4,1316.6L388.2,1314.5L395.8,1312.9L404.1,1312.0L413.1,1311.6L949.1,1311.6L955.2,1311.9L960.7,1312.9L965.5,1314.5L969.7,1316.7L973.3,1319.4L976.2,1322.6L978.5,1326.2L980.1,1330.3L981.1,1334.9L981.4,1339.7L980.3,1353.0L976.9,1365.2L971.2,1376.3L963.0,1386.3L952.4,1394.9L939.1,1402.2L923.3,1408.0L904.7,1412.3L883.3,1414.9L859.1,1415.8L554.4,1415.8L511.4,1415.1L475.0,1413.0L444.5,1409.3L419.6,1404.1L399.9,1397.3L384.7,1388.9L373.7,1378.8L366.5,1367.0L362.5,1353.3L361.2,1337.9Z" fill="hsl(250.2,100%,50%)" />
<path d="M362.0,1338.1L362.6,1333.8L364.4,1329.8L367.3,1326.1L371.3,1322.7L376.3,1319.7L382.3,1317.1L389.1,1315.1L396.8,1313.5L405.1,1312.5L414.2,1312.2L948.0,1312.2L954.1,1312.5L959.6,1313.5L964.5,1315.0L968.8,1317.2L972.4,1319.8L975.4,1323.0L977.7,1326.6L979.3,1330.6L980.3,1335.1L980.7,1339.9L979.6,1352.8L976.2,1364.8L970.5,1375.6L962.3,1385.3L951.7,1393.8L938.6,1400.9L922.8,1406.6L904.2,1410.8L883.0,1413.4L858.8,1414.3L553.8,1414.3L511.2,1413.6L474.9,1411.5L444.7,1407.9L420.0,1402.8L400.3,1396.2L385.3,1387.9L374.4,1378.0L367.2,1366.5L363.2,1353.2L362.0,1338.1Z" fill="hsl(245.9,100%,50%)" />
<path d="M362.7,1338.2L363.3,1334.1L365.2,1330.1L368.1,1326.5L372.1,1323.1L377.2,1320.2L383.2,1317.6L390.0,1315.6L397.7,1314.1L406.2,1313.1L415.3,1312.8L946.8,1312.8L953.0,1313.1L958.6,1314.1L963.6,1315.6L967.9,1317.7L971.6,1320.3L974.6,1323.4L976.9,1326.9L978.6,1330.9L979.6,1335.3L979.9,1340.0L978.8,1352.7L975.5,1364.3L969.8,1374.9L961.7,1384.4L951.1,1392.7L938.0,1399.7L922.3,1405.2L903.8,1409.3L882.6,1411.8L858.6,1412.7L553.3,1412.7L510.9,1412.0L474.9,1409.9L444.9,1406.4L420.3,1401.5L400.8,1395.0L385.9,1386.9L375.1,1377.3L367.9,1366.0L363.9,1353.0L362.7,1338.2Z" fill="hsl(241.6,100%,50%)" />
<path d="M363.6,1338.4L364.2,1334.3L366.0,1330.5L369.0,1326.9L373.1,1323.6L378.1,1320.7L384.2,1318.2L391.1,1316.2L398.9,1314.7L407.4,1313.8L416.6,1313.4L945.5,1313.4L951.8,1313.8L957.5,1314.7L962.5,1316.2L966.9,1318.2L970.6,1320.8L973.6,1323.8L976.0,1327.3L977.7,1331.2L978.7,1335.5L979.1,1340.2L978.0,1352.5L974.6,1363.9L969.0,1374.2L960.9,1383.4L950.4,1391.5L937.4,1398.3L921.7,1403.7L903.3,1407.7L882.2,1410.1L858.3,1411.0L552.7,1411.0L510.6,1410.3L474.9,1408.3L445.1,1404.9L420.7,1400.1L401.4,1393.7L386.6,1385.9L375.8,1376.5L368.7,1365.5L364.8,1352.8L363.6,1338.4Z" fill="hsl(237.2,100%,50%)" />
<path d="M364.5,1338.6L365.1,1334.6L366.9,1330.8L369.9,1327.3L374.0,1324.1L379.2,1321.2L385.2,1318.8L392.2,1316.8L400.0,1315.4L408.6,1314.4L417.9,1314.1L944.0,1314.1L950.5,1314.4L956.2,1315.4L961.4,1316.8L965.8,1318.8L969.6,1321.3L972.7,1324.3L975.1,1327.8L976.8,1331.6L977.8,1335.8L978.2,1340.4L977.1,1352.3L973.8,1363.4L968.1,1373.4L960.1,1382.4L949.7,1390.3L936.7,1396.9L921.1,1402.1L902.8,1406.0L881.8,1408.4L858.0,1409.2L552.0,1409.2L510.3,1408.5L474.9,1406.6L445.3,1403.3L421.2,1398.6L402.0,1392.4L387.3,1384.8L376.6,1375.7L369.6,1364.9L365.7,1352.6L364.5,1338.6Z" fill="hsl(232.9,100%,50%)" />
<path d="M365.4,1338.8L366.0,1334.9L367.9,1331.2L370.9,1327.7L375.0,1324.6L380.2,1321.8L386.3,1319.4L393.4,1317.5L401.2,1316.0L409.9,1315.1L419.3,1314.8L942.6,1314.8L949.2,1315.1L955.0,1316.0L960.2,1317.5L964.7,1319.4L968.5,1321.9L971.7,1324.8L974.1,1328.2L975.9,1331.9L977.0,1336.1L977.3,1340.5L976.2,1352.2L972.9,1362.9L967.3,1372.7L959.3,1381.4L948.9,1389.0L936.0,1395.4L920.5,1400.6L902.3,1404.3L881.4,1406.6L857.8,1407.4L551.3,1407.4L510.0,1406.8L474.9,1404.9L445.5,1401.7L421.6,1397.1L402.6,1391.1L388.0,1383.7L377.4,1374.8L370.4,1364.4L366.5,1352.4L365.4,1338.8Z" fill="hsl(228.5,100%,50%)" />
<path d="M366.1,1339.0L366.8,1335.1L368.7,1331.5L371.7,1328.1L375.9,1325.0L381.1,1322.3L387.2,1319.9L394.3,1318.0L402.3,1316.6L411.0,1315.7L420.4,1315.4L941.4,1315.4L948.0,1315.7L953.9,1316.6L959.2,1318.0L963.8,1320.0L967.7,1322.4L970.8,1325.2L973.3,1328.5L975.1,1332.2L976.2,1336.3L976.5,1340.7L975.4,1352.0L972.1,1362.5L966.6,1372.0L958.6,1380.5L948.3,1387.9L935.4,1394.2L920.0,1399.2L901.9,1402.8L881.1,1405.1L857.5,1405.9L550.7,1405.9L509.7,1405.3L474.8,1403.4L445.7,1400.3L422.0,1395.8L403.1,1390.0L388.6,1382.8L378.1,1374.1L371.2,1363.9L367.3,1352.3L366.1,1339.0Z" fill="hsl(224.2,100%,50%)" />
<path d="M366.4,1339.1L367.1,1335.2L369.0,1331.6L372.0,1328.3L376.2,1325.2L381.4,1322.5L387.6,1320.2L394.7,1318.3L402.7,1316.9L411.4,1316.0L420.9,1315.7L940.9,1315.7L947.6,1316.0L953.5,1316.9L958.8,1318.3L963.4,1320.2L967.3,1322.6L970.5,1325.4L973.0,1328.7L974.8,1332.4L975.9,1336.4L976.2,1340.7L975.1,1352.0L971.9,1362.3L966.3,1371.8L958.4,1380.2L948.0,1387.6L935.2,1393.8L919.8,1398.7L901.7,1402.3L881.0,1404.6L857.4,1405.3L550.5,1405.3L509.6,1404.7L474.8,1402.9L445.8,1399.8L422.1,1395.4L403.3,1389.6L388.8,1382.4L378.4,1373.9L371.5,1363.8L367.6,1352.2L366.4,1339.1Z" fill="hsl(219.8,100%,50%)" />
<path d="M366.7,1339.2L367.4,1335.3L369.3,1331.8L372.3,1328.4L376.5,1325.4L381.7,1322.7L388.0,1320.4L395.1,1318.5L403.1,1317.1L411.8,1316.3L421.3,1316.0L940.4,1316.0L947.1,1316.2L953.1,1317.1L958.4,1318.5L963.1,1320.4L967.0,1322.8L970.2,1325.6L972.7,1328.9L974.5,1332.5L975.6,1336.5L975.9,1340.8L974.8,1351.9L971.6,1362.2L966.0,1371.6L958.1,1379.9L947.8,1387.2L934.9,1393.3L919.6,1398.2L901.5,1401.8L880.8,1404.1L857.3,1404.8L550.3,1404.8L509.5,1404.2L474.8,1402.4L445.9,1399.3L422.3,1394.9L403.5,1389.2L389.1,1382.1L378.6,1373.6L371.7,1363.6L367.9,1352.2L366.7,1339.2Z" fill="hsl(215.5,100%,50%)" />
<path d="M367.0,1339.2L367.7,1335.4L369.6,1331.9L372.7,1328.6L376.8,1325.6L382.1,1322.9L388.3,1320.6L395.5,1318.7L403.5,1317.4L412.2,1316.5L421.8,1316.2L940.0,1316.2L946.7,1316.5L952.7,1317.4L958.1,1318.7L962.7,1320.6L966.6,1323.0L969.9,1325.8L972.4,1329.0L974.2,1332.6L975.3,1336.6L975.6,1340.8L974.6,1351.9L971.3,1362.1L965.7,1371.3L957.8,1379.6L947.5,1386.8L934.7,1392.9L919.4,1397.8L901.4,1401.3L880.7,1403.5L857.2,1404.3L550.1,1404.3L509.4,1403.7L474.8,1401.9L446.0,1398.8L422.4,1394.5L403.7,1388.8L389.3,1381.8L378.9,1373.4L372.0,1363.5L368.2,1352.1L367.0,1339.2Z" fill="hsl(211.2,100%,50%)" />
<path d="M367.3,1339.3L368.0,1335.5L369.9,1332.0L373.0,1328.7L377.2,1325.7L382.4,1323.1L388.7,1320.8L395.8,1319.0L403.9,1317.6L412.7,1316.8L422.2,1316.5L939.5,1316.5L946.3,1316.8L952.3,1317.6L957.7,1319.0L962.3,1320.9L966.3,1323.2L969.5,1326.0L972.1,1329.2L973.9,1332.7L975.0,1336.7L975.3,1340.9L974.3,1351.8L971.0,1361.9L965.4,1371.1L957.6,1379.3L947.3,1386.5L934.5,1392.5L919.2,1397.3L901.2,1400.8L880.5,1403.0L857.1,1403.8L549.9,1403.8L509.3,1403.2L474.8,1401.4L446.0,1398.4L422.5,1394.1L403.8,1388.5L389.5,1381.5L379.2,1373.1L372.3,1363.3L368.5,1352.1L367.3,1339.3Z" fill="hsl(206.8,100%,50%)" />
<path d="M367.6,1339.4L368.3,1335.6L370.2,1332.1L373.3,1328.9L377.5,1325.9L382.8,1323.3L389.0,1321.1L396.2,1319.2L404.3,1317.9L413.1,1317.0L422.6,1316.7L939.0,1316.7L945.8,1317.0L951.9,1317.9L957.3,1319.2L962.0,1321.1L965.9,1323.4L969.2,1326.2L971.8,1329.3L973.6,1332.9L974.7,1336.8L975.0,1341.0L974.0,1351.8L970.7,1361.8L965.2,1370.9L957.3,1379.0L947.0,1386.1L934.3,1392.1L919.0,1396.8L901.0,1400.3L880.4,1402.5L857.0,1403.2L549.6,1403.2L509.2,1402.7L474.8,1400.9L446.1,1397.9L422.7,1393.6L404.0,1388.1L389.8,1381.2L379.4,1372.9L372.6,1363.2L368.8,1352.0L367.6,1339.4Z" fill="hsl(202.5,100%,50%)" />
<path d="M367.9,1339.4L368.6,1335.7L370.5,1332.3L373.6,1329.0L377.8,1326.1L383.1,1323.5L389.4,1321.3L396.6,1319.5L404.6,1318.1L413.5,1317.3L423.1,1317.0L938.6,1317.0L945.4,1317.3L951.5,1318.1L956.9,1319.5L961.6,1321.3L965.6,1323.6L968.9,1326.3L971.4,1329.5L973.3,1333.0L974.4,1336.8L974.7,1341.0L973.7,1351.7L970.4,1361.6L964.9,1370.7L957.0,1378.7L946.8,1385.7L934.0,1391.7L918.8,1396.4L900.9,1399.8L880.3,1402.0L856.9,1402.7L549.4,1402.7L509.1,1402.1L474.8,1400.4L446.2,1397.4L422.8,1393.2L404.2,1387.7L390.0,1380.8L379.7,1372.6L372.9,1363.0L369.1,1352.0L367.9,1339.4Z" fill="hsl(198.1,100%,50%)" />
<path d="M368.2,1339.5L368.9,1335.8L370.8,1332.4L373.9,1329.2L378.1,1326.3L383.4,1323.7L389.7,1321.5L397.0,1319.7L405.0,1318.4L413.9,1317.5L423.5,1317.3L938.1,1317.3L944.9,1317.5L951.1,1318.4L956.5,1319.7L961.3,1321.5L965.3,1323.8L968.6,1326.5L971.1,1329.6L973.0,1333.1L974.1,1336.9L974.4,1341.1L973.4,1351.7L970.1,1361.5L964.6,1370.4L956.8,1378.4L946.5,1385.4L933.8,1391.2L918.6,1395.9L900.7,1399.3L880.1,1401.5L856.9,1402.2L549.2,1402.2L509.0,1401.6L474.8,1399.9L446.3,1396.9L423.0,1392.8L404.4,1387.3L390.2,1380.5L380.0,1372.4L373.2,1362.9L369.4,1351.9L368.2,1339.5Z" fill="hsl(193.8,100%,50%)" />
<path d="M368.5,1339.6L369.2,1335.9L371.1,1332.5L374.2,1329.4L378.5,1326.5L383.8,1323.9L390.1,1321.7L397.3,1320.0L405.4,1318.6L414.3,1317.8L424.0,1317.5L937.6,1317.5L944.5,1317.8L950.7,1318.6L956.1,1319.9L960.9,1321.8L964.9,1324.0L968.2,1326.7L970.8,1329.8L972.7,1333.2L973.8,1337.0L974.1,1341.1L973.1,1351.7L969.8,1361.4L964.3,1370.2L956.5,1378.1L946.3,1385.0L933.6,1390.8L918.4,1395.4L900.5,1398.8L880.0,1400.9L856.8,1401.7L549.0,1401.7L508.8,1401.1L474.8,1399.4L446.3,1396.5L423.1,1392.3L404.6,1386.9L390.5,1380.2L380.2,1372.1L373.4,1362.7L369.7,1351.9L368.5,1339.6Z" fill="hsl(189.4,100%,50%)" />
<path d="M368.8,1339.6L369.5,1336.0L371.4,1332.7L374.5,1329.5L378.8,1326.7L384.1,1324.1L390.4,1322.0L397.7,1320.2L405.8,1318.9L414.8,1318.1L424.4,1317.8L937.2,1317.8L944.1,1318.1L950.3,1318.9L955.8,1320.2L960.5,1322.0L964.6,1324.2L967.9,1326.9L970.5,1329.9L972.4,1333.4L973.5,1337.1L973.8,1341.2L972.8,1351.6L969.5,1361.2L964.0,1370.0L956.2,1377.8L946.0,1384.6L933.3,1390.4L918.2,1395.0L900.3,1398.3L879.9,1400.4L856.7,1401.1L548.8,1401.1L508.7,1400.6L474.8,1398.9L446.4,1396.0L423.2,1391.9L404.8,1386.5L390.7,1379.9L380.5,1371.9L373.7,1362.6L370.0,1351.8L368.8,1339.6Z" fill="hsl(185.1,100%,50%)" />
<path d="M369.1,1339.7L369.8,1336.1L371.7,1332.8L374.9,1329.7L379.1,1326.8L384.5,1324.3L390.8,1322.2L398.1,1320.4L406.2,1319.1L415.2,1318.3L424.9,1318.0L936.7,1318.0L943.6,1318.3L949.9,1319.1L955.4,1320.4L960.2,1322.2L964.2,1324.4L967.6,1327.1L970.2,1330.1L972.1,1333.5L973.2,1337.2L973.6,1341.2L972.5,1351.6L969.2,1361.1L963.8,1369.8L956.0,1377.5L945.8,1384.3L933.1,1390.0L917.9,1394.5L900.2,1397.8L879.7,1399.9L856.6,1400.6L548.5,1400.6L508.6,1400.0L474.8,1398.4L446.5,1395.5L423.4,1391.4L405.0,1386.1L391.0,1379.6L380.8,1371.7L374.0,1362.4L370.3,1351.8L369.1,1339.7Z" fill="hsl(180.8,100%,50%)" />
<path d="M369.6,1339.8L370.2,1336.3L372.2,1332.9L375.3,1329.8L379.6,1327.0L384.9,1324.5L391.3,1322.4L398.6,1320.7L406.8,1319.4L415.8,1318.6L425.5,1318.3L936.0,1318.3L943.0,1318.6L949.3,1319.4L954.8,1320.7L959.7,1322.4L963.8,1324.6L967.1,1327.2L969.7,1330.3L971.6,1333.6L972.8,1337.3L973.1,1341.3L972.1,1351.5L968.8,1360.9L963.4,1369.5L955.6,1377.1L945.4,1383.8L932.8,1389.4L917.7,1393.9L899.9,1397.1L879.6,1399.2L856.4,1399.9L548.2,1399.9L508.5,1399.3L474.8,1397.6L446.6,1394.8L423.6,1390.8L405.3,1385.6L391.3,1379.1L381.1,1371.3L374.4,1362.2L370.7,1351.7L369.6,1339.8Z" fill="hsl(176.4,100%,50%)" />
<path d="M370.0,1339.9L370.7,1336.4L372.6,1333.1L375.8,1330.0L380.1,1327.2L385.5,1324.7L391.8,1322.6L399.2,1320.9L407.4,1319.6L416.4,1318.8L426.2,1318.5L935.3,1318.5L942.4,1318.8L948.7,1319.6L954.3,1320.9L959.1,1322.6L963.2,1324.8L966.6,1327.4L969.3,1330.4L971.2,1333.8L972.3,1337.4L972.7,1341.4L971.6,1351.4L968.4,1360.7L962.9,1369.1L955.2,1376.7L945.0,1383.2L932.5,1388.7L917.4,1393.2L899.7,1396.4L879.3,1398.4L856.3,1399.1L547.9,1399.1L508.3,1398.5L474.7,1396.9L446.7,1394.1L423.8,1390.2L405.6,1385.0L391.6,1378.6L381.5,1370.9L374.8,1362.0L371.2,1351.6L370.0,1339.9Z" fill="hsl(172.1,100%,50%)" />
<path d="M370.5,1340.0L371.1,1336.5L373.1,1333.2L376.2,1330.2L380.6,1327.4L386.0,1324.9L392.4,1322.8L399.7,1321.1L408.0,1319.9L417.0,1319.1L426.8,1318.8L934.6,1318.8L941.7,1319.1L948.1,1319.8L953.7,1321.1L958.6,1322.9L962.7,1325.0L966.1,1327.6L968.8,1330.6L970.7,1333.9L971.9,1337.5L972.2,1341.5L971.2,1351.4L968.0,1360.5L962.5,1368.8L954.8,1376.2L944.7,1382.7L932.1,1388.1L917.1,1392.5L899.4,1395.6L879.1,1397.6L856.2,1398.3L547.6,1398.3L508.2,1397.7L474.7,1396.1L446.8,1393.4L424.0,1389.5L405.9,1384.4L392.0,1378.1L381.9,1370.6L375.3,1361.7L371.6,1351.5L370.5,1340.0Z" fill="hsl(167.7,100%,50%)" />
<path d="M370.9,1340.1L371.6,1336.6L373.5,1333.4L376.7,1330.3L381.0,1327.6L386.5,1325.1L392.9,1323.1L400.3,1321.4L408.6,1320.1L417.7,1319.3L427.5,1319.0L933.9,1319.0L941.0,1319.3L947.4,1320.1L953.1,1321.3L958.0,1323.1L962.2,1325.2L965.7,1327.8L968.3,1330.7L970.3,1334.0L971.4,1337.7L971.8,1341.6L970.7,1351.3L967.5,1360.3L962.1,1368.4L954.4,1375.8L944.3,1382.1L931.8,1387.5L916.8,1391.8L899.2,1394.9L878.9,1396.8L856.0,1397.5L547.2,1397.5L508.0,1397.0L474.7,1395.4L446.9,1392.7L424.2,1388.9L406.2,1383.9L392.3,1377.7L382.3,1370.2L375.7,1361.5L372.0,1351.5L370.9,1340.1Z" fill="hsl(163.4,100%,50%)" />
<path d="M371.4,1340.2L372.0,1336.8L374.0,1333.5L377.2,1330.5L381.5,1327.8L387.0,1325.3L393.4,1323.3L400.9,1321.6L409.2,1320.3L418.3,1319.5L428.2,1319.3L933.2,1319.3L940.4,1319.5L946.8,1320.3L952.5,1321.6L957.5,1323.3L961.7,1325.4L965.2,1328.0L967.9,1330.9L969.8,1334.2L971.0,1337.8L971.3,1341.7L970.3,1351.2L967.1,1360.1L961.7,1368.1L954.0,1375.3L943.9,1381.6L931.4,1386.8L916.5,1391.1L898.9,1394.1L878.7,1396.0L855.9,1396.7L546.9,1396.7L507.8,1396.2L474.7,1394.6L447.0,1392.0L424.4,1388.2L406.5,1383.3L392.7,1377.2L382.7,1369.8L376.1,1361.3L372.5,1351.4L371.4,1340.2Z" fill="hsl(159.0,100%,50%)" />
<path d="M371.8,1340.3L372.5,1336.9L374.5,1333.7L377.7,1330.7L382.0,1328.0L387.5,1325.6L394.0,1323.5L401.4,1321.8L409.8,1320.6L418.9,1319.8L428.8,1319.5L932.5,1319.5L939.7,1319.8L946.2,1320.6L952.0,1321.8L957.0,1323.5L961.2,1325.6L964.7,1328.2L967.4,1331.1L969.3,1334.3L970.5,1337.9L970.9,1341.8L969.9,1351.2L966.7,1359.9L961.3,1367.8L953.6,1374.9L943.5,1381.0L931.1,1386.2L916.2,1390.4L898.7,1393.4L878.5,1395.3L855.7,1395.9L546.6,1395.9L507.7,1395.4L474.7,1393.9L447.2,1391.3L424.7,1387.5L406.8,1382.7L393.1,1376.7L383.1,1369.5L376.6,1361.0L372.9,1351.3L371.8,1340.3Z" fill="hsl(154.7,100%,50%)" />
<path d="M372.3,1340.4L372.9,1337.0L374.9,1333.8L378.1,1330.9L382.5,1328.2L388.0,1325.8L394.5,1323.7L402.0,1322.0L410.4,1320.8L419.5,1320.0L429.5,1319.8L931.8,1319.8L939.1,1320.0L945.6,1320.8L951.4,1322.0L956.4,1323.7L960.7,1325.8L964.2,1328.3L966.9,1331.2L968.9,1334.5L970.1,1338.0L970.5,1341.8L969.4,1351.1L966.2,1359.7L960.8,1367.4L953.2,1374.4L943.2,1380.5L930.8,1385.6L915.9,1389.7L898.4,1392.6L878.3,1394.5L855.6,1395.1L546.2,1395.1L507.5,1394.6L474.7,1393.1L447.3,1390.5L424.9,1386.9L407.0,1382.1L393.4,1376.2L383.5,1369.1L377.0,1360.8L373.4,1351.3L372.3,1340.4Z" fill="hsl(150.3,100%,50%)" />
<path d="M372.8,1340.5L373.5,1337.2L375.4,1334.0L378.7,1331.1L383.1,1328.4L388.6,1326.0L395.1,1324.0L402.6,1322.4L411.0,1321.1L420.3,1320.4L430.3,1320.1L931.0,1320.1L938.3,1320.4L944.9,1321.1L950.7,1322.3L955.8,1324.0L960.1,1326.1L963.6,1328.6L966.4,1331.4L968.4,1334.6L969.5,1338.1L969.9,1341.9L968.9,1351.0L965.7,1359.4L960.4,1367.0L952.7,1373.8L942.7,1379.7L930.4,1384.7L915.5,1388.7L898.1,1391.6L878.1,1393.4L855.4,1394.1L545.8,1394.1L507.3,1393.6L474.7,1392.1L447.4,1389.6L425.1,1386.0L407.4,1381.3L393.8,1375.6L384.0,1368.6L377.5,1360.5L373.9,1351.1L372.8,1340.5Z" fill="hsl(146.0,100%,50%)" />
<path d="M373.3,1340.7L374.0,1337.3L376.0,1334.2L379.2,1331.3L383.6,1328.7L389.2,1326.3L395.7,1324.3L403.3,1322.7L411.7,1321.5L421.0,1320.7L431.0,1320.4L930.1,1320.4L937.5,1320.7L944.2,1321.4L950.1,1322.7L955.2,1324.3L959.5,1326.4L963.1,1328.8L965.8,1331.7L967.8,1334.8L969.0,1338.3L969.4,1342.0L968.4,1350.9L965.2,1359.1L959.9,1366.5L952.3,1373.2L942.3,1379.0L930.0,1383.8L915.2,1387.7L897.8,1390.6L877.9,1392.4L855.3,1393.0L545.4,1393.0L507.2,1392.5L474.7,1391.0L447.5,1388.6L425.4,1385.1L407.7,1380.5L394.2,1374.9L384.5,1368.1L378.0,1360.2L374.4,1351.0L373.3,1340.7Z" fill="hsl(141.7,100%,50%)" />
<path d="M373.8,1340.8L374.5,1337.5L376.5,1334.4L379.8,1331.5L384.2,1328.9L389.8,1326.6L396.4,1324.6L403.9,1323.0L412.4,1321.8L421.7,1321.0L431.8,1320.8L929.3,1320.8L936.8,1321.0L943.5,1321.8L949.4,1323.0L954.5,1324.6L958.9,1326.7L962.5,1329.1L965.3,1331.9L967.3,1335.0L968.5,1338.4L968.9,1342.1L967.9,1350.8L964.7,1358.8L959.4,1366.0L951.8,1372.5L941.9,1378.2L929.6,1383.0L914.8,1386.8L897.5,1389.6L877.6,1391.3L855.1,1391.9L545.1,1391.9L507.0,1391.4L474.6,1390.0L447.7,1387.6L425.6,1384.2L408.1,1379.7L394.6,1374.2L384.9,1367.6L378.5,1359.8L374.9,1350.9L373.8,1340.8Z" fill="hsl(137.3,100%,50%)" />
<path d="M374.3,1340.9L375.0,1337.6L377.1,1334.6L380.3,1331.7L384.8,1329.2L390.4,1326.9L397.0,1324.9L404.6,1323.3L413.1,1322.1L422.5,1321.4L432.6,1321.1L928.5,1321.1L936.0,1321.4L942.8,1322.1L948.7,1323.3L953.9,1324.9L958.3,1326.9L961.9,1329.3L964.7,1332.1L966.8,1335.2L968.0,1338.6L968.4,1342.2L967.4,1350.7L964.2,1358.5L958.9,1365.6L951.3,1371.9L941.4,1377.4L929.2,1382.1L914.5,1385.8L897.2,1388.5L877.4,1390.2L854.9,1390.8L544.7,1390.8L506.8,1390.3L474.6,1389.0L447.8,1386.6L425.9,1383.3L408.4,1378.9L395.1,1373.5L385.4,1367.1L379.0,1359.5L375.4,1350.8L374.3,1340.9Z" fill="hsl(133.0,100%,50%)" />
<path d="M374.9,1341.0L375.6,1337.8L377.6,1334.8L380.9,1332.0L385.4,1329.4L391.0,1327.1L397.6,1325.2L405.3,1323.6L413.8,1322.5L423.2,1321.7L433.4,1321.5L927.7,1321.5L935.2,1321.7L942.0,1322.4L948.1,1323.6L953.3,1325.2L957.7,1327.2L961.4,1329.6L964.2,1332.3L966.2,1335.4L967.5,1338.7L967.9,1342.3L966.8,1350.6L963.7,1358.2L958.4,1365.1L950.9,1371.3L941.0,1376.7L928.8,1381.2L914.1,1384.8L896.9,1387.5L877.2,1389.2L854.8,1389.7L544.3,1389.7L506.6,1389.3L474.6,1387.9L447.9,1385.6L426.1,1382.4L408.8,1378.1L395.5,1372.9L385.8,1366.6L379.5,1359.2L376.0,1350.7L374.9,1341.0Z" fill="hsl(128.6,100%,50%)" />
<path d="M375.4,1341.1L376.1,1338.0L378.1,1335.0L381.4,1332.2L385.9,1329.7L391.6,1327.4L398.2,1325.5L405.9,1323.9L414.5,1322.8L423.9,1322.1L434.1,1321.8L926.8,1321.8L934.5,1322.1L941.3,1322.8L947.4,1323.9L952.6,1325.5L957.1,1327.5L960.8,1329.8L963.6,1332.5L965.7,1335.5L966.9,1338.8L967.3,1342.4L966.3,1350.5L963.2,1357.9L957.9,1364.6L950.4,1370.7L940.6,1375.9L928.4,1380.3L913.8,1383.9L896.6,1386.5L876.9,1388.1L854.6,1388.6L543.9,1388.6L506.4,1388.2L474.6,1386.9L448.1,1384.6L426.3,1381.5L409.1,1377.3L395.9,1372.2L386.3,1366.1L380.0,1358.8L376.5,1350.5L375.4,1341.1Z" fill="hsl(124.3,100%,50%)" />
<path d="M375.9,1341.2L376.6,1338.1L378.7,1335.2L382.0,1332.4L386.5,1329.9L392.1,1327.7L398.9,1325.8L406.6,1324.3L415.2,1323.1L424.7,1322.4L434.9,1322.2L926.0,1322.2L933.7,1322.4L940.6,1323.1L946.7,1324.3L952.0,1325.8L956.5,1327.8L960.2,1330.1L963.1,1332.7L965.2,1335.7L966.4,1339.0L966.8,1342.5L965.8,1350.4L962.7,1357.6L957.4,1364.2L949.9,1370.0L940.1,1375.2L928.0,1379.5L913.4,1382.9L896.3,1385.5L876.7,1387.0L854.4,1387.5L543.5,1387.5L506.2,1387.1L474.6,1385.8L448.2,1383.7L426.6,1380.6L409.4,1376.5L396.3,1371.5L386.8,1365.5L380.5,1358.5L377.0,1350.4L375.9,1341.2Z" fill="hsl(119.9,100%,50%)" />
<path d="M376.4,1341.4L377.1,1338.3L379.2,1335.4L382.5,1332.6L387.1,1330.2L392.7,1328.0L399.5,1326.1L407.2,1324.6L415.9,1323.5L425.4,1322.8L435.7,1322.5L925.2,1322.5L932.9,1322.7L939.9,1323.4L946.0,1324.6L951.4,1326.1L955.9,1328.0L959.6,1330.3L962.6,1333.0L964.6,1335.9L965.9,1339.1L966.3,1342.6L965.3,1350.3L962.2,1357.4L956.9,1363.8L949.5,1369.5L939.7,1374.5L927.6,1378.8L913.1,1382.1L896.0,1384.6L876.5,1386.1L854.3,1386.7L543.1,1386.7L506.0,1386.2L474.6,1385.0L448.3,1382.9L426.8,1379.8L409.8,1375.9L396.7,1371.0L387.2,1365.1L381.0,1358.3L377.5,1350.3L376.4,1341.4Z" fill="hsl(115.6,100%,50%)" />
<path d="M377.0,1341.5L377.7,1338.4L379.7,1335.5L383.1,1332.9L387.6,1330.4L393.3,1328.3L400.1,1326.4L407.9,1324.9L416.6,1323.8L426.1,1323.1L436.5,1322.9L924.4,1322.9L932.2,1323.1L939.2,1323.8L945.4,1324.9L950.8,1326.4L955.3,1328.3L959.1,1330.6L962.0,1333.2L964.1,1336.1L965.4,1339.3L965.8,1342.7L964.8,1350.2L961.7,1357.1L956.4,1363.4L949.0,1369.0L939.3,1373.9L927.2,1378.1L912.7,1381.3L895.7,1383.8L876.2,1385.3L854.1,1385.8L542.7,1385.8L505.9,1385.4L474.6,1384.1L448.4,1382.1L427.1,1379.1L410.1,1375.2L397.1,1370.5L387.7,1364.7L381.5,1358.0L378.0,1350.3L377.0,1341.5Z" fill="hsl(111.2,100%,50%)" />
<path d="M377.5,1341.6L378.2,1338.6L380.3,1335.7L383.6,1333.1L388.2,1330.7L393.9,1328.5L400.7,1326.7L408.5,1325.2L417.3,1324.1L426.9,1323.4L437.3,1323.2L923.5,1323.2L931.4,1323.4L938.5,1324.1L944.7,1325.2L950.1,1326.7L954.7,1328.6L958.5,1330.8L961.5,1333.4L963.6,1336.3L964.8,1339.4L965.3,1342.8L964.3,1350.1L961.2,1356.9L955.9,1363.0L948.5,1368.5L938.8,1373.3L926.8,1377.3L912.3,1380.6L895.4,1382.9L876.0,1384.4L853.9,1384.9L542.3,1384.9L505.7,1384.5L474.6,1383.3L448.6,1381.3L427.3,1378.4L410.5,1374.6L397.5,1369.9L388.2,1364.3L382.0,1357.7L378.5,1350.2L377.5,1341.6Z" fill="hsl(106.9,100%,50%)" />
<path d="M378.0,1341.7L378.7,1338.7L380.8,1335.9L384.2,1333.3L388.8,1330.9L394.5,1328.8L401.4,1327.0L409.2,1325.5L418.0,1324.5L427.6,1323.8L438.0,1323.5L922.7,1323.5L930.6,1323.8L937.7,1324.4L944.0,1325.5L949.5,1327.0L954.1,1328.9L957.9,1331.1L960.9,1333.6L963.0,1336.4L964.3,1339.6L964.7,1342.9L963.7,1350.1L960.7,1356.7L955.5,1362.7L948.1,1368.0L938.4,1372.7L926.4,1376.6L912.0,1379.8L895.1,1382.1L875.8,1383.5L853.8,1384.0L542.0,1384.0L505.5,1383.6L474.5,1382.4L448.7,1380.4L427.6,1377.6L410.8,1373.9L398.0,1369.4L388.6,1363.9L382.5,1357.5L379.1,1350.1L378.0,1341.7Z" fill="hsl(102.6,100%,50%)" />
<path d="M378.5,1341.8L379.3,1338.9L381.3,1336.1L384.7,1333.5L389.3,1331.2L395.1,1329.1L402.0,1327.3L409.8,1325.9L418.7,1324.8L428.3,1324.1L438.8,1323.9L921.9,1323.9L929.9,1324.1L937.0,1324.8L943.4,1325.8L948.9,1327.3L953.5,1329.1L957.4,1331.3L960.4,1333.8L962.5,1336.6L963.8,1339.7L964.2,1343.0L963.2,1350.0L960.2,1356.4L955.0,1362.3L947.6,1367.5L938.0,1372.1L926.0,1375.9L911.6,1379.0L894.8,1381.2L875.5,1382.6L853.6,1383.1L541.6,1383.1L505.3,1382.7L474.5,1381.6L448.8,1379.6L427.8,1376.9L411.1,1373.3L398.4,1368.8L389.1,1363.5L383.0,1357.2L379.6,1350.0L378.5,1341.8Z" fill="hsl(98.2,100%,50%)" />
<path d="M379.1,1342.0L379.8,1339.1L381.9,1336.3L385.3,1333.8L389.9,1331.4L395.7,1329.4L402.6,1327.6L410.5,1326.2L419.3,1325.1L429.1,1324.5L439.6,1324.2L921.1,1324.2L929.1,1324.4L936.3,1325.1L942.7,1326.2L948.2,1327.6L952.9,1329.4L956.8,1331.6L959.8,1334.0L962.0,1336.8L963.3,1339.8L963.7,1343.1L962.7,1349.9L959.6,1356.2L954.5,1361.9L947.1,1367.0L937.5,1371.5L925.6,1375.2L911.3,1378.2L894.5,1380.4L875.3,1381.7L853.4,1382.2L541.2,1382.2L505.1,1381.8L474.5,1380.7L449.0,1378.8L428.1,1376.2L411.5,1372.7L398.8,1368.3L389.6,1363.1L383.5,1357.0L380.1,1349.9L379.1,1342.0Z" fill="hsl(93.9,100%,50%)" />
<path d="M379.6,1342.1L380.3,1339.2L382.4,1336.5L385.8,1334.0L390.5,1331.7L396.3,1329.7L403.2,1327.9L411.2,1326.5L420.0,1325.5L429.8,1324.8L440.4,1324.6L920.3,1324.6L928.3,1324.8L935.6,1325.4L942.0,1326.5L947.6,1327.9L952.3,1329.7L956.2,1331.8L959.3,1334.3L961.4,1337.0L962.7,1340.0L963.2,1343.2L962.2,1349.8L959.1,1356.0L954.0,1361.5L946.7,1366.5L937.1,1370.8L925.2,1374.5L910.9,1377.4L894.2,1379.5L875.0,1380.9L853.3,1381.3L540.8,1381.3L504.9,1381.0L474.5,1379.9L449.1,1378.0L428.3,1375.4L411.8,1372.0L399.2,1367.8L390.0,1362.7L384.0,1356.7L380.6,1349.9L379.6,1342.1Z" fill="hsl(89.5,100%,50%)" />
<path d="M380.1,1342.2L380.8,1339.4L382.9,1336.7L386.4,1334.2L391.0,1332.0L396.9,1330.0L403.8,1328.3L411.8,1326.9L420.7,1325.9L430.5,1325.2L441.1,1325.0L919.4,1325.0L927.6,1325.2L934.9,1325.8L941.4,1326.9L947.0,1328.3L951.7,1330.0L955.7,1332.1L958.7,1334.5L960.9,1337.2L962.2,1340.1L962.7,1343.3L961.7,1349.8L958.6,1355.7L953.5,1361.1L946.2,1365.9L936.6,1370.1L924.8,1373.7L910.6,1376.5L894.0,1378.6L874.8,1379.9L853.1,1380.3L540.4,1380.3L504.8,1380.0L474.5,1378.9L449.2,1377.1L428.6,1374.6L412.2,1371.3L399.6,1367.1L390.5,1362.2L384.5,1356.4L381.1,1349.8L380.1,1342.2Z" fill="hsl(85.2,100%,50%)" />
<path d="M380.6,1342.3L381.4,1339.6L383.5,1336.9L386.9,1334.5L391.6,1332.3L397.5,1330.3L404.5,1328.6L412.5,1327.3L421.4,1326.3L431.3,1325.6L441.9,1325.4L918.6,1325.4L926.8,1325.6L934.2,1326.2L940.7,1327.3L946.3,1328.6L951.2,1330.4L955.1,1332.4L958.2,1334.8L960.4,1337.4L961.7,1340.3L962.1,1343.4L961.2,1349.7L958.1,1355.4L953.0,1360.7L945.7,1365.4L936.2,1369.5L924.4,1372.9L910.2,1375.6L893.7,1377.7L874.6,1378.9L852.9,1379.3L540.0,1379.3L504.6,1379.0L474.5,1378.0L449.4,1376.2L428.8,1373.8L412.5,1370.5L400.0,1366.5L391.0,1361.7L385.0,1356.1L381.7,1349.7L380.6,1342.3Z" fill="hsl(80.8,100%,50%)" />
<path d="M381.2,1342.4L381.9,1339.7L384.0,1337.1L387.5,1334.8L392.2,1332.6L398.1,1330.6L405.1,1329.0L413.1,1327.7L422.1,1326.7L432.0,1326.0L442.7,1325.8L917.8,1325.8L926.0,1326.0L933.5,1326.7L940.0,1327.6L945.7,1329.0L950.6,1330.7L954.5,1332.7L957.6,1335.0L959.8,1337.6L961.2,1340.4L961.6,1343.5L960.6,1349.6L957.6,1355.2L952.5,1360.3L945.3,1364.8L935.8,1368.8L924.0,1372.1L909.9,1374.8L893.4,1376.7L874.3,1377.9L852.8,1378.3L539.6,1378.3L504.4,1378.0L474.5,1377.0L449.5,1375.3L429.1,1372.9L412.9,1369.8L400.4,1365.9L391.4,1361.3L385.5,1355.8L382.2,1349.6L381.2,1342.4Z" fill="hsl(76.5,100%,50%)" />
<path d="M381.7,1342.6L382.4,1339.9L384.6,1337.4L388.0,1335.0L392.8,1332.9L398.7,1331.0L405.7,1329.4L413.8,1328.0L422.8,1327.1L432.7,1326.5L443.5,1326.2L917.0,1326.2L925.3,1326.5L932.7,1327.1L939.3,1328.0L945.1,1329.4L950.0,1331.0L954.0,1333.0L957.1,1335.3L959.3,1337.8L960.7,1340.6L961.1,1343.6L960.1,1349.5L957.1,1354.9L952.0,1359.8L944.8,1364.2L935.3,1368.1L923.6,1371.3L909.5,1373.9L893.1,1375.8L874.1,1377.0L852.6,1377.4L539.2,1377.4L504.2,1377.0L474.5,1376.1L449.6,1374.4L429.3,1372.1L413.2,1369.1L400.8,1365.3L391.9,1360.8L386.0,1355.5L382.7,1349.5L381.7,1342.6Z" fill="hsl(72.2,100%,50%)" />
<path d="M382.2,1342.7L382.9,1340.1L385.1,1337.6L388.6,1335.3L393.3,1333.2L399.3,1331.3L406.3,1329.7L414.4,1328.4L423.5,1327.5L433.5,1326.9L444.3,1326.7L916.1,1326.7L924.5,1326.9L932.0,1327.5L938.7,1328.4L944.5,1329.7L949.4,1331.4L953.4,1333.3L956.5,1335.5L958.8,1338.0L960.1,1340.8L960.6,1343.7L959.6,1349.4L956.6,1354.6L951.5,1359.4L944.3,1363.7L934.9,1367.4L923.2,1370.5L909.2,1373.0L892.8,1374.9L873.9,1376.0L852.4,1376.4L538.8,1376.4L504.0,1376.1L474.4,1375.1L449.8,1373.6L429.6,1371.3L413.5,1368.4L401.3,1364.7L392.4,1360.4L386.5,1355.2L383.2,1349.4L382.2,1342.7Z" fill="hsl(67.8,100%,50%)" />
<path d="M382.7,1342.8L383.5,1340.2L385.6,1337.8L389.1,1335.5L393.9,1333.5L399.9,1331.6L407.0,1330.1L415.1,1328.8L424.2,1327.9L434.2,1327.3L445.0,1327.1L915.3,1327.1L923.7,1327.3L931.3,1327.9L938.0,1328.8L943.8,1330.1L948.8,1331.7L952.8,1333.6L956.0,1335.8L958.2,1338.2L959.6,1340.9L960.1,1343.8L959.1,1349.3L956.1,1354.4L951.0,1359.0L943.9,1363.1L934.5,1366.7L922.8,1369.7L908.8,1372.1L892.5,1373.9L873.6,1375.0L852.3,1375.4L538.5,1375.4L503.8,1375.1L474.4,1374.2L449.9,1372.7L429.8,1370.5L413.9,1367.6L401.7,1364.1L392.8,1359.9L387.0,1355.0L383.7,1349.3L382.7,1342.8Z" fill="hsl(63.5,100%,50%)" />
<path d="M383.4,1343.0L384.1,1340.4L386.3,1338.1L389.8,1335.9L394.6,1333.8L400.6,1332.1L407.7,1330.5L415.9,1329.3L425.0,1328.4L435.1,1327.8L446.0,1327.6L914.3,1327.6L922.8,1327.8L930.4,1328.4L937.2,1329.3L943.0,1330.5L948.0,1332.1L952.1,1334.0L955.3,1336.1L957.6,1338.5L959.0,1341.1L959.4,1343.9L958.4,1349.2L955.5,1354.1L950.4,1358.6L943.3,1362.5L933.9,1366.0L922.3,1368.9L908.4,1371.3L892.1,1373.0L873.3,1374.0L852.1,1374.4L538.0,1374.4L503.6,1374.1L474.4,1373.2L450.0,1371.7L430.1,1369.7L414.3,1366.9L402.2,1363.5L393.4,1359.4L387.6,1354.7L384.4,1349.2L383.4,1343.0Z" fill="hsl(59.1,100%,50%)" />
<path d="M384.5,1343.2L385.2,1340.8L387.4,1338.6L391.0,1336.5L395.8,1334.5L401.9,1332.9L409.1,1331.4L417.3,1330.2L426.5,1329.4L436.7,1328.8L447.7,1328.6L912.5,1328.6L921.2,1328.8L928.9,1329.3L935.7,1330.2L941.7,1331.4L946.8,1332.9L950.9,1334.7L954.1,1336.7L956.5,1339.0L957.8,1341.5L958.3,1344.2L957.3,1349.2L954.4,1353.9L949.4,1358.2L942.3,1362.0L933.0,1365.3L921.5,1368.1L907.7,1370.3L891.5,1371.9L872.8,1372.9L851.7,1373.3L537.2,1373.3L503.2,1373.0L474.4,1372.2L450.3,1370.8L430.7,1368.8L415.0,1366.1L403.1,1362.9L394.4,1359.0L388.7,1354.4L385.5,1349.2L384.5,1343.2Z" fill="hsl(54.8,100%,50%)" />
<path d="M385.6,1343.5L386.4,1341.2L388.6,1339.1L392.2,1337.1L397.0,1335.2L403.1,1333.6L410.4,1332.3L418.7,1331.2L428.0,1330.3L438.2,1329.8L449.3,1329.6L910.8,1329.6L919.5,1329.8L927.4,1330.3L934.3,1331.1L940.3,1332.3L945.5,1333.7L949.7,1335.4L953.0,1337.3L955.3,1339.4L956.7,1341.8L957.2,1344.4L956.2,1349.2L953.3,1353.7L948.3,1357.7L941.3,1361.4L932.1,1364.5L920.6,1367.2L906.9,1369.3L890.8,1370.9L872.3,1371.9L851.4,1372.2L536.3,1372.2L502.8,1371.9L474.4,1371.1L450.6,1369.8L431.2,1367.9L415.8,1365.4L403.9,1362.3L395.4,1358.5L389.7,1354.2L386.6,1349.2L385.6,1343.5Z" fill="hsl(50.4,100%,50%)" />
<path d="M386.7,1343.7L387.5,1341.6L389.7,1339.5L393.3,1337.7L398.3,1335.9L404.4,1334.4L411.7,1333.1L420.1,1332.1L429.5,1331.3L439.8,1330.8L451.0,1330.6L909.0,1330.6L917.9,1330.8L925.8,1331.3L932.9,1332.1L939.0,1333.1L944.2,1334.5L948.5,1336.1L951.8,1337.9L954.2,1339.9L955.6,1342.2L956.1,1344.6L955.1,1349.2L952.2,1353.5L947.3,1357.3L940.3,1360.8L931.1,1363.8L919.8,1366.4L906.1,1368.4L890.2,1369.9L871.8,1370.8L851.0,1371.1L535.5,1371.1L502.4,1370.9L474.3,1370.1L450.9,1368.8L431.7,1367.0L416.5,1364.6L404.8,1361.6L396.4,1358.1L390.8,1353.9L387.7,1349.1L386.7,1343.7Z" fill="hsl(46.1,100%,50%)" />
<path d="M387.9,1344.0L388.6,1342.0L390.9,1340.0L394.5,1338.3L399.5,1336.7L405.7,1335.2L413.1,1334.0L421.5,1333.0L431.0,1332.3L441.4,1331.8L452.6,1331.6L907.2,1331.6L916.2,1331.8L924.3,1332.3L931.4,1333.0L937.6,1334.0L942.9,1335.3L947.2,1336.8L950.6,1338.5L953.0,1340.4L954.5,1342.5L955.0,1344.8L954.0,1349.2L951.1,1353.2L946.2,1356.9L939.3,1360.2L930.2,1363.1L918.9,1365.5L905.4,1367.4L889.5,1368.9L871.3,1369.7L850.7,1370.0L534.7,1370.0L502.0,1369.8L474.3,1369.1L451.2,1367.9L432.3,1366.1L417.2,1363.8L405.7,1361.0L397.4,1357.6L391.9,1353.7L388.8,1349.1L387.9,1344.0Z" fill="hsl(41.8,100%,50%)" />
<path d="M389.0,1344.2L389.8,1342.3L392.0,1340.5L395.7,1338.9L400.7,1337.4L407.0,1336.0L414.4,1334.9L422.9,1333.9L432.5,1333.2L443.0,1332.8L454.3,1332.6L905.5,1332.6L914.6,1332.8L922.8,1333.2L930.0,1333.9L936.3,1334.9L941.6,1336.0L946.0,1337.5L949.4,1339.1L951.9,1340.9L953.4,1342.9L953.9,1345.0L952.9,1349.2L950.0,1353.0L945.2,1356.5L938.3,1359.6L929.3,1362.4L918.1,1364.7L904.6,1366.5L888.9,1367.8L870.8,1368.7L850.3,1368.9L533.8,1368.9L501.6,1368.7L474.3,1368.0L451.4,1366.9L432.8,1365.2L418.0,1363.1L406.6,1360.4L398.4,1357.2L392.9,1353.4L389.9,1349.1L389.0,1344.2Z" fill="hsl(37.4,100%,50%)" />
<path d="M390.1,1344.5L390.9,1342.7L393.2,1341.0L396.9,1339.5L401.9,1338.1L408.2,1336.8L415.7,1335.7L424.3,1334.8L434.0,1334.2L444.5,1333.8L456.0,1333.7L903.7,1333.7L912.9,1333.8L921.2,1334.2L928.6,1334.8L934.9,1335.7L940.4,1336.8L944.8,1338.2L948.3,1339.7L950.7,1341.4L952.2,1343.2L952.7,1345.2L951.8,1349.2L949.0,1352.8L944.1,1356.1L937.3,1359.1L928.3,1361.6L917.2,1363.8L903.9,1365.5L888.3,1366.8L870.3,1367.6L850.0,1367.9L533.0,1367.9L501.2,1367.6L474.2,1367.0L451.7,1365.9L433.3,1364.3L418.7,1362.3L407.5,1359.8L399.4,1356.8L394.0,1353.2L391.0,1349.1L390.1,1344.5Z" fill="hsl(33.1,100%,50%)" />
<path d="M391.8,1344.9L392.6,1343.2L394.9,1341.7L398.6,1340.2L403.7,1338.9L410.1,1337.7L417.7,1336.7L426.4,1335.9L436.2,1335.3L446.9,1335.0L458.5,1334.8L901.1,1334.8L910.5,1335.0L918.9,1335.3L926.4,1335.9L932.9,1336.7L938.5,1337.8L943.0,1339.0L946.5,1340.4L949.0,1342.0L950.6,1343.7L951.1,1345.5L950.2,1349.2L947.3,1352.6L942.6,1355.6L935.8,1358.4L926.9,1360.8L915.9,1362.8L902.8,1364.4L887.3,1365.6L869.6,1366.3L849.4,1366.6L531.8,1366.6L500.6,1366.4L474.2,1365.8L452.1,1364.8L434.1,1363.3L419.8,1361.4L408.8,1359.1L400.9,1356.3L395.6,1353.0L392.7,1349.2L391.8,1344.9Z" fill="hsl(28.7,100%,50%)" />
<path d="M394.8,1345.6L395.6,1344.1L397.9,1342.6L401.8,1341.3L407.0,1340.1L413.5,1339.1L421.3,1338.1L430.2,1337.4L440.1,1336.9L451.1,1336.5L462.9,1336.4L896.4,1336.4L906.1,1336.5L914.9,1336.8L922.6,1337.4L929.3,1338.1L935.0,1339.1L939.7,1340.2L943.4,1341.4L946.0,1342.9L947.6,1344.4L948.1,1346.1L947.2,1349.4L944.4,1352.4L939.8,1355.1L933.1,1357.5L924.4,1359.7L913.7,1361.4L900.8,1362.9L885.6,1363.9L868.2,1364.6L848.5,1364.8L529.5,1364.8L499.6,1364.6L474.1,1364.1L452.9,1363.2L435.5,1361.9L421.7,1360.2L411.2,1358.1L403.5,1355.6L398.4,1352.7L395.6,1349.4L394.8,1345.6Z" fill="hsl(24.4,100%,50%)" />
<path d="M397.8,1346.2L398.6,1344.9L401.0,1343.6L404.9,1342.4L410.2,1341.3L416.9,1340.4L424.8,1339.5L433.9,1338.9L444.1,1338.4L455.3,1338.1L467.3,1338.0L891.6,1338.0L901.7,1338.1L910.8,1338.4L918.8,1338.9L925.7,1339.5L931.6,1340.4L936.5,1341.4L940.3,1342.5L943.0,1343.8L944.6,1345.2L945.1,1346.7L944.2,1349.5L941.5,1352.1L937.0,1354.5L930.5,1356.7L922.0,1358.5L911.4,1360.1L898.7,1361.3L883.9,1362.3L866.9,1362.8L847.5,1363.0L527.3,1363.0L498.5,1362.9L474.0,1362.4L453.6,1361.6L436.9,1360.5L423.7,1359.0L413.5,1357.2L406.2,1355.0L401.3,1352.5L398.6,1349.6L397.8,1346.2Z" fill="hsl(20.0,100%,50%)" />
<path d="M400.8,1346.9L401.6,1345.7L404.1,1344.6L408.1,1343.5L413.5,1342.5L420.3,1341.7L428.4,1340.9L437.7,1340.4L448.0,1339.9L459.4,1339.6L471.8,1339.5L886.9,1339.5L897.3,1339.6L906.7,1339.9L914.9,1340.3L922.1,1340.9L928.2,1341.7L933.2,1342.5L937.1,1343.5L939.9,1344.7L941.6,1345.9L942.2,1347.2L941.3,1349.7L938.6,1351.9L934.2,1354.0L927.8,1355.8L919.5,1357.4L909.1,1358.7L896.7,1359.8L882.2,1360.6L865.5,1361.1L846.6,1361.2L525.1,1361.2L497.4,1361.1L474.0,1360.7L454.4,1360.0L438.4,1359.1L425.6,1357.8L415.9,1356.3L408.8,1354.4L404.2,1352.3L401.6,1349.8L400.8,1346.9Z" fill="hsl(15.7,100%,50%)" />
<path d="M404.8,1347.8L405.7,1346.7L408.2,1345.7L412.3,1344.7L417.9,1343.8L424.9,1343.0L433.2,1342.3L442.7,1341.8L453.4,1341.4L465.1,1341.1L477.8,1341.0L880.6,1341.0L891.5,1341.1L901.2,1341.4L909.8,1341.7L917.3,1342.3L923.6,1342.9L928.9,1343.7L932.9,1344.6L935.8,1345.7L937.6,1346.8L938.2,1348.0L937.3,1349.8L934.8,1351.5L930.4,1353.0L924.2,1354.4L916.1,1355.6L906.1,1356.6L894.0,1357.4L879.9,1358.0L863.7,1358.3L845.3,1358.5L522.1,1358.5L496.0,1358.4L473.9,1358.1L455.4,1357.6L440.3,1356.9L428.3,1355.9L419.1,1354.8L412.4,1353.4L408.0,1351.8L405.5,1349.9L404.8,1347.8Z" fill="hsl(11.3,100%,50%)" />
<path d="M409.0,1348.8L409.9,1347.8L412.5,1346.8L416.7,1345.9L422.4,1345.1L429.6,1344.3L438.2,1343.7L448.0,1343.2L458.9,1342.8L471.0,1342.6L484.0,1342.5L874.0,1342.5L885.3,1342.6L895.4,1342.8L904.4,1343.1L912.2,1343.6L918.9,1344.2L924.3,1344.9L928.5,1345.8L931.6,1346.7L933.4,1347.7L934.0,1348.8L933.2,1350.0L930.7,1351.0L926.5,1352.0L920.5,1352.9L912.6,1353.7L902.9,1354.3L891.2,1354.8L877.6,1355.2L861.8,1355.4L844.0,1355.5L519.0,1355.5L494.5,1355.4L473.8,1355.3L456.4,1354.9L442.3,1354.5L431.0,1353.9L422.4,1353.2L416.1,1352.3L412.0,1351.3L409.7,1350.1L409.0,1348.8Z" fill="hsl(7.0,100%,50%)" />
<path d="M1045.0,1262.4L1045.0,1274.8L1045.6,1279.8L1047.3,1284.7L1050.0,1289.3L1053.4,1293.4L1057.5,1296.8L1062.1,1299.5L1067.0,1301.2L1072.0,1301.8L1129.3,1301.8L1133.8,1301.3L1138.1,1299.7L1142.2,1297.4L1145.8,1294.3L1148.9,1290.7L1151.2,1286.6L1152.8,1282.3L1153.3,1277.8L1153.3,1262.4Z" fill="#66EEFF" />
<path d="M1046.0,1262.4L1046.0,1274.8L1046.6,1279.6L1048.2,1284.3L1050.8,1288.7L1054.1,1292.7L1058.1,1296.0L1062.5,1298.6L1067.2,1300.2L1072.0,1300.8L1129.3,1300.8L1133.6,1300.3L1137.7,1298.8L1141.6,1296.6L1145.1,1293.6L1148.1,1290.1L1150.3,1286.2L1151.8,1282.1L1152.3,1277.8L1152.3,1262.4Z" fill="#FF0000" />
</g></g>
<rect x="221.3" y="1239.1" width="49.5" height="30.9" fill="#e2e2e2"/>
<rect x="221.3" y="1239.1" width="49.5" height="30.9" fill="url(#h2)" stroke="#333" stroke-width="1.4"/>
<g clip-path="url(#cpc2)">
<rect x="1193.6" y="1239.1" width="56.4" height="30.9" fill="#e2e2e2"/>
<rect x="1193.6" y="1239.1" width="56.4" height="30.9" fill="url(#h2)" stroke="#333" stroke-width="1.4"/>
</g>
<rect x="1075.8" y="1239.1" width="50.4" height="30.9" fill="#e2e2e2"/>
<rect x="1075.8" y="1239.1" width="50.4" height="30.9" fill="url(#h2)" stroke="#333" stroke-width="1.4"/>
<path d="M978.6,1270.4 L980.3,1238.6 Q980.8,1226.2 992,1226.2 L1046,1226.2 Q1057.5,1226.2 1057.5,1238.6 L1057.5,1270.4 Z" fill="#fff" stroke="#333" stroke-width="1.3"/>
<path d="M973,1269.8 L981,1269.8 M1056,1269.8 L1064,1269.8" stroke="#333" stroke-width="1.6"/>
<rect x="990.0" y="1227.2" width="58.5" height="42.6" fill="#e2e2e2"/>
<rect x="990.0" y="1227.2" width="58.5" height="42.6" fill="url(#h2)" stroke="#333" stroke-width="1.4"/>
<line x1="76.2" y1="1270.0" x2="1242.0" y2="1270.0" stroke="#3a3a3a" stroke-width="1.4"/>
<rect x="322.3" y="1285.8" width="680.7" height="184.6" fill="none" stroke="#000" stroke-width="2.5" stroke-dasharray="9.6 5.6"/>
<path d="M76.2,1166.0 L1242.0,1166.0 L1242.0,1688.1" fill="none" stroke="#8a8a8a" stroke-width="1.8"/>
<line x1="76.2" y1="1166.0" x2="76.2" y2="1688.1" stroke="#8a8a8a" stroke-width="1.8"/>
<line x1="76.2" y1="1688.1" x2="1242.0" y2="1688.1" stroke="#8a8a8a" stroke-width="1.8"/>
<line x1="50.5" y1="1166.0" x2="76.2" y2="1166.0" stroke="#3a3a3a" stroke-width="2.3"/>
<text x="47.8" y="1175.6" font-size="18.0" text-anchor="end" fill="#222" textLength="32.5" lengthAdjust="spacingAndGlyphs" stroke="#222" stroke-width="0.40" >-0.5</text>
<line x1="63.8" y1="1186.9" x2="76.2" y2="1186.9" stroke="#777" stroke-width="1.7"/>
<line x1="63.8" y1="1207.8" x2="76.2" y2="1207.8" stroke="#777" stroke-width="1.7"/>
<line x1="63.8" y1="1228.7" x2="76.2" y2="1228.7" stroke="#777" stroke-width="1.7"/>
<line x1="63.8" y1="1249.5" x2="76.2" y2="1249.5" stroke="#777" stroke-width="1.7"/>
<line x1="50.5" y1="1270.4" x2="76.2" y2="1270.4" stroke="#3a3a3a" stroke-width="2.3"/>
<text x="47.8" y="1280.0" font-size="18.0" text-anchor="end" fill="#222" textLength="26.5" lengthAdjust="spacingAndGlyphs" stroke="#222" stroke-width="0.40" >0.0</text>
<line x1="63.8" y1="1291.3" x2="76.2" y2="1291.3" stroke="#777" stroke-width="1.7"/>
<line x1="63.8" y1="1312.2" x2="76.2" y2="1312.2" stroke="#777" stroke-width="1.7"/>
<line x1="63.8" y1="1333.1" x2="76.2" y2="1333.1" stroke="#777" stroke-width="1.7"/>
<line x1="63.8" y1="1354.0" x2="76.2" y2="1354.0" stroke="#777" stroke-width="1.7"/>
<line x1="50.5" y1="1374.8" x2="76.2" y2="1374.8" stroke="#3a3a3a" stroke-width="2.3"/>
<text x="47.8" y="1384.4" font-size="18.0" text-anchor="end" fill="#222" textLength="26.5" lengthAdjust="spacingAndGlyphs" stroke="#222" stroke-width="0.40" >0.5</text>
<line x1="63.8" y1="1395.7" x2="76.2" y2="1395.7" stroke="#777" stroke-width="1.7"/>
<line x1="63.8" y1="1416.6" x2="76.2" y2="1416.6" stroke="#777" stroke-width="1.7"/>
<line x1="63.8" y1="1437.5" x2="76.2" y2="1437.5" stroke="#777" stroke-width="1.7"/>
<line x1="63.8" y1="1458.4" x2="76.2" y2="1458.4" stroke="#777" stroke-width="1.7"/>
<line x1="50.5" y1="1479.3" x2="76.2" y2="1479.3" stroke="#3a3a3a" stroke-width="2.3"/>
<text x="47.8" y="1488.9" font-size="18.0" text-anchor="end" fill="#222" textLength="26.5" lengthAdjust="spacingAndGlyphs" stroke="#222" stroke-width="0.40" >1.0</text>
<line x1="63.8" y1="1500.2" x2="76.2" y2="1500.2" stroke="#777" stroke-width="1.7"/>
<line x1="63.8" y1="1521.0" x2="76.2" y2="1521.0" stroke="#777" stroke-width="1.7"/>
<line x1="63.8" y1="1541.9" x2="76.2" y2="1541.9" stroke="#777" stroke-width="1.7"/>
<line x1="63.8" y1="1562.8" x2="76.2" y2="1562.8" stroke="#777" stroke-width="1.7"/>
<line x1="50.5" y1="1583.7" x2="76.2" y2="1583.7" stroke="#3a3a3a" stroke-width="2.3"/>
<text x="47.8" y="1593.3" font-size="18.0" text-anchor="end" fill="#222" textLength="26.5" lengthAdjust="spacingAndGlyphs" stroke="#222" stroke-width="0.40" >1.5</text>
<line x1="63.8" y1="1604.6" x2="76.2" y2="1604.6" stroke="#777" stroke-width="1.7"/>
<line x1="63.8" y1="1625.5" x2="76.2" y2="1625.5" stroke="#777" stroke-width="1.7"/>
<line x1="63.8" y1="1646.4" x2="76.2" y2="1646.4" stroke="#777" stroke-width="1.7"/>
<line x1="63.8" y1="1667.2" x2="76.2" y2="1667.2" stroke="#777" stroke-width="1.7"/>
<line x1="50.5" y1="1688.1" x2="76.2" y2="1688.1" stroke="#3a3a3a" stroke-width="2.3"/>
<text x="47.8" y="1697.7" font-size="18.0" text-anchor="end" fill="#222" textLength="26.5" lengthAdjust="spacingAndGlyphs" stroke="#222" stroke-width="0.40" >2.0</text>
<line x1="76.2" y1="1688.1" x2="76.2" y2="1697.6" stroke="#333" stroke-width="2.2"/>
<text x="76.2" y="1721.6" font-size="18.0" text-anchor="middle" fill="#222" textLength="10.5" lengthAdjust="spacingAndGlyphs" stroke="#222" stroke-width="0.40" >0</text>
<line x1="124.8" y1="1688.1" x2="124.8" y2="1693.1" stroke="#777" stroke-width="1.7"/>
<line x1="173.4" y1="1688.1" x2="173.4" y2="1693.1" stroke="#777" stroke-width="1.7"/>
<line x1="221.9" y1="1688.1" x2="221.9" y2="1693.1" stroke="#777" stroke-width="1.7"/>
<line x1="270.5" y1="1688.1" x2="270.5" y2="1697.6" stroke="#333" stroke-width="2.2"/>
<text x="270.5" y="1721.6" font-size="18.0" text-anchor="middle" fill="#222" textLength="10.5" lengthAdjust="spacingAndGlyphs" stroke="#222" stroke-width="0.40" >2</text>
<line x1="319.1" y1="1688.1" x2="319.1" y2="1693.1" stroke="#777" stroke-width="1.7"/>
<line x1="367.7" y1="1688.1" x2="367.7" y2="1693.1" stroke="#777" stroke-width="1.7"/>
<line x1="416.2" y1="1688.1" x2="416.2" y2="1693.1" stroke="#777" stroke-width="1.7"/>
<line x1="464.8" y1="1688.1" x2="464.8" y2="1697.6" stroke="#333" stroke-width="2.2"/>
<text x="464.8" y="1721.6" font-size="18.0" text-anchor="middle" fill="#222" textLength="10.5" lengthAdjust="spacingAndGlyphs" stroke="#222" stroke-width="0.40" >4</text>
<line x1="513.4" y1="1688.1" x2="513.4" y2="1693.1" stroke="#777" stroke-width="1.7"/>
<line x1="562.0" y1="1688.1" x2="562.0" y2="1693.1" stroke="#777" stroke-width="1.7"/>
<line x1="610.5" y1="1688.1" x2="610.5" y2="1693.1" stroke="#777" stroke-width="1.7"/>
<line x1="659.1" y1="1688.1" x2="659.1" y2="1697.6" stroke="#333" stroke-width="2.2"/>
<text x="659.1" y="1721.6" font-size="18.0" text-anchor="middle" fill="#222" textLength="10.5" lengthAdjust="spacingAndGlyphs" stroke="#222" stroke-width="0.40" >6</text>
<line x1="707.7" y1="1688.1" x2="707.7" y2="1693.1" stroke="#777" stroke-width="1.7"/>
<line x1="756.3" y1="1688.1" x2="756.3" y2="1693.1" stroke="#777" stroke-width="1.7"/>
<line x1="804.8" y1="1688.1" x2="804.8" y2="1693.1" stroke="#777" stroke-width="1.7"/>
<line x1="853.4" y1="1688.1" x2="853.4" y2="1697.6" stroke="#333" stroke-width="2.2"/>
<text x="853.4" y="1721.6" font-size="18.0" text-anchor="middle" fill="#222" textLength="10.5" lengthAdjust="spacingAndGlyphs" stroke="#222" stroke-width="0.40" >8</text>
<line x1="902.0" y1="1688.1" x2="902.0" y2="1693.1" stroke="#777" stroke-width="1.7"/>
<line x1="950.6" y1="1688.1" x2="950.6" y2="1693.1" stroke="#777" stroke-width="1.7"/>
<line x1="999.1" y1="1688.1" x2="999.1" y2="1693.1" stroke="#777" stroke-width="1.7"/>
<line x1="1047.7" y1="1688.1" x2="1047.7" y2="1697.6" stroke="#333" stroke-width="2.2"/>
<text x="1047.7" y="1721.6" font-size="18.0" text-anchor="middle" fill="#222" textLength="21.0" lengthAdjust="spacingAndGlyphs" stroke="#222" stroke-width="0.40" >10</text>
<line x1="1096.3" y1="1688.1" x2="1096.3" y2="1693.1" stroke="#777" stroke-width="1.7"/>
<line x1="1144.9" y1="1688.1" x2="1144.9" y2="1693.1" stroke="#777" stroke-width="1.7"/>
<line x1="1193.4" y1="1688.1" x2="1193.4" y2="1693.1" stroke="#777" stroke-width="1.7"/>
<line x1="1242.0" y1="1688.1" x2="1242.0" y2="1697.6" stroke="#333" stroke-width="2.2"/>
<text x="1242.0" y="1721.6" font-size="18.0" text-anchor="middle" fill="#222" textLength="21.0" lengthAdjust="spacingAndGlyphs" stroke="#222" stroke-width="0.40" >12</text>
<text transform="translate(17.2,1430.6) rotate(-90)" font-size="23.5" text-anchor="middle" textLength="36" lengthAdjust="spacingAndGlyphs" fill="#111" stroke="#111" stroke-width="0.3">µm</text>
<text x="244.5" y="1196.3" font-size="23.0" text-anchor="middle" fill="#000" textLength="66.5" lengthAdjust="spacingAndGlyphs" stroke="#000" stroke-width="0.42" >p-well</text>
<text x="244.8" y="1228.3" font-size="23.0" text-anchor="middle" fill="#000" textLength="80.5" lengthAdjust="spacingAndGlyphs" stroke="#000" stroke-width="0.42" >contact</text>
<text x="664.7" y="1233.6" font-size="30.5" text-anchor="middle" fill="#000" textLength="35.5" lengthAdjust="spacingAndGlyphs" stroke="#000" stroke-width="0.42" >(c)</text>
<text x="1011.7" y="1216.1" font-size="23.0" text-anchor="middle" fill="#000" textLength="27.5" lengthAdjust="spacingAndGlyphs" stroke="#000" stroke-width="0.42" >TG</text>
<text x="1098.0" y="1196.7" font-size="23.0" text-anchor="middle" fill="#000" textLength="62.0" lengthAdjust="spacingAndGlyphs" stroke="#000" stroke-width="0.42" >Sense</text>
<text x="1097.5" y="1228.9" font-size="23.0" text-anchor="middle" fill="#000" textLength="52.0" lengthAdjust="spacingAndGlyphs" stroke="#000" stroke-width="0.42" >node</text>
<text x="1196.0" y="1193.6" font-size="23.0" text-anchor="middle" fill="#000" textLength="66.5" lengthAdjust="spacingAndGlyphs" stroke="#000" stroke-width="0.42" >p-well</text>
<text x="1196.5" y="1225.6" font-size="23.0" text-anchor="middle" fill="#000" textLength="80.5" lengthAdjust="spacingAndGlyphs" stroke="#000" stroke-width="0.42" >contact</text>
<text x="1170.5" y="1363.0" font-size="23.0" text-anchor="middle" fill="#000" textLength="66.5" lengthAdjust="spacingAndGlyphs" stroke="#000" stroke-width="0.42" >p-well</text>
<text x="648.0" y="1461.0" font-size="23.0" text-anchor="middle" fill="#000" textLength="210.0" lengthAdjust="spacingAndGlyphs" stroke="#000" stroke-width="0.42" >Integration volume</text>
<text x="113.0" y="1366.0" font-size="23.0" text-anchor="start" fill="#000" textLength="90.0" lengthAdjust="spacingAndGlyphs" stroke="#000" stroke-width="0.42" >Electron</text>
<text x="113.0" y="1398.0" font-size="23.0" text-anchor="start" fill="#000" textLength="151.0" lengthAdjust="spacingAndGlyphs" stroke="#000" stroke-width="0.42" >concentration</text>
<text x="113" y="1430" font-size="23" textLength="64" lengthAdjust="spacingAndGlyphs" stroke="#000" stroke-width="0.45">(cm<tspan dy="-7" font-size="14">-3</tspan><tspan dy="7">)</tspan></text>
<rect x="114.5" y="1443.00" width="55" height="6.57" fill="hsl(0.0,100%,50%)"/>
<rect x="114.5" y="1449.27" width="55" height="6.57" fill="hsl(9.4,100%,50%)"/>
<rect x="114.5" y="1455.55" width="55" height="6.57" fill="hsl(18.8,100%,50%)"/>
<rect x="114.5" y="1461.82" width="55" height="6.57" fill="hsl(28.1,100%,50%)"/>
<rect x="114.5" y="1468.09" width="55" height="6.57" fill="hsl(37.5,100%,50%)"/>
<rect x="114.5" y="1474.36" width="55" height="6.57" fill="hsl(46.9,100%,50%)"/>
<rect x="114.5" y="1480.64" width="55" height="6.57" fill="hsl(56.2,100%,50%)"/>
<rect x="114.5" y="1486.91" width="55" height="6.57" fill="hsl(65.6,100%,50%)"/>
<rect x="114.5" y="1493.18" width="55" height="6.57" fill="hsl(75.0,100%,50%)"/>
<rect x="114.5" y="1499.45" width="55" height="6.57" fill="hsl(84.4,100%,50%)"/>
<rect x="114.5" y="1505.73" width="55" height="6.57" fill="hsl(93.8,100%,50%)"/>
<rect x="114.5" y="1512.00" width="55" height="6.57" fill="hsl(103.1,100%,50%)"/>
<rect x="114.5" y="1518.27" width="55" height="6.57" fill="hsl(112.5,100%,50%)"/>
<rect x="114.5" y="1524.55" width="55" height="6.57" fill="hsl(121.9,100%,50%)"/>
<rect x="114.5" y="1530.82" width="55" height="6.57" fill="hsl(131.2,100%,50%)"/>
<rect x="114.5" y="1537.09" width="55" height="6.57" fill="hsl(140.6,100%,50%)"/>
<rect x="114.5" y="1543.36" width="55" height="6.57" fill="hsl(150.0,100%,50%)"/>
<rect x="114.5" y="1549.64" width="55" height="6.57" fill="hsl(159.4,100%,50%)"/>
<rect x="114.5" y="1555.91" width="55" height="6.57" fill="hsl(168.8,100%,50%)"/>
<rect x="114.5" y="1562.18" width="55" height="6.57" fill="hsl(178.1,100%,50%)"/>
<rect x="114.5" y="1568.45" width="55" height="6.57" fill="hsl(187.5,100%,50%)"/>
<rect x="114.5" y="1574.73" width="55" height="6.57" fill="hsl(196.9,100%,50%)"/>
<rect x="114.5" y="1581.00" width="55" height="6.57" fill="hsl(206.2,100%,50%)"/>
<rect x="114.5" y="1587.27" width="55" height="6.57" fill="hsl(215.6,100%,50%)"/>
<rect x="114.5" y="1593.55" width="55" height="6.57" fill="hsl(225.0,100%,50%)"/>
<rect x="114.5" y="1599.82" width="55" height="6.57" fill="hsl(234.4,100%,50%)"/>
<rect x="114.5" y="1606.09" width="55" height="6.57" fill="hsl(243.8,100%,50%)"/>
<rect x="114.5" y="1612.36" width="55" height="6.57" fill="hsl(253.1,100%,50%)"/>
<rect x="114.5" y="1618.64" width="55" height="6.57" fill="hsl(262.5,100%,50%)"/>
<rect x="114.5" y="1624.91" width="55" height="6.57" fill="hsl(271.9,100%,50%)"/>
<rect x="114.5" y="1631.18" width="55" height="6.57" fill="hsl(281.2,100%,50%)"/>
<rect x="114.5" y="1637.45" width="55" height="6.57" fill="hsl(290.6,100%,50%)"/>
<rect x="114.5" y="1643.73" width="55" height="6.57" fill="hsl(300.0,100%,50%)"/>
<rect x="114.5" y="1441.90" width="55" height="2.2" fill="#000" fill-opacity="0.42"/>
<rect x="114.5" y="1448.17" width="55" height="2.2" fill="#000" fill-opacity="0.42"/>
<rect x="114.5" y="1454.45" width="55" height="2.2" fill="#000" fill-opacity="0.42"/>
<rect x="114.5" y="1460.72" width="55" height="2.2" fill="#000" fill-opacity="0.42"/>
<rect x="114.5" y="1466.99" width="55" height="2.2" fill="#000" fill-opacity="0.42"/>
<rect x="114.5" y="1473.26" width="55" height="2.2" fill="#000" fill-opacity="0.42"/>
<rect x="114.5" y="1479.54" width="55" height="2.2" fill="#000" fill-opacity="0.42"/>
<rect x="114.5" y="1485.81" width="55" height="2.2" fill="#000" fill-opacity="0.42"/>
<rect x="114.5" y="1492.08" width="55" height="2.2" fill="#000" fill-opacity="0.42"/>
<rect x="114.5" y="1498.35" width="55" height="2.2" fill="#000" fill-opacity="0.42"/>
<rect x="114.5" y="1504.63" width="55" height="2.2" fill="#000" fill-opacity="0.42"/>
<rect x="114.5" y="1510.90" width="55" height="2.2" fill="#000" fill-opacity="0.42"/>
<rect x="114.5" y="1517.17" width="55" height="2.2" fill="#000" fill-opacity="0.42"/>
<rect x="114.5" y="1523.45" width="55" height="2.2" fill="#000" fill-opacity="0.42"/>
<rect x="114.5" y="1529.72" width="55" height="2.2" fill="#000" fill-opacity="0.42"/>
<rect x="114.5" y="1535.99" width="55" height="2.2" fill="#000" fill-opacity="0.42"/>
<rect x="114.5" y="1542.26" width="55" height="2.2" fill="#000" fill-opacity="0.42"/>
<rect x="114.5" y="1548.54" width="55" height="2.2" fill="#000" fill-opacity="0.42"/>
<rect x="114.5" y="1554.81" width="55" height="2.2" fill="#000" fill-opacity="0.42"/>
<rect x="114.5" y="1561.08" width="55" height="2.2" fill="#000" fill-opacity="0.42"/>
<rect x="114.5" y="1567.35" width="55" height="2.2" fill="#000" fill-opacity="0.42"/>
<rect x="114.5" y="1573.63" width="55" height="2.2" fill="#000" fill-opacity="0.42"/>
<rect x="114.5" y="1579.90" width="55" height="2.2" fill="#000" fill-opacity="0.42"/>
<rect x="114.5" y="1586.17" width="55" height="2.2" fill="#000" fill-opacity="0.42"/>
<rect x="114.5" y="1592.45" width="55" height="2.2" fill="#000" fill-opacity="0.42"/>
<rect x="114.5" y="1598.72" width="55" height="2.2" fill="#000" fill-opacity="0.42"/>
<rect x="114.5" y="1604.99" width="55" height="2.2" fill="#000" fill-opacity="0.42"/>
<rect x="114.5" y="1611.26" width="55" height="2.2" fill="#000" fill-opacity="0.42"/>
<rect x="114.5" y="1617.54" width="55" height="2.2" fill="#000" fill-opacity="0.42"/>
<rect x="114.5" y="1623.81" width="55" height="2.2" fill="#000" fill-opacity="0.42"/>
<rect x="114.5" y="1630.08" width="55" height="2.2" fill="#000" fill-opacity="0.42"/>
<rect x="114.5" y="1636.35" width="55" height="2.2" fill="#000" fill-opacity="0.42"/>
<rect x="114.5" y="1642.63" width="55" height="2.2" fill="#000" fill-opacity="0.42"/>
<rect x="114.5" y="1648.90" width="55" height="2.2" fill="#000" fill-opacity="0.42"/>
<text x="185" y="1460.3" font-size="23" textLength="46" lengthAdjust="spacingAndGlyphs" stroke="#000" stroke-width="0.4">10<tspan dy="-8.5" font-size="14.5">16</tspan></text>
<text x="185" y="1523.9" font-size="23" textLength="46" lengthAdjust="spacingAndGlyphs" stroke="#000" stroke-width="0.4">10<tspan dy="-8.5" font-size="14.5">14</tspan></text>
<text x="185" y="1587.5" font-size="23" textLength="46" lengthAdjust="spacingAndGlyphs" stroke="#000" stroke-width="0.4">10<tspan dy="-8.5" font-size="14.5">12</tspan></text>
<text x="185" y="1651.1" font-size="23" textLength="46" lengthAdjust="spacingAndGlyphs" stroke="#000" stroke-width="0.4">10<tspan dy="-8.5" font-size="14.5">10</tspan></text>
<text x="660.5" y="1751.2" font-size="23.5" text-anchor="middle" fill="#111" textLength="35.0" lengthAdjust="spacingAndGlyphs" stroke="#111" stroke-width="0.42" >µm</text>
</svg>
</body></html>
